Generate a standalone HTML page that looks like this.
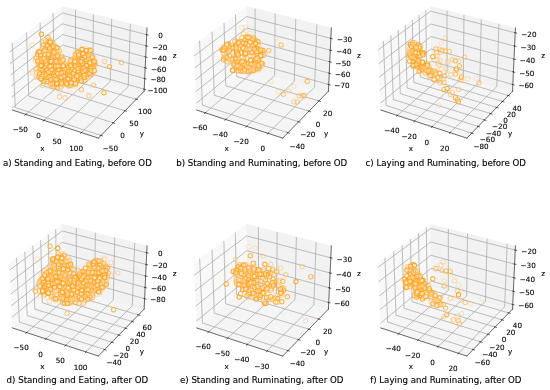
<!DOCTYPE html><html><head><meta charset="utf-8"><title>figure</title><style>html,body{margin:0;padding:0;background:#fff}svg{display:block}g[id^=tkx],g[id^=tky]{transform:translate(0px,0.9px)}text{font-family:"DejaVu Sans","Liberation Sans",sans-serif;stroke:#000;stroke-width:0.3px;stroke-opacity:0.55}</style></head><body><svg width="550" height="390" viewBox="0 0 760.66 539.37" version="1.1"> <defs> <style type="text/css">*{stroke-linejoin: round; stroke-linecap: butt}</style> </defs> <g id="figure_1"> <g id="patch_1"> <path d="M 0 539.37 L 760.66 539.37 L 760.66 0 L 0 0 z " style="fill: #ffffff"/> </g> <g id="patch_2"> <path d="M 1.10 204.41 L 212.98 204.41 L 212.98 -1 M 1.10 -1 L 1.10 204.41 " style="fill: none; opacity: 0"/> </g> <g id="pane3d_1"> <g id="patch_3"> <path d="M 17.10 152.16 L 87.07 93.51 L 86.10 8.93 L 12.78 62.43 " style="fill: #f2f2f2; opacity: 0.5; stroke: #f2f2f2; stroke-linejoin: miter"/> </g> </g> <g id="pane3d_2"> <g id="patch_4"> <path d="M 87.07 93.51 L 199.34 126.15 L 203.35 38.65 L 86.10 8.93 " style="fill: #e6e6e6; opacity: 0.5; stroke: #e6e6e6; stroke-linejoin: miter"/> </g> </g> <g id="pane3d_3"> <g id="patch_5"> <path d="M 17.10 152.16 L 136.12 191.03 L 199.34 126.15 L 87.07 93.51 " style="fill: #ececec; opacity: 0.5; stroke: #ececec; stroke-linejoin: miter"/> </g> </g> <g id="grid3d_1"> <g id="Line3DCollection_1"> <path d="M 35.65 158.22 L 104.63 98.62 L 104.41 13.57 " style="fill: none; stroke: #adadad; stroke-width: 1.1"/> <path d="M 60.74 166.42 L 128.35 105.51 L 129.15 19.84 " style="fill: none; stroke: #adadad; stroke-width: 1.1"/> <path d="M 86.40 174.80 L 152.57 112.55 L 154.44 26.25 " style="fill: none; stroke: #adadad; stroke-width: 1.1"/> <path d="M 112.66 183.37 L 177.30 119.74 L 180.29 32.80 " style="fill: none; stroke: #adadad; stroke-width: 1.1"/> </g> </g> <g id="grid3d_2"> <g id="Line3DCollection_2"> <path d="M 16.99 59.36 L 21.10 148.81 L 139.75 187.31 " style="fill: none; stroke: #adadad; stroke-width: 1.1"/> <path d="M 36.67 45.00 L 39.84 133.10 L 156.73 169.88 " style="fill: none; stroke: #adadad; stroke-width: 1.1"/> <path d="M 55.46 31.28 L 57.77 118.07 L 172.94 153.25 " style="fill: none; stroke: #adadad; stroke-width: 1.1"/> <path d="M 73.43 18.17 L 74.95 103.67 L 188.43 137.35 " style="fill: none; stroke: #adadad; stroke-width: 1.1"/> </g> </g> <g id="grid3d_3"> <g id="Line3DCollection_3"> <path d="M 202.93 47.94 L 86.20 17.89 L 13.24 71.97 " style="fill: none; stroke: #adadad; stroke-width: 1.1"/> <path d="M 202.21 63.49 L 86.37 32.91 L 14.01 87.94 " style="fill: none; stroke: #adadad; stroke-width: 1.1"/> <path d="M 201.51 78.81 L 86.54 47.71 L 14.76 103.65 " style="fill: none; stroke: #adadad; stroke-width: 1.1"/> <path d="M 200.82 93.89 L 86.71 62.29 L 15.51 119.12 " style="fill: none; stroke: #adadad; stroke-width: 1.1"/> <path d="M 200.14 108.75 L 86.88 76.67 L 16.24 134.35 " style="fill: none; stroke: #adadad; stroke-width: 1.1"/> <path d="M 199.47 123.39 L 87.04 90.84 L 16.96 149.34 " style="fill: none; stroke: #adadad; stroke-width: 1.1"/> </g> </g> <g id="axis3d_1"> <g id="line2d_1"> <path d="M 17.10 152.16 L 136.12 191.03 " style="fill: none; stroke: #000000; stroke-width: 0.8; stroke-linecap: square"/> </g> <g id="xtick_1"> <g id="line2d_2"> <path d="M 36.25 157.70 L 34.44 159.26 " style="fill: none; stroke: #000000; stroke-width: 0.8; stroke-linecap: square"/> </g> <g id="tkx_a_0"> <text style="font-size: 10px; text-anchor: middle" x="28.13" y="181.64">−50</text> </g> </g> <g id="xtick_2"> <g id="line2d_3"> <path d="M 61.33 165.88 L 59.56 167.48 " style="fill: none; stroke: #000000; stroke-width: 0.8; stroke-linecap: square"/> </g> <g id="tkx_a_1"> <text style="font-size: 10px; text-anchor: middle" x="53.25" y="190.06">0</text> </g> </g> <g id="xtick_3"> <g id="line2d_4"> <path d="M 86.98 174.25 L 85.25 175.89 " style="fill: none; stroke: #000000; stroke-width: 0.8; stroke-linecap: square"/> </g> <g id="tkx_a_2"> <text style="font-size: 10px; text-anchor: middle" x="78.95" y="198.66">50</text> </g> </g> <g id="xtick_4"> <g id="line2d_5"> <path d="M 113.23 182.82 L 111.53 184.49 " style="fill: none; stroke: #000000; stroke-width: 0.8; stroke-linecap: square"/> </g> <g id="tkx_a_3"> <text style="font-size: 10px; text-anchor: middle" x="105.25" y="207.47">100</text> </g> </g> <g id="text_1"> <text style="font-size: 10px; text-anchor: middle" x="58.71" y="209.19">x</text> </g> </g> <g id="axis3d_2"> <g id="line2d_6"> <path d="M 199.34 126.15 L 136.12 191.03 " style="fill: none; stroke: #000000; stroke-width: 0.8; stroke-linecap: square"/> </g> <g id="xtick_5"> <g id="line2d_7"> <path d="M 138.75 186.98 L 141.75 187.96 " style="fill: none; stroke: #000000; stroke-width: 0.8; stroke-linecap: square"/> </g> <g id="tky_a_0"> <text style="font-size: 10px; text-anchor: middle" x="152.65" y="208.34">−50</text> </g> </g> <g id="xtick_6"> <g id="line2d_8"> <path d="M 155.74 169.57 L 158.70 170.50 " style="fill: none; stroke: #000000; stroke-width: 0.8; stroke-linecap: square"/> </g> <g id="tky_a_1"> <text style="font-size: 10px; text-anchor: middle" x="169.34" y="190.60">0</text> </g> </g> <g id="xtick_7"> <g id="line2d_9"> <path d="M 171.97 152.95 L 174.88 153.84 " style="fill: none; stroke: #000000; stroke-width: 0.8; stroke-linecap: square"/> </g> <g id="tky_a_2"> <text style="font-size: 10px; text-anchor: middle" x="185.27" y="173.65">50</text> </g> </g> <g id="xtick_8"> <g id="line2d_10"> <path d="M 187.48 137.06 L 190.34 137.91 " style="fill: none; stroke: #000000; stroke-width: 0.8; stroke-linecap: square"/> </g> <g id="tky_a_3"> <text style="font-size: 10px; text-anchor: middle" x="200.50" y="157.46">100</text> </g> </g> <g id="text_2"> <text style="font-size: 10px; text-anchor: middle" x="196.13" y="187.92">y</text> </g> </g> <g id="axis3d_3"> <g id="line2d_11"> <path d="M 199.34 126.15 L 203.35 38.65 " style="fill: none; stroke: #000000; stroke-width: 0.8; stroke-linecap: square"/> </g> <g id="xtick_9"> <g id="line2d_12"> <path d="M 201.94 47.69 L 204.89 48.45 " style="fill: none; stroke: #000000; stroke-width: 0.8; stroke-linecap: square"/> </g> <g id="text_3"> <text style="font-size: 10px; text-anchor: middle" x="221.87" y="53.14">0</text> </g> </g> <g id="xtick_10"> <g id="line2d_13"> <path d="M 201.24 63.23 L 204.16 64.01 " style="fill: none; stroke: #000000; stroke-width: 0.8; stroke-linecap: square"/> </g> <g id="text_4"> <text style="font-size: 10px; text-anchor: middle" x="221.02" y="68.65">−20</text> </g> </g> <g id="xtick_11"> <g id="line2d_14"> <path d="M 200.55 78.55 L 203.45 79.33 " style="fill: none; stroke: #000000; stroke-width: 0.8; stroke-linecap: square"/> </g> <g id="text_5"> <text style="font-size: 10px; text-anchor: middle" x="220.18" y="83.92">−40</text> </g> </g> <g id="xtick_12"> <g id="line2d_15"> <path d="M 199.86 93.63 L 202.74 94.42 " style="fill: none; stroke: #000000; stroke-width: 0.8; stroke-linecap: square"/> </g> <g id="text_6"> <text style="font-size: 10px; text-anchor: middle" x="219.35" y="98.97">−60</text> </g> </g> <g id="xtick_13"> <g id="line2d_16"> <path d="M 199.19 108.48 L 202.05 109.29 " style="fill: none; stroke: #000000; stroke-width: 0.8; stroke-linecap: square"/> </g> <g id="text_7"> <text style="font-size: 10px; text-anchor: middle" x="218.53" y="113.79">−80</text> </g> </g> <g id="xtick_14"> <g id="line2d_17"> <path d="M 198.53 123.12 L 201.36 123.94 " style="fill: none; stroke: #000000; stroke-width: 0.8; stroke-linecap: square"/> </g> <g id="text_8"> <text style="font-size: 10px; text-anchor: middle" x="217.73" y="128.39">−100</text> </g> </g> <g id="text_9"> <text style="font-size: 10px; text-anchor: middle" x="241.61" y="80.72">z</text> </g> </g> <g id="axes_1"/> <g id="patch_6"> <path d="M 255.99 204.41 L 467.87 204.41 L 467.87 -1 M 255.99 -1 L 255.99 204.41 " style="fill: none; opacity: 0"/> </g> <g id="pane3d_4"> <g id="patch_7"> <path d="M 271.99 152.16 L 341.96 93.51 L 340.99 8.93 L 267.67 62.43 " style="fill: #f2f2f2; opacity: 0.5; stroke: #f2f2f2; stroke-linejoin: miter"/> </g> </g> <g id="pane3d_5"> <g id="patch_8"> <path d="M 341.96 93.51 L 454.24 126.15 L 458.24 38.65 L 340.99 8.93 " style="fill: #e6e6e6; opacity: 0.5; stroke: #e6e6e6; stroke-linejoin: miter"/> </g> </g> <g id="pane3d_6"> <g id="patch_9"> <path d="M 271.99 152.16 L 391.01 191.03 L 454.24 126.15 L 341.96 93.51 " style="fill: #ececec; opacity: 0.5; stroke: #ececec; stroke-linejoin: miter"/> </g> </g> <g id="grid3d_4"> <g id="Line3DCollection_4"> <path d="M 283.90 156.05 L 353.24 96.79 L 352.74 11.91 " style="fill: none; stroke: #adadad; stroke-width: 1.1"/> <path d="M 312.09 165.26 L 379.90 104.54 L 380.55 18.96 " style="fill: none; stroke: #adadad; stroke-width: 1.1"/> <path d="M 341.01 174.70 L 407.19 112.47 L 409.05 26.18 " style="fill: none; stroke: #adadad; stroke-width: 1.1"/> <path d="M 370.69 184.40 L 435.13 120.60 L 438.26 33.59 " style="fill: none; stroke: #adadad; stroke-width: 1.1"/> </g> </g> <g id="grid3d_5"> <g id="Line3DCollection_5"> <path d="M 276.02 56.34 L 279.94 145.50 L 398.22 183.64 " style="fill: none; stroke: #adadad; stroke-width: 1.1"/> <path d="M 293.27 43.75 L 296.36 131.73 L 413.09 168.37 " style="fill: none; stroke: #adadad; stroke-width: 1.1"/> <path d="M 309.83 31.66 L 312.16 118.49 L 427.38 153.71 " style="fill: none; stroke: #adadad; stroke-width: 1.1"/> <path d="M 325.75 20.05 L 327.38 105.74 L 441.10 139.62 " style="fill: none; stroke: #adadad; stroke-width: 1.1"/> </g> </g> <g id="grid3d_6"> <g id="Line3DCollection_6"> <path d="M 457.58 53.09 L 341.15 22.86 L 268.38 77.26 " style="fill: none; stroke: #adadad; stroke-width: 1.1"/> <path d="M 456.83 69.43 L 341.33 38.64 L 269.19 94.03 " style="fill: none; stroke: #adadad; stroke-width: 1.1"/> <path d="M 456.10 85.51 L 341.51 54.19 L 269.99 110.53 " style="fill: none; stroke: #adadad; stroke-width: 1.1"/> <path d="M 455.37 101.34 L 341.68 69.50 L 270.77 126.75 " style="fill: none; stroke: #adadad; stroke-width: 1.1"/> <path d="M 454.66 116.92 L 341.86 84.57 L 271.54 142.71 " style="fill: none; stroke: #adadad; stroke-width: 1.1"/> </g> </g> <g id="axis3d_4"> <g id="line2d_18"> <path d="M 271.99 152.16 L 391.01 191.03 " style="fill: none; stroke: #000000; stroke-width: 0.8; stroke-linecap: square"/> </g> <g id="xtick_15"> <g id="line2d_19"> <path d="M 284.50 155.53 L 282.69 157.09 " style="fill: none; stroke: #000000; stroke-width: 0.8; stroke-linecap: square"/> </g> <g id="tkx_b_0"> <text style="font-size: 10px; text-anchor: middle" x="276.37" y="179.42">−60</text> </g> </g> <g id="xtick_16"> <g id="line2d_20"> <path d="M 312.68 164.73 L 310.90 166.32 " style="fill: none; stroke: #000000; stroke-width: 0.8; stroke-linecap: square"/> </g> <g id="tkx_b_1"> <text style="font-size: 10px; text-anchor: middle" x="304.59" y="188.87">−40</text> </g> </g> <g id="xtick_17"> <g id="line2d_21"> <path d="M 341.59 174.16 L 339.85 175.79 " style="fill: none; stroke: #000000; stroke-width: 0.8; stroke-linecap: square"/> </g> <g id="tkx_b_2"> <text style="font-size: 10px; text-anchor: middle" x="333.56" y="198.57">−20</text> </g> </g> <g id="xtick_18"> <g id="line2d_22"> <path d="M 371.25 183.84 L 369.56 185.51 " style="fill: none; stroke: #000000; stroke-width: 0.8; stroke-linecap: square"/> </g> <g id="tkx_b_3"> <text style="font-size: 10px; text-anchor: middle" x="363.28" y="208.52">0</text> </g> </g> <g id="text_10"> <text style="font-size: 10px; text-anchor: middle" x="313.60" y="209.19">x</text> </g> </g> <g id="axis3d_5"> <g id="line2d_23"> <path d="M 454.24 126.15 L 391.01 191.03 " style="fill: none; stroke: #000000; stroke-width: 0.8; stroke-linecap: square"/> </g> <g id="xtick_19"> <g id="line2d_24"> <path d="M 397.22 183.31 L 400.21 184.28 " style="fill: none; stroke: #000000; stroke-width: 0.8; stroke-linecap: square"/> </g> <g id="tky_b_0"> <text style="font-size: 10px; text-anchor: middle" x="411.05" y="204.61">−40</text> </g> </g> <g id="xtick_20"> <g id="line2d_25"> <path d="M 412.11 168.06 L 415.06 168.99 " style="fill: none; stroke: #000000; stroke-width: 0.8; stroke-linecap: square"/> </g> <g id="tky_b_1"> <text style="font-size: 10px; text-anchor: middle" x="425.68" y="189.05">−20</text> </g> </g> <g id="xtick_21"> <g id="line2d_26"> <path d="M 426.41 153.41 L 429.32 154.30 " style="fill: none; stroke: #000000; stroke-width: 0.8; stroke-linecap: square"/> </g> <g id="tky_b_2"> <text style="font-size: 10px; text-anchor: middle" x="439.72" y="174.12">0</text> </g> </g> <g id="xtick_22"> <g id="line2d_27"> <path d="M 440.15 139.34 L 443.02 140.19 " style="fill: none; stroke: #000000; stroke-width: 0.8; stroke-linecap: square"/> </g> <g id="tky_b_3"> <text style="font-size: 10px; text-anchor: middle" x="453.21" y="159.78">20</text> </g> </g> <g id="text_11"> <text style="font-size: 10px; text-anchor: middle" x="451.02" y="187.92">y</text> </g> </g> <g id="axis3d_6"> <g id="line2d_28"> <path d="M 454.24 126.15 L 458.24 38.65 " style="fill: none; stroke: #000000; stroke-width: 0.8; stroke-linecap: square"/> </g> <g id="xtick_23"> <g id="line2d_29"> <path d="M 456.60 52.83 L 459.54 53.60 " style="fill: none; stroke: #000000; stroke-width: 0.8; stroke-linecap: square"/> </g> <g id="text_12"> <text style="font-size: 10px; text-anchor: middle" x="476.48" y="58.27">−30</text> </g> </g> <g id="xtick_24"> <g id="line2d_30"> <path d="M 455.86 69.17 L 458.78 69.95 " style="fill: none; stroke: #000000; stroke-width: 0.8; stroke-linecap: square"/> </g> <g id="text_13"> <text style="font-size: 10px; text-anchor: middle" x="475.58" y="74.57">−40</text> </g> </g> <g id="xtick_25"> <g id="line2d_31"> <path d="M 455.13 85.25 L 458.02 86.04 " style="fill: none; stroke: #000000; stroke-width: 0.8; stroke-linecap: square"/> </g> <g id="text_14"> <text style="font-size: 10px; text-anchor: middle" x="474.70" y="90.61">−50</text> </g> </g> <g id="xtick_26"> <g id="line2d_32"> <path d="M 454.42 101.07 L 457.28 101.88 " style="fill: none; stroke: #000000; stroke-width: 0.8; stroke-linecap: square"/> </g> <g id="text_15"> <text style="font-size: 10px; text-anchor: middle" x="473.83" y="106.40">−60</text> </g> </g> <g id="xtick_27"> <g id="line2d_33"> <path d="M 453.71 116.65 L 456.55 117.46 " style="fill: none; stroke: #000000; stroke-width: 0.8; stroke-linecap: square"/> </g> <g id="text_16"> <text style="font-size: 10px; text-anchor: middle" x="472.98" y="121.94">−70</text> </g> </g> <g id="text_17"> <text style="font-size: 10px; text-anchor: middle" x="496.50" y="80.72">z</text> </g> </g> <g id="axes_2"/> <g id="patch_10"> <path d="M 510.61 204.41 L 722.48 204.41 L 722.48 -1 M 510.61 -1 L 510.61 204.41 " style="fill: none; opacity: 0"/> </g> <g id="pane3d_7"> <g id="patch_11"> <path d="M 526.60 152.16 L 596.57 93.51 L 595.60 8.93 L 522.28 62.43 " style="fill: #f2f2f2; opacity: 0.5; stroke: #f2f2f2; stroke-linejoin: miter"/> </g> </g> <g id="pane3d_8"> <g id="patch_12"> <path d="M 596.57 93.51 L 708.85 126.15 L 712.86 38.65 L 595.60 8.93 " style="fill: #e6e6e6; opacity: 0.5; stroke: #e6e6e6; stroke-linejoin: miter"/> </g> </g> <g id="pane3d_9"> <g id="patch_13"> <path d="M 526.60 152.16 L 645.62 191.03 L 708.85 126.15 L 596.57 93.51 " style="fill: #ececec; opacity: 0.5; stroke: #ececec; stroke-linejoin: miter"/> </g> </g> <g id="grid3d_7"> <g id="Line3DCollection_7"> <path d="M 549.54 159.65 L 618.28 99.82 L 618.24 14.67 " style="fill: none; stroke: #adadad; stroke-width: 1.1"/> <path d="M 573.31 167.42 L 640.76 106.36 L 641.68 20.61 " style="fill: none; stroke: #adadad; stroke-width: 1.1"/> <path d="M 597.61 175.35 L 663.67 113.02 L 665.62 26.68 " style="fill: none; stroke: #adadad; stroke-width: 1.1"/> <path d="M 622.43 183.46 L 687.05 119.81 L 690.05 32.87 " style="fill: none; stroke: #adadad; stroke-width: 1.1"/> </g> </g> <g id="grid3d_8"> <g id="Line3DCollection_8"> <path d="M 530.13 56.71 L 534.07 145.91 L 652.39 184.09 " style="fill: none; stroke: #adadad; stroke-width: 1.1"/> <path d="M 540.51 49.13 L 543.95 137.63 L 661.35 174.90 " style="fill: none; stroke: #adadad; stroke-width: 1.1"/> <path d="M 550.64 41.74 L 553.60 129.54 L 670.08 165.93 " style="fill: none; stroke: #adadad; stroke-width: 1.1"/> <path d="M 560.52 34.53 L 563.03 121.63 L 678.61 157.18 " style="fill: none; stroke: #adadad; stroke-width: 1.1"/> <path d="M 570.18 27.48 L 572.25 113.90 L 686.94 148.64 " style="fill: none; stroke: #adadad; stroke-width: 1.1"/> <path d="M 579.61 20.60 L 581.27 106.34 L 695.07 140.29 " style="fill: none; stroke: #adadad; stroke-width: 1.1"/> <path d="M 588.83 13.87 L 590.09 98.95 L 703.01 132.14 " style="fill: none; stroke: #adadad; stroke-width: 1.1"/> </g> </g> <g id="grid3d_9"> <g id="Line3DCollection_9"> <path d="M 712.55 45.35 L 595.67 15.39 L 522.61 69.31 " style="fill: none; stroke: #adadad; stroke-width: 1.1"/> <path d="M 711.71 63.71 L 595.88 33.12 L 523.52 88.17 " style="fill: none; stroke: #adadad; stroke-width: 1.1"/> <path d="M 710.88 81.75 L 596.08 50.55 L 524.41 106.67 " style="fill: none; stroke: #adadad; stroke-width: 1.1"/> <path d="M 710.07 99.47 L 596.28 67.68 L 525.29 124.83 " style="fill: none; stroke: #adadad; stroke-width: 1.1"/> <path d="M 709.27 116.87 L 596.47 84.53 L 526.15 142.67 " style="fill: none; stroke: #adadad; stroke-width: 1.1"/> </g> </g> <g id="axis3d_7"> <g id="line2d_34"> <path d="M 526.60 152.16 L 645.62 191.03 " style="fill: none; stroke: #000000; stroke-width: 0.8; stroke-linecap: square"/> </g> <g id="xtick_28"> <g id="line2d_35"> <path d="M 550.14 159.13 L 548.34 160.70 " style="fill: none; stroke: #000000; stroke-width: 0.8; stroke-linecap: square"/> </g> <g id="tkx_c_0"> <text style="font-size: 10px; text-anchor: middle" x="542.02" y="183.11">−40</text> </g> </g> <g id="xtick_29"> <g id="line2d_36"> <path d="M 573.90 166.89 L 572.13 168.49 " style="fill: none; stroke: #000000; stroke-width: 0.8; stroke-linecap: square"/> </g> <g id="tkx_c_1"> <text style="font-size: 10px; text-anchor: middle" x="565.83" y="191.09">−20</text> </g> </g> <g id="xtick_30"> <g id="line2d_37"> <path d="M 598.18 174.81 L 596.45 176.44 " style="fill: none; stroke: #000000; stroke-width: 0.8; stroke-linecap: square"/> </g> <g id="tkx_c_2"> <text style="font-size: 10px; text-anchor: middle" x="590.16" y="199.23">0</text> </g> </g> <g id="xtick_31"> <g id="line2d_38"> <path d="M 622.99 182.90 L 621.30 184.57 " style="fill: none; stroke: #000000; stroke-width: 0.8; stroke-linecap: square"/> </g> <g id="tkx_c_3"> <text style="font-size: 10px; text-anchor: middle" x="615.02" y="207.56">20</text> </g> </g> <g id="text_18"> <text style="font-size: 10px; text-anchor: middle" x="568.22" y="209.19">x</text> </g> </g> <g id="axis3d_8"> <g id="line2d_39"> <path d="M 708.85 126.15 L 645.62 191.03 " style="fill: none; stroke: #000000; stroke-width: 0.8; stroke-linecap: square"/> </g> <g id="xtick_32"> <g id="line2d_40"> <path d="M 651.39 183.76 L 654.39 184.73 " style="fill: none; stroke: #000000; stroke-width: 0.8; stroke-linecap: square"/> </g> <g id="tky_c_0"> <text style="font-size: 10px; text-anchor: middle" x="665.23" y="205.06">−80</text> </g> </g> <g id="xtick_33"> <g id="line2d_41"> <path d="M 660.36 174.58 L 663.32 175.53 " style="fill: none; stroke: #000000; stroke-width: 0.8; stroke-linecap: square"/> </g> <g id="tky_c_1"> <text style="font-size: 10px; text-anchor: middle" x="674.04" y="195.71">−60</text> </g> </g> <g id="xtick_34"> <g id="line2d_42"> <path d="M 669.10 165.63 L 672.04 166.55 " style="fill: none; stroke: #000000; stroke-width: 0.8; stroke-linecap: square"/> </g> <g id="tky_c_2"> <text style="font-size: 10px; text-anchor: middle" x="682.63" y="186.57">−40</text> </g> </g> <g id="xtick_35"> <g id="line2d_43"> <path d="M 677.64 156.88 L 680.56 157.78 " style="fill: none; stroke: #000000; stroke-width: 0.8; stroke-linecap: square"/> </g> <g id="tky_c_3"> <text style="font-size: 10px; text-anchor: middle" x="691.01" y="177.66">−20</text> </g> </g> <g id="xtick_36"> <g id="line2d_44"> <path d="M 685.97 148.34 L 688.87 149.22 " style="fill: none; stroke: #000000; stroke-width: 0.8; stroke-linecap: square"/> </g> <g id="tky_c_4"> <text style="font-size: 10px; text-anchor: middle" x="699.19" y="168.96">0</text> </g> </g> <g id="xtick_37"> <g id="line2d_45"> <path d="M 694.11 140.01 L 696.98 140.86 " style="fill: none; stroke: #000000; stroke-width: 0.8; stroke-linecap: square"/> </g> <g id="tky_c_5"> <text style="font-size: 10px; text-anchor: middle" x="707.19" y="160.46">20</text> </g> </g> <g id="xtick_38"> <g id="line2d_46"> <path d="M 702.06 131.86 L 704.91 132.70 " style="fill: none; stroke: #000000; stroke-width: 0.8; stroke-linecap: square"/> </g> <g id="tky_c_6"> <text style="font-size: 10px; text-anchor: middle" x="715.00" y="152.15">40</text> </g> </g> <g id="text_19"> <text style="font-size: 10px; text-anchor: middle" x="705.63" y="187.92">y</text> </g> </g> <g id="axis3d_9"> <g id="line2d_47"> <path d="M 708.85 126.15 L 712.86 38.65 " style="fill: none; stroke: #000000; stroke-width: 0.8; stroke-linecap: square"/> </g> <g id="xtick_39"> <g id="line2d_48"> <path d="M 711.57 45.09 L 714.52 45.85 " style="fill: none; stroke: #000000; stroke-width: 0.8; stroke-linecap: square"/> </g> <g id="text_20"> <text style="font-size: 10px; text-anchor: middle" x="731.52" y="50.55">−20</text> </g> </g> <g id="xtick_40"> <g id="line2d_49"> <path d="M 710.73 63.45 L 713.66 64.23 " style="fill: none; stroke: #000000; stroke-width: 0.8; stroke-linecap: square"/> </g> <g id="text_21"> <text style="font-size: 10px; text-anchor: middle" x="730.51" y="68.87">−30</text> </g> </g> <g id="xtick_41"> <g id="line2d_50"> <path d="M 709.92 81.49 L 712.81 82.27 " style="fill: none; stroke: #000000; stroke-width: 0.8; stroke-linecap: square"/> </g> <g id="text_22"> <text style="font-size: 10px; text-anchor: middle" x="729.52" y="86.86">−40</text> </g> </g> <g id="xtick_42"> <g id="line2d_51"> <path d="M 709.12 99.20 L 711.98 100.00 " style="fill: none; stroke: #000000; stroke-width: 0.8; stroke-linecap: square"/> </g> <g id="text_23"> <text style="font-size: 10px; text-anchor: middle" x="728.55" y="104.53">−50</text> </g> </g> <g id="xtick_43"> <g id="line2d_52"> <path d="M 708.33 116.60 L 711.17 117.42 " style="fill: none; stroke: #000000; stroke-width: 0.8; stroke-linecap: square"/> </g> <g id="text_24"> <text style="font-size: 10px; text-anchor: middle" x="727.59" y="121.89">−60</text> </g> </g> <g id="text_25"> <text style="font-size: 10px; text-anchor: middle" x="751.12" y="80.72">z</text> </g> </g> <g id="axes_3"/> <g id="patch_14"> <path d="M 1.10 505.77 L 212.98 505.77 L 212.98 293.89 L 1.10 293.89 L 1.10 505.77 z " style="fill: none; opacity: 0"/> </g> <g id="pane3d_10"> <g id="patch_15"> <path d="M 17.10 453.52 L 87.07 394.87 L 86.10 310.29 L 12.78 363.79 " style="fill: #f2f2f2; opacity: 0.5; stroke: #f2f2f2; stroke-linejoin: miter"/> </g> </g> <g id="pane3d_11"> <g id="patch_16"> <path d="M 87.07 394.87 L 199.34 427.51 L 203.35 340.01 L 86.10 310.29 " style="fill: #e6e6e6; opacity: 0.5; stroke: #e6e6e6; stroke-linejoin: miter"/> </g> </g> <g id="pane3d_12"> <g id="patch_17"> <path d="M 17.10 453.52 L 136.12 492.39 L 199.34 427.51 L 87.07 394.87 " style="fill: #ececec; opacity: 0.5; stroke: #ececec; stroke-linejoin: miter"/> </g> </g> <g id="grid3d_10"> <g id="Line3DCollection_10"> <path d="M 36.79 459.95 L 105.71 400.29 L 105.53 315.22 " style="fill: none; stroke: #adadad; stroke-width: 1.1"/> <path d="M 63.46 468.66 L 130.92 407.62 L 131.83 321.88 " style="fill: none; stroke: #adadad; stroke-width: 1.1"/> <path d="M 90.77 477.58 L 156.68 415.11 L 158.74 328.70 " style="fill: none; stroke: #adadad; stroke-width: 1.1"/> <path d="M 118.76 486.73 L 183.03 422.77 L 186.29 335.68 " style="fill: none; stroke: #adadad; stroke-width: 1.1"/> </g> </g> <g id="grid3d_11"> <g id="Line3DCollection_11"> <path d="M 22.90 356.41 L 26.73 445.45 L 144.85 483.43 " style="fill: none; stroke: #adadad; stroke-width: 1.1"/> <path d="M 34.30 348.09 L 37.59 436.35 L 154.69 473.33 " style="fill: none; stroke: #adadad; stroke-width: 1.1"/> <path d="M 45.41 339.98 L 48.17 427.48 L 164.27 463.51 " style="fill: none; stroke: #adadad; stroke-width: 1.1"/> <path d="M 56.22 332.09 L 58.50 418.82 L 173.59 453.93 " style="fill: none; stroke: #adadad; stroke-width: 1.1"/> <path d="M 66.76 324.40 L 68.56 410.38 L 182.68 444.61 " style="fill: none; stroke: #adadad; stroke-width: 1.1"/> <path d="M 77.03 316.91 L 78.38 402.15 L 191.53 435.53 " style="fill: none; stroke: #adadad; stroke-width: 1.1"/> </g> </g> <g id="grid3d_12"> <g id="Line3DCollection_12"> <path d="M 202.92 349.50 L 86.20 319.44 L 13.25 373.54 " style="fill: none; stroke: #adadad; stroke-width: 1.1"/> <path d="M 202.17 365.79 L 86.38 335.17 L 14.05 390.26 " style="fill: none; stroke: #adadad; stroke-width: 1.1"/> <path d="M 201.44 381.82 L 86.56 350.66 L 14.85 406.71 " style="fill: none; stroke: #adadad; stroke-width: 1.1"/> <path d="M 200.71 397.60 L 86.74 365.92 L 15.62 422.88 " style="fill: none; stroke: #adadad; stroke-width: 1.1"/> <path d="M 200.00 413.13 L 86.91 380.95 L 16.39 438.80 " style="fill: none; stroke: #adadad; stroke-width: 1.1"/> </g> </g> <g id="axis3d_10"> <g id="line2d_53"> <path d="M 17.10 453.52 L 136.12 492.39 " style="fill: none; stroke: #000000; stroke-width: 0.8; stroke-linecap: square"/> </g> <g id="xtick_44"> <g id="line2d_54"> <path d="M 37.39 459.43 L 35.59 461.00 " style="fill: none; stroke: #000000; stroke-width: 0.8; stroke-linecap: square"/> </g> <g id="tkx_d_0"> <text style="font-size: 10px; text-anchor: middle" x="29.27" y="483.39">−50</text> </g> </g> <g id="xtick_45"> <g id="line2d_55"> <path d="M 64.05 468.13 L 62.28 469.73 " style="fill: none; stroke: #000000; stroke-width: 0.8; stroke-linecap: square"/> </g> <g id="tkx_d_1"> <text style="font-size: 10px; text-anchor: middle" x="55.97" y="492.33">0</text> </g> </g> <g id="xtick_46"> <g id="line2d_56"> <path d="M 91.35 477.04 L 89.62 478.68 " style="fill: none; stroke: #000000; stroke-width: 0.8; stroke-linecap: square"/> </g> <g id="tkx_d_2"> <text style="font-size: 10px; text-anchor: middle" x="83.33" y="501.49">50</text> </g> </g> <g id="xtick_47"> <g id="line2d_57"> <path d="M 119.32 486.17 L 117.63 487.85 " style="fill: none; stroke: #000000; stroke-width: 0.8; stroke-linecap: square"/> </g> <g id="tkx_d_3"> <text style="font-size: 10px; text-anchor: middle" x="111.36" y="510.88">100</text> </g> </g> <g id="text_26"> <text style="font-size: 10px; text-anchor: middle" x="58.71" y="510.55">x</text> </g> </g> <g id="axis3d_11"> <g id="line2d_58"> <path d="M 199.34 427.51 L 136.12 492.39 " style="fill: none; stroke: #000000; stroke-width: 0.8; stroke-linecap: square"/> </g> <g id="xtick_48"> <g id="line2d_59"> <path d="M 143.85 483.11 L 146.84 484.07 " style="fill: none; stroke: #000000; stroke-width: 0.8; stroke-linecap: square"/> </g> <g id="tky_d_0"> <text style="font-size: 10px; text-anchor: middle" x="157.66" y="504.37">−40</text> </g> </g> <g id="xtick_49"> <g id="line2d_60"> <path d="M 153.70 473.02 L 156.66 473.96 " style="fill: none; stroke: #000000; stroke-width: 0.8; stroke-linecap: square"/> </g> <g id="tky_d_1"> <text style="font-size: 10px; text-anchor: middle" x="167.33" y="494.09">−20</text> </g> </g> <g id="xtick_50"> <g id="line2d_61"> <path d="M 163.29 463.20 L 166.22 464.11 " style="fill: none; stroke: #000000; stroke-width: 0.8; stroke-linecap: square"/> </g> <g id="tky_d_2"> <text style="font-size: 10px; text-anchor: middle" x="176.75" y="484.08">0</text> </g> </g> <g id="xtick_51"> <g id="line2d_62"> <path d="M 172.63 453.64 L 175.53 454.53 " style="fill: none; stroke: #000000; stroke-width: 0.8; stroke-linecap: square"/> </g> <g id="tky_d_3"> <text style="font-size: 10px; text-anchor: middle" x="185.92" y="474.33">20</text> </g> </g> <g id="xtick_52"> <g id="line2d_63"> <path d="M 181.72 444.33 L 184.60 445.19 " style="fill: none; stroke: #000000; stroke-width: 0.8; stroke-linecap: square"/> </g> <g id="tky_d_4"> <text style="font-size: 10px; text-anchor: middle" x="194.85" y="464.83">40</text> </g> </g> <g id="xtick_53"> <g id="line2d_64"> <path d="M 190.58 435.25 L 193.43 436.09 " style="fill: none; stroke: #000000; stroke-width: 0.8; stroke-linecap: square"/> </g> <g id="tky_d_5"> <text style="font-size: 10px; text-anchor: middle" x="203.55" y="455.58">60</text> </g> </g> <g id="text_27"> <text style="font-size: 10px; text-anchor: middle" x="196.13" y="489.28">y</text> </g> </g> <g id="axis3d_12"> <g id="line2d_65"> <path d="M 199.34 427.51 L 203.35 340.01 " style="fill: none; stroke: #000000; stroke-width: 0.8; stroke-linecap: square"/> </g> <g id="xtick_54"> <g id="line2d_66"> <path d="M 201.94 349.24 L 204.88 350.00 " style="fill: none; stroke: #000000; stroke-width: 0.8; stroke-linecap: square"/> </g> <g id="text_28"> <text style="font-size: 10px; text-anchor: middle" x="221.86" y="354.69">0</text> </g> </g> <g id="xtick_55"> <g id="line2d_67"> <path d="M 201.20 365.53 L 204.12 366.30 " style="fill: none; stroke: #000000; stroke-width: 0.8; stroke-linecap: square"/> </g> <g id="text_29"> <text style="font-size: 10px; text-anchor: middle" x="220.97" y="370.94">−20</text> </g> </g> <g id="xtick_56"> <g id="line2d_68"> <path d="M 200.47 381.56 L 203.37 382.34 " style="fill: none; stroke: #000000; stroke-width: 0.8; stroke-linecap: square"/> </g> <g id="text_30"> <text style="font-size: 10px; text-anchor: middle" x="220.09" y="386.93">−40</text> </g> </g> <g id="xtick_57"> <g id="line2d_69"> <path d="M 199.76 397.33 L 202.63 398.13 " style="fill: none; stroke: #000000; stroke-width: 0.8; stroke-linecap: square"/> </g> <g id="text_31"> <text style="font-size: 10px; text-anchor: middle" x="219.22" y="402.67">−60</text> </g> </g> <g id="xtick_58"> <g id="line2d_70"> <path d="M 199.05 412.86 L 201.90 413.67 " style="fill: none; stroke: #000000; stroke-width: 0.8; stroke-linecap: square"/> </g> <g id="text_32"> <text style="font-size: 10px; text-anchor: middle" x="218.37" y="418.16">−80</text> </g> </g> <g id="text_33"> <text style="font-size: 10px; text-anchor: middle" x="241.61" y="382.08">z</text> </g> </g> <g id="axes_4"/> <g id="patch_18"> <path d="M 255.99 505.77 L 467.87 505.77 L 467.87 293.89 L 255.99 293.89 L 255.99 505.77 z " style="fill: none; opacity: 0"/> </g> <g id="pane3d_13"> <g id="patch_19"> <path d="M 271.99 453.52 L 341.96 394.87 L 340.99 310.29 L 267.67 363.79 " style="fill: #f2f2f2; opacity: 0.5; stroke: #f2f2f2; stroke-linejoin: miter"/> </g> </g> <g id="pane3d_14"> <g id="patch_20"> <path d="M 341.96 394.87 L 454.24 427.51 L 458.24 340.01 L 340.99 310.29 " style="fill: #e6e6e6; opacity: 0.5; stroke: #e6e6e6; stroke-linejoin: miter"/> </g> </g> <g id="pane3d_15"> <g id="patch_21"> <path d="M 271.99 453.52 L 391.01 492.39 L 454.24 427.51 L 341.96 394.87 " style="fill: #ececec; opacity: 0.5; stroke: #ececec; stroke-linejoin: miter"/> </g> </g> <g id="grid3d_13"> <g id="Line3DCollection_13"> <path d="M 288.54 458.93 L 357.63 399.43 L 357.32 314.43 " style="fill: none; stroke: #adadad; stroke-width: 1.1"/> <path d="M 314.89 467.54 L 382.55 406.67 L 383.32 321.02 " style="fill: none; stroke: #adadad; stroke-width: 1.1"/> <path d="M 341.89 476.35 L 408.02 414.07 L 409.91 327.76 " style="fill: none; stroke: #adadad; stroke-width: 1.1"/> <path d="M 369.54 485.38 L 434.05 421.64 L 437.13 334.66 " style="fill: none; stroke: #adadad; stroke-width: 1.1"/> </g> </g> <g id="grid3d_14"> <g id="Line3DCollection_14"> <path d="M 276.12 357.62 L 280.03 446.78 L 398.30 484.91 " style="fill: none; stroke: #adadad; stroke-width: 1.1"/> <path d="M 293.22 345.15 L 296.31 433.14 L 413.05 469.77 " style="fill: none; stroke: #adadad; stroke-width: 1.1"/> <path d="M 309.64 333.17 L 311.98 420.01 L 427.21 455.24 " style="fill: none; stroke: #adadad; stroke-width: 1.1"/> <path d="M 325.42 321.65 L 327.06 407.36 L 440.82 441.27 " style="fill: none; stroke: #adadad; stroke-width: 1.1"/> </g> </g> <g id="grid3d_15"> <g id="Line3DCollection_15"> <path d="M 457.49 356.52 L 341.17 326.22 L 268.49 380.74 " style="fill: none; stroke: #adadad; stroke-width: 1.1"/> <path d="M 456.52 377.56 L 341.40 346.54 L 269.53 402.34 " style="fill: none; stroke: #adadad; stroke-width: 1.1"/> <path d="M 455.58 398.17 L 341.63 366.47 L 270.54 423.47 " style="fill: none; stroke: #adadad; stroke-width: 1.1"/> <path d="M 454.65 418.36 L 341.86 386.01 L 271.54 444.15 " style="fill: none; stroke: #adadad; stroke-width: 1.1"/> </g> </g> <g id="axis3d_13"> <g id="line2d_71"> <path d="M 271.99 453.52 L 391.01 492.39 " style="fill: none; stroke: #000000; stroke-width: 0.8; stroke-linecap: square"/> </g> <g id="xtick_59"> <g id="line2d_72"> <path d="M 289.14 458.41 L 287.33 459.97 " style="fill: none; stroke: #000000; stroke-width: 0.8; stroke-linecap: square"/> </g> <g id="tkx_e_0"> <text style="font-size: 10px; text-anchor: middle" x="281.01" y="482.33">−60</text> </g> </g> <g id="xtick_60"> <g id="line2d_73"> <path d="M 315.48 467.00 L 313.71 468.60 " style="fill: none; stroke: #000000; stroke-width: 0.8; stroke-linecap: square"/> </g> <g id="tkx_e_1"> <text style="font-size: 10px; text-anchor: middle" x="307.40" y="491.17">−50</text> </g> </g> <g id="xtick_61"> <g id="line2d_74"> <path d="M 342.46 475.81 L 340.73 477.44 " style="fill: none; stroke: #000000; stroke-width: 0.8; stroke-linecap: square"/> </g> <g id="tkx_e_2"> <text style="font-size: 10px; text-anchor: middle" x="334.44" y="500.22">−40</text> </g> </g> <g id="xtick_62"> <g id="line2d_75"> <path d="M 370.10 484.82 L 368.41 486.50 " style="fill: none; stroke: #000000; stroke-width: 0.8; stroke-linecap: square"/> </g> <g id="tkx_e_3"> <text style="font-size: 10px; text-anchor: middle" x="362.13" y="509.50">−30</text> </g> </g> <g id="text_34"> <text style="font-size: 10px; text-anchor: middle" x="313.60" y="510.55">x</text> </g> </g> <g id="axis3d_14"> <g id="line2d_76"> <path d="M 454.24 427.51 L 391.01 492.39 " style="fill: none; stroke: #000000; stroke-width: 0.8; stroke-linecap: square"/> </g> <g id="xtick_63"> <g id="line2d_77"> <path d="M 397.31 484.59 L 400.30 485.55 " style="fill: none; stroke: #000000; stroke-width: 0.8; stroke-linecap: square"/> </g> <g id="tky_e_0"> <text style="font-size: 10px; text-anchor: middle" x="411.14" y="505.87">−40</text> </g> </g> <g id="xtick_64"> <g id="line2d_78"> <path d="M 412.07 469.47 L 415.02 470.39 " style="fill: none; stroke: #000000; stroke-width: 0.8; stroke-linecap: square"/> </g> <g id="tky_e_1"> <text style="font-size: 10px; text-anchor: middle" x="425.63" y="490.46">−20</text> </g> </g> <g id="xtick_65"> <g id="line2d_79"> <path d="M 426.24 454.95 L 429.15 455.84 " style="fill: none; stroke: #000000; stroke-width: 0.8; stroke-linecap: square"/> </g> <g id="tky_e_2"> <text style="font-size: 10px; text-anchor: middle" x="439.56" y="475.66">0</text> </g> </g> <g id="xtick_66"> <g id="line2d_80"> <path d="M 439.87 440.99 L 442.73 441.84 " style="fill: none; stroke: #000000; stroke-width: 0.8; stroke-linecap: square"/> </g> <g id="tky_e_3"> <text style="font-size: 10px; text-anchor: middle" x="452.94" y="461.43">20</text> </g> </g> <g id="text_35"> <text style="font-size: 10px; text-anchor: middle" x="451.02" y="489.28">y</text> </g> </g> <g id="axis3d_15"> <g id="line2d_81"> <path d="M 454.24 427.51 L 458.24 340.01 " style="fill: none; stroke: #000000; stroke-width: 0.8; stroke-linecap: square"/> </g> <g id="xtick_67"> <g id="line2d_82"> <path d="M 456.51 356.26 L 459.44 357.03 " style="fill: none; stroke: #000000; stroke-width: 0.8; stroke-linecap: square"/> </g> <g id="text_36"> <text style="font-size: 10px; text-anchor: middle" x="476.37" y="361.69">−30</text> </g> </g> <g id="xtick_68"> <g id="line2d_83"> <path d="M 455.56 377.30 L 458.46 378.08 " style="fill: none; stroke: #000000; stroke-width: 0.8; stroke-linecap: square"/> </g> <g id="text_37"> <text style="font-size: 10px; text-anchor: middle" x="475.21" y="382.68">−40</text> </g> </g> <g id="xtick_69"> <g id="line2d_84"> <path d="M 454.62 397.90 L 457.49 398.70 " style="fill: none; stroke: #000000; stroke-width: 0.8; stroke-linecap: square"/> </g> <g id="text_38"> <text style="font-size: 10px; text-anchor: middle" x="474.08" y="403.24">−50</text> </g> </g> <g id="xtick_70"> <g id="line2d_85"> <path d="M 453.71 418.09 L 456.55 418.90 " style="fill: none; stroke: #000000; stroke-width: 0.8; stroke-linecap: square"/> </g> <g id="text_39"> <text style="font-size: 10px; text-anchor: middle" x="472.97" y="423.38">−60</text> </g> </g> <g id="text_40"> <text style="font-size: 10px; text-anchor: middle" x="496.50" y="382.08">z</text> </g> </g> <g id="axes_5"/> <g id="patch_22"> <path d="M 510.61 505.77 L 722.48 505.77 L 722.48 293.89 L 510.61 293.89 L 510.61 505.77 z " style="fill: none; opacity: 0"/> </g> <g id="pane3d_16"> <g id="patch_23"> <path d="M 526.60 453.52 L 596.57 394.87 L 595.60 310.29 L 522.28 363.79 " style="fill: #f2f2f2; opacity: 0.5; stroke: #f2f2f2; stroke-linejoin: miter"/> </g> </g> <g id="pane3d_17"> <g id="patch_24"> <path d="M 596.57 394.87 L 708.85 427.51 L 712.86 340.01 L 595.60 310.29 " style="fill: #e6e6e6; opacity: 0.5; stroke: #e6e6e6; stroke-linejoin: miter"/> </g> </g> <g id="pane3d_18"> <g id="patch_25"> <path d="M 526.60 453.52 L 645.62 492.39 L 708.85 427.51 L 596.57 394.87 " style="fill: #ececec; opacity: 0.5; stroke: #ececec; stroke-linejoin: miter"/> </g> </g> <g id="grid3d_16"> <g id="Line3DCollection_16"> <path d="M 551.41 461.62 L 620.05 401.70 L 620.08 316.50 " style="fill: none; stroke: #adadad; stroke-width: 1.1"/> <path d="M 578.27 470.40 L 645.44 409.08 L 646.57 323.21 " style="fill: none; stroke: #adadad; stroke-width: 1.1"/> <path d="M 605.80 479.39 L 671.39 416.62 L 673.68 330.08 " style="fill: none; stroke: #adadad; stroke-width: 1.1"/> <path d="M 634.00 488.60 L 697.93 424.33 L 701.43 337.11 " style="fill: none; stroke: #adadad; stroke-width: 1.1"/> </g> </g> <g id="grid3d_17"> <g id="Line3DCollection_17"> <path d="M 532.34 356.46 L 536.17 445.50 L 654.30 483.49 " style="fill: none; stroke: #adadad; stroke-width: 1.1"/> <path d="M 544.43 347.63 L 547.69 435.85 L 664.73 472.78 " style="fill: none; stroke: #adadad; stroke-width: 1.1"/> <path d="M 556.19 339.05 L 558.90 426.45 L 674.87 462.37 " style="fill: none; stroke: #adadad; stroke-width: 1.1"/> <path d="M 567.62 330.71 L 569.81 417.31 L 684.73 452.26 " style="fill: none; stroke: #adadad; stroke-width: 1.1"/> <path d="M 578.74 322.59 L 580.44 408.40 L 694.32 442.42 " style="fill: none; stroke: #adadad; stroke-width: 1.1"/> <path d="M 589.56 314.70 L 590.79 399.72 L 703.64 432.85 " style="fill: none; stroke: #adadad; stroke-width: 1.1"/> </g> </g> <g id="grid3d_18"> <g id="Line3DCollection_18"> <path d="M 712.59 345.89 L 595.67 315.96 L 522.57 369.83 " style="fill: none; stroke: #adadad; stroke-width: 1.1"/> <path d="M 711.70 365.25 L 595.88 334.65 L 523.53 389.71 " style="fill: none; stroke: #adadad; stroke-width: 1.1"/> <path d="M 710.83 384.25 L 596.09 353.01 L 524.47 409.20 " style="fill: none; stroke: #adadad; stroke-width: 1.1"/> <path d="M 709.98 402.89 L 596.30 371.04 L 525.39 428.31 " style="fill: none; stroke: #adadad; stroke-width: 1.1"/> <path d="M 709.14 421.18 L 596.50 388.75 L 526.29 447.05 " style="fill: none; stroke: #adadad; stroke-width: 1.1"/> </g> </g> <g id="axis3d_16"> <g id="line2d_86"> <path d="M 526.60 453.52 L 645.62 492.39 " style="fill: none; stroke: #000000; stroke-width: 0.8; stroke-linecap: square"/> </g> <g id="xtick_71"> <g id="line2d_87"> <path d="M 552.01 461.10 L 550.21 462.67 " style="fill: none; stroke: #000000; stroke-width: 0.8; stroke-linecap: square"/> </g> <g id="tkx_f_0"> <text style="font-size: 10px; text-anchor: middle" x="543.89" y="485.10">−40</text> </g> </g> <g id="xtick_72"> <g id="line2d_88"> <path d="M 578.86 469.86 L 577.10 471.47 " style="fill: none; stroke: #000000; stroke-width: 0.8; stroke-linecap: square"/> </g> <g id="tkx_f_1"> <text style="font-size: 10px; text-anchor: middle" x="570.80" y="494.11">−20</text> </g> </g> <g id="xtick_73"> <g id="line2d_89"> <path d="M 606.37 478.84 L 604.65 480.49 " style="fill: none; stroke: #000000; stroke-width: 0.8; stroke-linecap: square"/> </g> <g id="tkx_f_2"> <text style="font-size: 10px; text-anchor: middle" x="598.36" y="503.34">0</text> </g> </g> <g id="xtick_74"> <g id="line2d_90"> <path d="M 634.56 488.04 L 632.88 489.72 " style="fill: none; stroke: #000000; stroke-width: 0.8; stroke-linecap: square"/> </g> <g id="tkx_f_3"> <text style="font-size: 10px; text-anchor: middle" x="626.61" y="512.80">20</text> </g> </g> <g id="text_41"> <text style="font-size: 10px; text-anchor: middle" x="568.22" y="510.55">x</text> </g> </g> <g id="axis3d_17"> <g id="line2d_91"> <path d="M 708.85 427.51 L 645.62 492.39 " style="fill: none; stroke: #000000; stroke-width: 0.8; stroke-linecap: square"/> </g> <g id="xtick_75"> <g id="line2d_92"> <path d="M 653.30 483.17 L 656.29 484.13 " style="fill: none; stroke: #000000; stroke-width: 0.8; stroke-linecap: square"/> </g> <g id="tky_f_0"> <text style="font-size: 10px; text-anchor: middle" x="667.11" y="504.43">−60</text> </g> </g> <g id="xtick_76"> <g id="line2d_93"> <path d="M 663.75 472.47 L 666.71 473.40 " style="fill: none; stroke: #000000; stroke-width: 0.8; stroke-linecap: square"/> </g> <g id="tky_f_1"> <text style="font-size: 10px; text-anchor: middle" x="677.37" y="493.52">−40</text> </g> </g> <g id="xtick_77"> <g id="line2d_94"> <path d="M 673.90 462.07 L 676.83 462.98 " style="fill: none; stroke: #000000; stroke-width: 0.8; stroke-linecap: square"/> </g> <g id="tky_f_2"> <text style="font-size: 10px; text-anchor: middle" x="687.34" y="482.92">−20</text> </g> </g> <g id="xtick_78"> <g id="line2d_95"> <path d="M 683.76 451.96 L 686.67 452.85 " style="fill: none; stroke: #000000; stroke-width: 0.8; stroke-linecap: square"/> </g> <g id="tky_f_3"> <text style="font-size: 10px; text-anchor: middle" x="697.03" y="472.62">0</text> </g> </g> <g id="xtick_79"> <g id="line2d_96"> <path d="M 693.36 442.13 L 696.23 442.99 " style="fill: none; stroke: #000000; stroke-width: 0.8; stroke-linecap: square"/> </g> <g id="tky_f_4"> <text style="font-size: 10px; text-anchor: middle" x="706.45" y="462.60">20</text> </g> </g> <g id="xtick_80"> <g id="line2d_97"> <path d="M 702.70 432.57 L 705.54 433.41 " style="fill: none; stroke: #000000; stroke-width: 0.8; stroke-linecap: square"/> </g> <g id="tky_f_5"> <text style="font-size: 10px; text-anchor: middle" x="715.62" y="452.85">40</text> </g> </g> <g id="text_42"> <text style="font-size: 10px; text-anchor: middle" x="705.63" y="489.28">y</text> </g> </g> <g id="axis3d_18"> <g id="line2d_98"> <path d="M 708.85 427.51 L 712.86 340.01 " style="fill: none; stroke: #000000; stroke-width: 0.8; stroke-linecap: square"/> </g> <g id="xtick_81"> <g id="line2d_99"> <path d="M 711.60 345.64 L 714.56 346.40 " style="fill: none; stroke: #000000; stroke-width: 0.8; stroke-linecap: square"/> </g> <g id="text_43"> <text style="font-size: 10px; text-anchor: middle" x="731.57" y="351.10">−20</text> </g> </g> <g id="xtick_82"> <g id="line2d_100"> <path d="M 710.73 364.99 L 713.65 365.77 " style="fill: none; stroke: #000000; stroke-width: 0.8; stroke-linecap: square"/> </g> <g id="text_44"> <text style="font-size: 10px; text-anchor: middle" x="730.50" y="370.41">−30</text> </g> </g> <g id="xtick_83"> <g id="line2d_101"> <path d="M 709.87 383.98 L 712.76 384.77 " style="fill: none; stroke: #000000; stroke-width: 0.8; stroke-linecap: square"/> </g> <g id="text_45"> <text style="font-size: 10px; text-anchor: middle" x="729.46" y="389.35">−40</text> </g> </g> <g id="xtick_84"> <g id="line2d_102"> <path d="M 709.02 402.62 L 711.89 403.42 " style="fill: none; stroke: #000000; stroke-width: 0.8; stroke-linecap: square"/> </g> <g id="text_46"> <text style="font-size: 10px; text-anchor: middle" x="728.44" y="407.94">−50</text> </g> </g> <g id="xtick_85"> <g id="line2d_103"> <path d="M 708.19 420.91 L 711.03 421.73 " style="fill: none; stroke: #000000; stroke-width: 0.8; stroke-linecap: square"/> </g> <g id="text_47"> <text style="font-size: 10px; text-anchor: middle" x="727.43" y="426.19">−60</text> </g> </g> <g id="text_48"> <text style="font-size: 10px; text-anchor: middle" x="751.12" y="382.08">z</text> </g> </g> <g id="axes_6"/> <g id="axes_7"/> <g id="text_49"> <text style="font-size: 12px; text-anchor: middle" x="107.04" y="229.02">a) Standing and Eating, before OD</text> </g> <g id="text_50"> <text style="font-size: 12px; text-anchor: middle" x="361.93" y="229.02">b) Standing and Ruminating, before OD</text> </g> <g id="text_51"> <text style="font-size: 12px; text-anchor: middle" x="616.55" y="229.02">c) Laying and Ruminating, before OD</text> </g> <g id="text_52"> <text style="font-size: 12px; text-anchor: middle" x="107.04" y="530.24">d) Standing and Eating, after OD</text> </g> <g id="text_53"> <text style="font-size: 12px; text-anchor: middle" x="361.93" y="530.24">e) Standing and Ruminating, after OD</text> </g> <g id="text_54"> <text style="font-size: 12px; text-anchor: middle" x="616.55" y="530.24">f) Laying and Ruminating, after OD</text> </g> </g> <filter id="sb" x="-5%" y="-5%" width="110%" height="110%"><feGaussianBlur stdDeviation="0.55"/></filter><g id="scatter" filter="url(#sb)" transform="scale(1.38302)" fill="#fff" stroke="#ffa420" stroke-width="1.08"><circle cx="84.9" cy="68.2" r="2.17" stroke-opacity="0.40" fill-opacity="0.22"/><circle cx="38.9" cy="60.2" r="2.17" stroke-opacity="0.52" fill-opacity="0.29"/><circle cx="58.2" cy="64.7" r="2.17" stroke-opacity="0.53" fill-opacity="0.29"/><circle cx="60.8" cy="68.4" r="2.17" stroke-opacity="0.35" fill-opacity="0.19"/><circle cx="51.3" cy="71.8" r="2.17" stroke-opacity="0.44" fill-opacity="0.24"/><circle cx="78.1" cy="52.6" r="2.17" stroke-opacity="0.45" fill-opacity="0.24"/><circle cx="52.2" cy="53.8" r="2.17" stroke-opacity="0.33" fill-opacity="0.18"/><circle cx="90.8" cy="68.3" r="2.17" stroke-opacity="0.50" fill-opacity="0.27"/><circle cx="63.4" cy="78.5" r="2.17" stroke-opacity="0.28" fill-opacity="0.16"/><circle cx="46.3" cy="70.8" r="2.17" stroke-opacity="0.17" fill-opacity="0.09"/><circle cx="52.2" cy="76.8" r="2.17" stroke-opacity="0.35" fill-opacity="0.19"/><circle cx="86.8" cy="72.2" r="2.17" stroke-opacity="0.26" fill-opacity="0.14"/><circle cx="77.2" cy="81.0" r="2.17" stroke-opacity="0.23" fill-opacity="0.12"/><circle cx="60.7" cy="77.7" r="2.17" stroke-opacity="0.50" fill-opacity="0.28"/><circle cx="88.1" cy="58.1" r="2.17" stroke-opacity="0.21" fill-opacity="0.12"/><circle cx="78.2" cy="52.6" r="2.17" stroke-opacity="0.33" fill-opacity="0.18"/><circle cx="89.4" cy="51.7" r="2.17" stroke-opacity="0.28" fill-opacity="0.15"/><circle cx="44.5" cy="77.0" r="2.17" stroke-opacity="0.28" fill-opacity="0.15"/><circle cx="81.7" cy="67.4" r="2.17" stroke-opacity="0.45" fill-opacity="0.24"/><circle cx="84.0" cy="79.4" r="2.17" stroke-opacity="0.40" fill-opacity="0.22"/><circle cx="36.3" cy="56.7" r="2.17" stroke-opacity="0.32" fill-opacity="0.18"/><circle cx="46.7" cy="83.0" r="2.17" stroke-opacity="0.15" fill-opacity="0.08"/><circle cx="41.0" cy="52.8" r="2.17" stroke-opacity="0.41" fill-opacity="0.23"/><circle cx="64.8" cy="82.6" r="2.17" stroke-opacity="0.16" fill-opacity="0.09"/><circle cx="46.7" cy="66.2" r="2.17" stroke-opacity="0.50" fill-opacity="0.27"/><circle cx="77.0" cy="56.7" r="2.17" stroke-opacity="0.39" fill-opacity="0.22"/><circle cx="71.1" cy="72.9" r="2.17" stroke-opacity="0.30" fill-opacity="0.16"/><circle cx="76.3" cy="65.0" r="2.17" stroke-opacity="0.51" fill-opacity="0.28"/><circle cx="64.1" cy="65.7" r="2.17" stroke-opacity="0.37" fill-opacity="0.20"/><circle cx="83.1" cy="58.1" r="2.17" stroke-opacity="0.47" fill-opacity="0.26"/><circle cx="46.1" cy="76.7" r="2.17" stroke-opacity="0.36" fill-opacity="0.20"/><circle cx="58.1" cy="57.3" r="2.17" stroke-opacity="0.51" fill-opacity="0.28"/><circle cx="91.9" cy="58.0" r="2.17" stroke-opacity="0.41" fill-opacity="0.23"/><circle cx="55.5" cy="55.6" r="2.17" stroke-opacity="0.27" fill-opacity="0.15"/><circle cx="68.3" cy="86.4" r="2.17" stroke-opacity="0.15" fill-opacity="0.08"/><circle cx="69.4" cy="76.9" r="2.17" stroke-opacity="0.50" fill-opacity="0.28"/><circle cx="81.2" cy="80.6" r="2.17" stroke-opacity="0.43" fill-opacity="0.24"/><circle cx="86.1" cy="50.5" r="2.17" stroke-opacity="0.35" fill-opacity="0.19"/><circle cx="49.8" cy="67.6" r="2.17" stroke-opacity="0.19" fill-opacity="0.10"/><circle cx="53.5" cy="70.1" r="2.17" stroke-opacity="0.53" fill-opacity="0.29"/><circle cx="61.6" cy="57.8" r="2.17" stroke-opacity="0.53" fill-opacity="0.29"/><circle cx="43.8" cy="64.4" r="2.17" stroke-opacity="0.15" fill-opacity="0.09"/><circle cx="59.1" cy="72.7" r="2.17" stroke-opacity="0.24" fill-opacity="0.13"/><circle cx="54.4" cy="47.5" r="2.17" stroke-opacity="0.15" fill-opacity="0.09"/><circle cx="42.4" cy="51.9" r="2.17" stroke-opacity="0.53" fill-opacity="0.29"/><circle cx="54.9" cy="49.0" r="2.17" stroke-opacity="0.20" fill-opacity="0.11"/><circle cx="41.0" cy="59.2" r="2.17" stroke-opacity="0.31" fill-opacity="0.17"/><circle cx="76.2" cy="84.4" r="2.17" stroke-opacity="0.17" fill-opacity="0.09"/><circle cx="67.7" cy="84.3" r="2.17" stroke-opacity="0.53" fill-opacity="0.29"/><circle cx="36.2" cy="68.5" r="2.17" stroke-opacity="0.53" fill-opacity="0.29"/><circle cx="44.1" cy="78.2" r="2.17" stroke-opacity="0.43" fill-opacity="0.24"/><circle cx="93.8" cy="65.8" r="2.17" stroke-opacity="0.34" fill-opacity="0.19"/><circle cx="59.8" cy="82.4" r="2.17" stroke-opacity="0.33" fill-opacity="0.18"/><circle cx="48.2" cy="72.9" r="2.17" stroke-opacity="0.18" fill-opacity="0.10"/><circle cx="59.2" cy="51.1" r="2.17" stroke-opacity="0.52" fill-opacity="0.29"/><circle cx="78.6" cy="53.5" r="2.17" stroke-opacity="0.25" fill-opacity="0.14"/><circle cx="57.0" cy="78.0" r="2.17" stroke-opacity="0.45" fill-opacity="0.25"/><circle cx="65.0" cy="79.0" r="2.17" stroke-opacity="0.19" fill-opacity="0.10"/><circle cx="61.6" cy="83.8" r="2.17" stroke-opacity="0.40" fill-opacity="0.22"/><circle cx="82.8" cy="73.8" r="2.17" stroke-opacity="0.32" fill-opacity="0.18"/><circle cx="69.3" cy="72.6" r="2.17" stroke-opacity="0.18" fill-opacity="0.10"/><circle cx="89.8" cy="73.6" r="2.17" stroke-opacity="0.32" fill-opacity="0.18"/><circle cx="68.4" cy="67.1" r="2.17" stroke-opacity="0.55" fill-opacity="0.30"/><circle cx="76.1" cy="54.3" r="2.17" stroke-opacity="0.53" fill-opacity="0.29"/><circle cx="76.3" cy="70.0" r="2.17" stroke-opacity="0.51" fill-opacity="0.28"/><circle cx="83.9" cy="62.7" r="2.17" stroke-opacity="0.29" fill-opacity="0.16"/><circle cx="88.6" cy="71.3" r="2.17" stroke-opacity="0.33" fill-opacity="0.18"/><circle cx="74.6" cy="57.9" r="2.17" stroke-opacity="0.27" fill-opacity="0.15"/><circle cx="56.0" cy="75.5" r="2.17" stroke-opacity="0.33" fill-opacity="0.18"/><circle cx="90.9" cy="58.5" r="2.17" stroke-opacity="0.24" fill-opacity="0.13"/><circle cx="50.4" cy="57.4" r="2.17" stroke-opacity="0.35" fill-opacity="0.19"/><circle cx="64.5" cy="72.4" r="2.17" stroke-opacity="0.18" fill-opacity="0.10"/><circle cx="85.5" cy="60.2" r="2.17" stroke-opacity="0.37" fill-opacity="0.20"/><circle cx="61.1" cy="67.1" r="2.17" stroke-opacity="0.38" fill-opacity="0.21"/><circle cx="51.0" cy="84.6" r="2.17" stroke-opacity="0.46" fill-opacity="0.25"/><circle cx="46.6" cy="66.1" r="2.17" stroke-opacity="0.54" fill-opacity="0.29"/><circle cx="43.7" cy="70.0" r="2.17" stroke-opacity="0.27" fill-opacity="0.15"/><circle cx="41.6" cy="70.5" r="2.17" stroke-opacity="0.51" fill-opacity="0.28"/><circle cx="59.8" cy="75.2" r="2.17" stroke-opacity="0.55" fill-opacity="0.30"/><circle cx="80.8" cy="61.1" r="2.17" stroke-opacity="0.52" fill-opacity="0.28"/><circle cx="74.3" cy="72.8" r="2.17" stroke-opacity="0.48" fill-opacity="0.26"/><circle cx="55.8" cy="71.9" r="2.17" stroke-opacity="0.42" fill-opacity="0.23"/><circle cx="70.3" cy="74.4" r="2.17" stroke-opacity="0.53" fill-opacity="0.29"/><circle cx="61.0" cy="86.5" r="2.17" stroke-opacity="0.36" fill-opacity="0.20"/><circle cx="45.0" cy="44.9" r="2.17" stroke-opacity="0.23" fill-opacity="0.13"/><circle cx="50.1" cy="47.6" r="2.17" stroke-opacity="0.23" fill-opacity="0.13"/><circle cx="71.8" cy="63.0" r="2.17" stroke-opacity="0.38" fill-opacity="0.21"/><circle cx="86.2" cy="48.2" r="2.17" stroke-opacity="0.20" fill-opacity="0.11"/><circle cx="89.9" cy="61.8" r="2.17" stroke-opacity="0.47" fill-opacity="0.26"/><circle cx="85.3" cy="80.0" r="2.17" stroke-opacity="0.44" fill-opacity="0.24"/><circle cx="92.0" cy="63.7" r="2.17" stroke-opacity="0.28" fill-opacity="0.15"/><circle cx="72.4" cy="67.0" r="2.17" stroke-opacity="0.40" fill-opacity="0.22"/><circle cx="45.2" cy="63.9" r="2.17" stroke-opacity="0.25" fill-opacity="0.14"/><circle cx="54.0" cy="44.2" r="2.17" stroke-opacity="0.46" fill-opacity="0.25"/><circle cx="41.9" cy="79.6" r="2.17" stroke-opacity="0.26" fill-opacity="0.14"/><circle cx="95.2" cy="64.9" r="2.17" stroke-opacity="0.43" fill-opacity="0.24"/><circle cx="57.7" cy="64.3" r="2.17" stroke-opacity="0.40" fill-opacity="0.22"/><circle cx="86.7" cy="77.0" r="2.17" stroke-opacity="0.42" fill-opacity="0.23"/><circle cx="89.2" cy="63.4" r="2.17" stroke-opacity="0.26" fill-opacity="0.15"/><circle cx="75.6" cy="78.7" r="2.17" stroke-opacity="0.54" fill-opacity="0.29"/><circle cx="74.2" cy="76.3" r="2.17" stroke-opacity="0.21" fill-opacity="0.11"/><circle cx="36.0" cy="58.4" r="2.17" stroke-opacity="0.41" fill-opacity="0.22"/><circle cx="54.3" cy="61.7" r="2.17" stroke-opacity="0.43" fill-opacity="0.24"/><circle cx="60.6" cy="87.5" r="2.17" stroke-opacity="0.23" fill-opacity="0.12"/><circle cx="54.4" cy="76.0" r="2.17" stroke-opacity="0.55" fill-opacity="0.30"/><circle cx="76.9" cy="70.7" r="2.17" stroke-opacity="0.44" fill-opacity="0.24"/><circle cx="58.9" cy="69.9" r="2.17" stroke-opacity="0.24" fill-opacity="0.13"/><circle cx="47.3" cy="71.9" r="2.17" stroke-opacity="0.40" fill-opacity="0.22"/><circle cx="52.6" cy="50.8" r="2.17" stroke-opacity="0.37" fill-opacity="0.20"/><circle cx="80.3" cy="68.7" r="2.17" stroke-opacity="0.34" fill-opacity="0.19"/><circle cx="91.6" cy="74.6" r="2.17" stroke-opacity="0.51" fill-opacity="0.28"/><circle cx="51.9" cy="54.3" r="2.17" stroke-opacity="0.37" fill-opacity="0.20"/><circle cx="40.8" cy="49.9" r="2.17" stroke-opacity="0.43" fill-opacity="0.24"/><circle cx="72.1" cy="76.2" r="2.17" stroke-opacity="0.36" fill-opacity="0.20"/><circle cx="52.0" cy="55.4" r="2.17" stroke-opacity="0.22" fill-opacity="0.12"/><circle cx="82.2" cy="63.5" r="2.17" stroke-opacity="0.21" fill-opacity="0.12"/><circle cx="60.4" cy="70.9" r="2.17" stroke-opacity="0.49" fill-opacity="0.27"/><circle cx="59.9" cy="62.1" r="2.17" stroke-opacity="0.47" fill-opacity="0.26"/><circle cx="50.5" cy="68.5" r="2.17" stroke-opacity="0.44" fill-opacity="0.24"/><circle cx="46.1" cy="65.6" r="2.17" stroke-opacity="0.34" fill-opacity="0.19"/><circle cx="91.6" cy="64.1" r="2.17" stroke-opacity="0.34" fill-opacity="0.19"/><circle cx="46.6" cy="75.6" r="2.17" stroke-opacity="0.23" fill-opacity="0.13"/><circle cx="52.4" cy="43.3" r="2.17" stroke-opacity="0.34" fill-opacity="0.19"/><circle cx="56.9" cy="47.2" r="2.17" stroke-opacity="0.28" fill-opacity="0.15"/><circle cx="76.3" cy="65.4" r="2.17" stroke-opacity="0.45" fill-opacity="0.25"/><circle cx="37.7" cy="68.9" r="2.17" stroke-opacity="0.20" fill-opacity="0.11"/><circle cx="80.4" cy="70.7" r="2.17" stroke-opacity="0.53" fill-opacity="0.29"/><circle cx="81.1" cy="52.7" r="2.17" stroke-opacity="0.35" fill-opacity="0.19"/><circle cx="56.9" cy="51.2" r="2.17" stroke-opacity="0.47" fill-opacity="0.26"/><circle cx="57.0" cy="51.2" r="2.17" stroke-opacity="0.27" fill-opacity="0.15"/><circle cx="46.3" cy="75.3" r="2.17" stroke-opacity="0.51" fill-opacity="0.28"/><circle cx="58.7" cy="55.2" r="2.17" stroke-opacity="0.20" fill-opacity="0.11"/><circle cx="47.0" cy="45.2" r="2.17" stroke-opacity="0.51" fill-opacity="0.28"/><circle cx="64.8" cy="67.8" r="2.17" stroke-opacity="0.32" fill-opacity="0.18"/><circle cx="55.3" cy="68.7" r="2.17" stroke-opacity="0.16" fill-opacity="0.09"/><circle cx="76.9" cy="80.7" r="2.17" stroke-opacity="0.24" fill-opacity="0.13"/><circle cx="48.5" cy="71.6" r="2.17" stroke-opacity="0.28" fill-opacity="0.15"/><circle cx="83.6" cy="56.8" r="2.17" stroke-opacity="0.53" fill-opacity="0.29"/><circle cx="54.8" cy="59.5" r="2.17" stroke-opacity="0.32" fill-opacity="0.18"/><circle cx="50.0" cy="76.7" r="2.17" stroke-opacity="0.30" fill-opacity="0.16"/><circle cx="78.5" cy="57.5" r="2.17" stroke-opacity="0.39" fill-opacity="0.22"/><circle cx="70.1" cy="68.8" r="2.17" stroke-opacity="0.51" fill-opacity="0.28"/><circle cx="70.3" cy="85.4" r="2.17" stroke-opacity="0.32" fill-opacity="0.18"/><circle cx="57.2" cy="80.1" r="2.17" stroke-opacity="0.16" fill-opacity="0.09"/><circle cx="77.0" cy="67.4" r="2.17" stroke-opacity="0.24" fill-opacity="0.13"/><circle cx="45.0" cy="79.3" r="2.17" stroke-opacity="0.44" fill-opacity="0.24"/><circle cx="65.4" cy="75.1" r="2.17" stroke-opacity="0.53" fill-opacity="0.29"/><circle cx="50.7" cy="74.9" r="2.17" stroke-opacity="0.19" fill-opacity="0.10"/><circle cx="55.4" cy="47.3" r="2.17" stroke-opacity="0.20" fill-opacity="0.11"/><circle cx="68.8" cy="85.8" r="2.17" stroke-opacity="0.54" fill-opacity="0.30"/><circle cx="78.4" cy="52.0" r="2.17" stroke-opacity="0.49" fill-opacity="0.27"/><circle cx="82.3" cy="57.1" r="2.17" stroke-opacity="0.44" fill-opacity="0.24"/><circle cx="56.8" cy="65.1" r="2.17" stroke-opacity="0.44" fill-opacity="0.24"/><circle cx="43.4" cy="42.7" r="2.17" stroke-opacity="0.17" fill-opacity="0.09"/><circle cx="76.3" cy="77.4" r="2.17" stroke-opacity="0.43" fill-opacity="0.23"/><circle cx="94.0" cy="57.9" r="2.17" stroke-opacity="0.19" fill-opacity="0.11"/><circle cx="58.1" cy="58.4" r="2.17" stroke-opacity="0.53" fill-opacity="0.29"/><circle cx="78.7" cy="79.2" r="2.17" stroke-opacity="0.22" fill-opacity="0.12"/><circle cx="40.3" cy="54.4" r="2.17" stroke-opacity="0.49" fill-opacity="0.27"/><circle cx="58.9" cy="83.8" r="2.17" stroke-opacity="0.45" fill-opacity="0.25"/><circle cx="42.3" cy="64.7" r="2.17" stroke-opacity="0.51" fill-opacity="0.28"/><circle cx="42.4" cy="46.6" r="2.17" stroke-opacity="0.19" fill-opacity="0.11"/><circle cx="85.1" cy="56.5" r="2.17" stroke-opacity="0.44" fill-opacity="0.24"/><circle cx="44.6" cy="70.7" r="2.17" stroke-opacity="0.31" fill-opacity="0.17"/><circle cx="49.8" cy="40.5" r="2.17" stroke-opacity="0.46" fill-opacity="0.25"/><circle cx="41.3" cy="62.7" r="2.17" stroke-opacity="0.53" fill-opacity="0.29"/><circle cx="52.7" cy="77.1" r="2.17" stroke-opacity="0.50" fill-opacity="0.27"/><circle cx="67.2" cy="79.0" r="2.17" stroke-opacity="0.40" fill-opacity="0.22"/><circle cx="63.7" cy="82.8" r="2.17" stroke-opacity="0.46" fill-opacity="0.25"/><circle cx="86.2" cy="68.4" r="2.17" stroke-opacity="0.55" fill-opacity="0.30"/><circle cx="61.4" cy="71.7" r="2.17" stroke-opacity="0.36" fill-opacity="0.20"/><circle cx="52.8" cy="48.5" r="2.17" stroke-opacity="0.22" fill-opacity="0.12"/><circle cx="78.7" cy="69.4" r="2.17" stroke-opacity="0.28" fill-opacity="0.15"/><circle cx="63.6" cy="73.8" r="2.17" stroke-opacity="0.16" fill-opacity="0.09"/><circle cx="40.7" cy="77.0" r="2.17" stroke-opacity="0.54" fill-opacity="0.29"/><circle cx="79.0" cy="65.4" r="2.17" stroke-opacity="0.49" fill-opacity="0.27"/><circle cx="51.0" cy="52.2" r="2.17" stroke-opacity="0.46" fill-opacity="0.26"/><circle cx="43.5" cy="59.3" r="2.17" stroke-opacity="0.21" fill-opacity="0.12"/><circle cx="80.1" cy="59.9" r="2.17" stroke-opacity="0.19" fill-opacity="0.10"/><circle cx="45.8" cy="43.4" r="2.17" stroke-opacity="0.16" fill-opacity="0.09"/><circle cx="59.9" cy="72.0" r="2.17" stroke-opacity="0.43" fill-opacity="0.24"/><circle cx="86.5" cy="61.8" r="2.17" stroke-opacity="0.29" fill-opacity="0.16"/><circle cx="88.0" cy="54.7" r="2.17" stroke-opacity="0.17" fill-opacity="0.10"/><circle cx="60.6" cy="66.0" r="2.17" stroke-opacity="0.44" fill-opacity="0.24"/><circle cx="40.9" cy="63.7" r="2.17" stroke-opacity="0.29" fill-opacity="0.16"/><circle cx="52.3" cy="41.3" r="2.17" stroke-opacity="0.26" fill-opacity="0.14"/><circle cx="59.5" cy="72.7" r="2.17" stroke-opacity="0.35" fill-opacity="0.19"/><circle cx="52.5" cy="75.2" r="2.17" stroke-opacity="0.17" fill-opacity="0.10"/><circle cx="46.8" cy="52.1" r="2.17" stroke-opacity="0.31" fill-opacity="0.17"/><circle cx="71.3" cy="63.1" r="2.17" stroke-opacity="0.28" fill-opacity="0.15"/><circle cx="51.5" cy="45.5" r="2.17" stroke-opacity="0.29" fill-opacity="0.16"/><circle cx="81.3" cy="73.6" r="2.17" stroke-opacity="0.52" fill-opacity="0.28"/><circle cx="52.6" cy="84.0" r="2.17" stroke-opacity="0.19" fill-opacity="0.10"/><circle cx="57.1" cy="72.8" r="2.17" stroke-opacity="0.42" fill-opacity="0.23"/><circle cx="94.3" cy="64.2" r="2.17" stroke-opacity="0.37" fill-opacity="0.21"/><circle cx="41.7" cy="69.0" r="2.17" stroke-opacity="0.44" fill-opacity="0.24"/><circle cx="42.6" cy="60.4" r="2.17" stroke-opacity="0.23" fill-opacity="0.12"/><circle cx="46.2" cy="46.7" r="2.17" stroke-opacity="0.45" fill-opacity="0.25"/><circle cx="50.5" cy="84.1" r="2.17" stroke-opacity="0.37" fill-opacity="0.20"/><circle cx="62.0" cy="76.6" r="2.17" stroke-opacity="0.49" fill-opacity="0.27"/><circle cx="44.6" cy="50.6" r="2.17" stroke-opacity="0.51" fill-opacity="0.28"/><circle cx="65.8" cy="64.2" r="2.17" stroke-opacity="0.42" fill-opacity="0.23"/><circle cx="54.3" cy="53.3" r="2.17" stroke-opacity="0.38" fill-opacity="0.21"/><circle cx="38.6" cy="63.9" r="2.17" stroke-opacity="0.29" fill-opacity="0.16"/><circle cx="94.0" cy="71.8" r="2.17" stroke-opacity="0.35" fill-opacity="0.19"/><circle cx="56.9" cy="86.6" r="2.17" stroke-opacity="0.24" fill-opacity="0.13"/><circle cx="72.0" cy="65.5" r="2.17" stroke-opacity="0.33" fill-opacity="0.18"/><circle cx="90.0" cy="73.5" r="2.17" stroke-opacity="0.19" fill-opacity="0.10"/><circle cx="74.2" cy="69.3" r="2.17" stroke-opacity="0.29" fill-opacity="0.16"/><circle cx="39.1" cy="71.5" r="2.17" stroke-opacity="0.31" fill-opacity="0.17"/><circle cx="46.6" cy="59.2" r="2.17" stroke-opacity="0.43" fill-opacity="0.24"/><circle cx="74.9" cy="69.1" r="2.17" stroke-opacity="0.44" fill-opacity="0.24"/><circle cx="48.7" cy="51.3" r="2.17" stroke-opacity="0.26" fill-opacity="0.14"/><circle cx="41.9" cy="72.5" r="2.17" stroke-opacity="0.31" fill-opacity="0.17"/><circle cx="50.4" cy="44.9" r="2.17" stroke-opacity="0.53" fill-opacity="0.29"/><circle cx="89.4" cy="51.2" r="2.17" stroke-opacity="0.32" fill-opacity="0.17"/><circle cx="74.7" cy="71.1" r="2.17" stroke-opacity="0.44" fill-opacity="0.24"/><circle cx="93.5" cy="68.3" r="2.17" stroke-opacity="0.42" fill-opacity="0.23"/><circle cx="80.9" cy="55.3" r="2.17" stroke-opacity="0.39" fill-opacity="0.21"/><circle cx="74.8" cy="57.6" r="2.17" stroke-opacity="0.48" fill-opacity="0.26"/><circle cx="56.2" cy="78.1" r="2.17" stroke-opacity="0.37" fill-opacity="0.20"/><circle cx="58.3" cy="61.8" r="2.17" stroke-opacity="0.40" fill-opacity="0.22"/><circle cx="53.6" cy="84.0" r="2.17" stroke-opacity="0.17" fill-opacity="0.10"/><circle cx="82.7" cy="53.5" r="2.17" stroke-opacity="0.46" fill-opacity="0.26"/><circle cx="76.3" cy="79.6" r="2.17" stroke-opacity="0.27" fill-opacity="0.15"/><circle cx="51.0" cy="78.7" r="2.17" stroke-opacity="0.46" fill-opacity="0.25"/><circle cx="73.8" cy="83.8" r="2.17" stroke-opacity="0.30" fill-opacity="0.17"/><circle cx="89.8" cy="49.7" r="2.17" stroke-opacity="0.47" fill-opacity="0.26"/><circle cx="89.1" cy="59.2" r="2.17" stroke-opacity="0.45" fill-opacity="0.25"/><circle cx="80.9" cy="79.6" r="2.17" stroke-opacity="0.43" fill-opacity="0.24"/><circle cx="73.3" cy="77.8" r="2.17" stroke-opacity="0.40" fill-opacity="0.22"/><circle cx="51.4" cy="67.9" r="2.17" stroke-opacity="0.21" fill-opacity="0.11"/><circle cx="70.9" cy="60.5" r="2.17" stroke-opacity="0.35" fill-opacity="0.19"/><circle cx="52.1" cy="75.9" r="2.17" stroke-opacity="0.54" fill-opacity="0.30"/><circle cx="52.3" cy="45.9" r="2.17" stroke-opacity="0.27" fill-opacity="0.15"/><circle cx="43.1" cy="65.4" r="2.17" stroke-opacity="0.36" fill-opacity="0.20"/><circle cx="75.7" cy="55.2" r="2.17" stroke-opacity="0.24" fill-opacity="0.13"/><circle cx="69.4" cy="77.3" r="2.17" stroke-opacity="0.51" fill-opacity="0.28"/><circle cx="93.6" cy="64.4" r="2.17" stroke-opacity="0.40" fill-opacity="0.22"/><circle cx="85.9" cy="71.7" r="2.17" stroke-opacity="0.33" fill-opacity="0.18"/><circle cx="66.2" cy="63.9" r="2.17" stroke-opacity="0.18" fill-opacity="0.10"/><circle cx="60.4" cy="62.4" r="2.17" stroke-opacity="0.28" fill-opacity="0.16"/><circle cx="57.5" cy="60.7" r="2.17" stroke-opacity="0.30" fill-opacity="0.17"/><circle cx="69.6" cy="67.6" r="2.17" stroke-opacity="0.20" fill-opacity="0.11"/><circle cx="54.2" cy="76.6" r="2.17" stroke-opacity="0.45" fill-opacity="0.25"/><circle cx="59.9" cy="81.3" r="2.17" stroke-opacity="0.22" fill-opacity="0.12"/><circle cx="68.1" cy="67.5" r="2.17" stroke-opacity="0.15" fill-opacity="0.08"/><circle cx="42.6" cy="62.4" r="2.17" stroke-opacity="0.52" fill-opacity="0.29"/><circle cx="90.1" cy="62.4" r="2.17" stroke-opacity="0.50" fill-opacity="0.28"/><circle cx="48.8" cy="52.6" r="2.17" stroke-opacity="0.38" fill-opacity="0.21"/><circle cx="60.2" cy="53.4" r="2.17" stroke-opacity="0.21" fill-opacity="0.11"/><circle cx="63.4" cy="59.1" r="2.17" stroke-opacity="0.44" fill-opacity="0.24"/><circle cx="56.4" cy="57.4" r="2.17" stroke-opacity="0.20" fill-opacity="0.11"/><circle cx="77.8" cy="53.1" r="2.17" stroke-opacity="0.39" fill-opacity="0.21"/><circle cx="56.8" cy="59.6" r="2.17" stroke-opacity="0.26" fill-opacity="0.15"/><circle cx="57.5" cy="73.0" r="2.17" stroke-opacity="0.44" fill-opacity="0.24"/><circle cx="89.8" cy="75.7" r="2.17" stroke-opacity="0.39" fill-opacity="0.21"/><circle cx="39.7" cy="60.9" r="2.17" stroke-opacity="0.34" fill-opacity="0.19"/><circle cx="82.0" cy="66.7" r="2.17" stroke-opacity="0.27" fill-opacity="0.15"/><circle cx="54.8" cy="53.1" r="2.17" stroke-opacity="0.31" fill-opacity="0.17"/><circle cx="43.1" cy="76.8" r="2.17" stroke-opacity="0.31" fill-opacity="0.17"/><circle cx="53.4" cy="67.2" r="2.17" stroke-opacity="0.51" fill-opacity="0.28"/><circle cx="64.4" cy="67.3" r="2.17" stroke-opacity="0.22" fill-opacity="0.12"/><circle cx="48.0" cy="70.7" r="2.17" stroke-opacity="0.50" fill-opacity="0.28"/><circle cx="80.4" cy="71.7" r="2.17" stroke-opacity="0.19" fill-opacity="0.11"/><circle cx="47.3" cy="42.5" r="2.17" stroke-opacity="0.47" fill-opacity="0.26"/><circle cx="64.3" cy="76.5" r="2.17" stroke-opacity="0.24" fill-opacity="0.13"/><circle cx="70.3" cy="85.6" r="2.17" stroke-opacity="0.48" fill-opacity="0.26"/><circle cx="72.0" cy="63.1" r="2.17" stroke-opacity="0.16" fill-opacity="0.09"/><circle cx="75.7" cy="69.7" r="2.17" stroke-opacity="0.21" fill-opacity="0.12"/><circle cx="52.8" cy="50.3" r="2.17" stroke-opacity="0.38" fill-opacity="0.21"/><circle cx="73.1" cy="73.7" r="2.17" stroke-opacity="0.54" fill-opacity="0.30"/><circle cx="78.8" cy="59.0" r="2.17" stroke-opacity="0.32" fill-opacity="0.18"/><circle cx="81.8" cy="72.4" r="2.17" stroke-opacity="0.27" fill-opacity="0.15"/><circle cx="67.5" cy="78.8" r="2.17" stroke-opacity="0.33" fill-opacity="0.18"/><circle cx="58.0" cy="62.5" r="2.17" stroke-opacity="0.39" fill-opacity="0.21"/><circle cx="75.4" cy="53.8" r="2.17" stroke-opacity="0.31" fill-opacity="0.17"/><circle cx="92.8" cy="57.6" r="2.17" stroke-opacity="0.36" fill-opacity="0.20"/><circle cx="73.4" cy="83.1" r="2.17" stroke-opacity="0.51" fill-opacity="0.28"/><circle cx="86.7" cy="73.1" r="2.17" stroke-opacity="0.32" fill-opacity="0.18"/><circle cx="79.2" cy="77.6" r="2.17" stroke-opacity="0.42" fill-opacity="0.23"/><circle cx="71.0" cy="60.1" r="2.17" stroke-opacity="0.23" fill-opacity="0.13"/><circle cx="41.2" cy="53.7" r="2.17" stroke-opacity="0.22" fill-opacity="0.12"/><circle cx="67.3" cy="84.4" r="2.17" stroke-opacity="0.22" fill-opacity="0.12"/><circle cx="40.8" cy="78.1" r="2.17" stroke-opacity="0.23" fill-opacity="0.13"/><circle cx="54.7" cy="76.3" r="2.17" stroke-opacity="0.35" fill-opacity="0.19"/><circle cx="45.0" cy="69.5" r="2.17" stroke-opacity="0.17" fill-opacity="0.09"/><circle cx="67.5" cy="65.4" r="2.17" stroke-opacity="0.32" fill-opacity="0.18"/><circle cx="44.6" cy="81.3" r="2.17" stroke-opacity="0.43" fill-opacity="0.24"/><circle cx="67.9" cy="73.9" r="2.17" stroke-opacity="0.34" fill-opacity="0.18"/><circle cx="80.7" cy="58.3" r="2.17" stroke-opacity="0.48" fill-opacity="0.26"/><circle cx="92.8" cy="61.5" r="2.17" stroke-opacity="0.52" fill-opacity="0.29"/><circle cx="45.4" cy="61.9" r="2.17" stroke-opacity="0.22" fill-opacity="0.12"/><circle cx="52.8" cy="84.7" r="2.17" stroke-opacity="0.39" fill-opacity="0.21"/><circle cx="52.0" cy="76.7" r="2.17" stroke-opacity="0.35" fill-opacity="0.19"/><circle cx="71.9" cy="59.3" r="2.17" stroke-opacity="0.34" fill-opacity="0.19"/><circle cx="59.7" cy="82.1" r="2.17" stroke-opacity="0.20" fill-opacity="0.11"/><circle cx="46.9" cy="79.2" r="2.17" stroke-opacity="0.32" fill-opacity="0.18"/><circle cx="57.1" cy="74.1" r="2.17" stroke-opacity="0.42" fill-opacity="0.23"/><circle cx="85.9" cy="60.0" r="2.17" stroke-opacity="0.16" fill-opacity="0.09"/><circle cx="45.5" cy="49.8" r="2.17" stroke-opacity="0.27" fill-opacity="0.15"/><circle cx="48.8" cy="42.1" r="2.17" stroke-opacity="0.42" fill-opacity="0.23"/><circle cx="60.6" cy="71.5" r="2.17" stroke-opacity="0.55" fill-opacity="0.30"/><circle cx="84.4" cy="53.7" r="2.17" stroke-opacity="0.25" fill-opacity="0.14"/><circle cx="53.4" cy="76.0" r="2.17" stroke-opacity="0.43" fill-opacity="0.24"/><circle cx="71.5" cy="82.4" r="2.17" stroke-opacity="0.43" fill-opacity="0.24"/><circle cx="38.4" cy="64.1" r="2.17" stroke-opacity="0.38" fill-opacity="0.21"/><circle cx="50.3" cy="65.6" r="2.17" stroke-opacity="0.19" fill-opacity="0.11"/><circle cx="42.5" cy="70.2" r="2.17" stroke-opacity="0.45" fill-opacity="0.25"/><circle cx="53.2" cy="79.3" r="2.17" stroke-opacity="0.27" fill-opacity="0.15"/><circle cx="67.3" cy="78.1" r="2.17" stroke-opacity="0.38" fill-opacity="0.21"/><circle cx="49.5" cy="67.5" r="2.17" stroke-opacity="0.47" fill-opacity="0.26"/><circle cx="93.5" cy="68.7" r="2.17" stroke-opacity="0.46" fill-opacity="0.25"/><circle cx="64.6" cy="73.6" r="2.17" stroke-opacity="0.20" fill-opacity="0.11"/><circle cx="71.4" cy="70.3" r="2.17" stroke-opacity="0.25" fill-opacity="0.14"/><circle cx="79.4" cy="60.8" r="2.17" stroke-opacity="0.24" fill-opacity="0.13"/><circle cx="61.7" cy="56.1" r="2.17" stroke-opacity="0.49" fill-opacity="0.27"/><circle cx="94.4" cy="62.9" r="2.17" stroke-opacity="0.41" fill-opacity="0.23"/><circle cx="80.0" cy="69.8" r="2.17" stroke-opacity="0.25" fill-opacity="0.14"/><circle cx="49.1" cy="57.0" r="2.17" stroke-opacity="0.52" fill-opacity="0.28"/><circle cx="65.4" cy="65.7" r="2.17" stroke-opacity="0.28" fill-opacity="0.16"/><circle cx="94.0" cy="70.9" r="2.17" stroke-opacity="0.16" fill-opacity="0.09"/><circle cx="54.0" cy="51.7" r="2.17" stroke-opacity="0.50" fill-opacity="0.28"/><circle cx="62.6" cy="85.1" r="2.17" stroke-opacity="0.46" fill-opacity="0.25"/><circle cx="92.5" cy="67.0" r="2.17" stroke-opacity="0.27" fill-opacity="0.15"/><circle cx="71.1" cy="61.5" r="2.17" stroke-opacity="0.18" fill-opacity="0.10"/><circle cx="44.0" cy="74.0" r="2.17" stroke-opacity="0.17" fill-opacity="0.09"/><circle cx="87.3" cy="51.9" r="2.17" stroke-opacity="0.53" fill-opacity="0.29"/><circle cx="89.8" cy="61.1" r="2.17" stroke-opacity="0.39" fill-opacity="0.21"/><circle cx="85.9" cy="71.4" r="2.17" stroke-opacity="0.40" fill-opacity="0.22"/><circle cx="83.6" cy="68.5" r="2.17" stroke-opacity="0.27" fill-opacity="0.15"/><circle cx="60.8" cy="76.5" r="2.17" stroke-opacity="0.32" fill-opacity="0.17"/><circle cx="49.2" cy="56.1" r="2.17" stroke-opacity="0.48" fill-opacity="0.26"/><circle cx="70.1" cy="61.4" r="2.17" stroke-opacity="0.29" fill-opacity="0.16"/><circle cx="44.3" cy="68.9" r="2.17" stroke-opacity="0.34" fill-opacity="0.19"/><circle cx="44.0" cy="65.5" r="2.17" stroke-opacity="0.33" fill-opacity="0.18"/><circle cx="46.3" cy="63.0" r="2.17" stroke-opacity="0.35" fill-opacity="0.20"/><circle cx="89.4" cy="66.0" r="2.17" stroke-opacity="0.20" fill-opacity="0.11"/><circle cx="62.2" cy="77.9" r="2.17" stroke-opacity="0.39" fill-opacity="0.22"/><circle cx="45.5" cy="65.2" r="2.17" stroke-opacity="0.27" fill-opacity="0.15"/><circle cx="39.2" cy="67.7" r="2.17" stroke-opacity="0.36" fill-opacity="0.20"/><circle cx="93.4" cy="66.8" r="2.17" stroke-opacity="0.33" fill-opacity="0.18"/><circle cx="83.1" cy="54.9" r="2.17" stroke-opacity="0.27" fill-opacity="0.15"/><circle cx="53.1" cy="86.6" r="2.17" stroke-opacity="0.44" fill-opacity="0.24"/><circle cx="83.1" cy="63.0" r="2.17" stroke-opacity="0.52" fill-opacity="0.29"/><circle cx="57.4" cy="87.6" r="2.17" stroke-opacity="0.55" fill-opacity="0.30"/><circle cx="45.5" cy="47.2" r="2.17" stroke-opacity="0.50" fill-opacity="0.27"/><circle cx="36.8" cy="72.9" r="2.17" stroke-opacity="0.42" fill-opacity="0.23"/><circle cx="82.4" cy="78.1" r="2.17" stroke-opacity="0.35" fill-opacity="0.19"/><circle cx="46.0" cy="64.9" r="2.17" stroke-opacity="0.41" fill-opacity="0.23"/><circle cx="42.5" cy="74.7" r="2.17" stroke-opacity="0.55" fill-opacity="0.30"/><circle cx="65.4" cy="79.1" r="2.17" stroke-opacity="0.26" fill-opacity="0.14"/><circle cx="52.7" cy="46.7" r="2.17" stroke-opacity="0.19" fill-opacity="0.10"/><circle cx="38.4" cy="62.8" r="2.17" stroke-opacity="0.40" fill-opacity="0.22"/><circle cx="77.3" cy="80.5" r="2.17" stroke-opacity="0.36" fill-opacity="0.20"/><circle cx="45.7" cy="59.8" r="2.17" stroke-opacity="0.33" fill-opacity="0.18"/><circle cx="77.0" cy="65.9" r="2.17" stroke-opacity="0.26" fill-opacity="0.15"/><circle cx="59.8" cy="78.3" r="2.17" stroke-opacity="0.54" fill-opacity="0.30"/><circle cx="52.2" cy="69.3" r="2.17" stroke-opacity="0.44" fill-opacity="0.24"/><circle cx="83.6" cy="55.1" r="2.17" stroke-opacity="0.34" fill-opacity="0.19"/><circle cx="84.1" cy="80.6" r="2.17" stroke-opacity="0.45" fill-opacity="0.25"/><circle cx="49.1" cy="75.7" r="2.17" stroke-opacity="0.54" fill-opacity="0.30"/><circle cx="37.2" cy="53.3" r="2.17" stroke-opacity="0.30" fill-opacity="0.17"/><circle cx="45.8" cy="71.1" r="2.17" stroke-opacity="0.32" fill-opacity="0.18"/><circle cx="48.3" cy="43.7" r="2.17" stroke-opacity="0.39" fill-opacity="0.21"/><circle cx="90.9" cy="69.9" r="2.17" stroke-opacity="0.38" fill-opacity="0.21"/><circle cx="48.9" cy="67.9" r="2.17" stroke-opacity="0.49" fill-opacity="0.27"/><circle cx="75.0" cy="54.8" r="2.17" stroke-opacity="0.41" fill-opacity="0.23"/><circle cx="59.7" cy="76.3" r="2.17" stroke-opacity="0.31" fill-opacity="0.17"/><circle cx="82.6" cy="50.5" r="2.17" stroke-opacity="0.38" fill-opacity="0.21"/><circle cx="73.9" cy="67.8" r="2.17" stroke-opacity="0.45" fill-opacity="0.25"/><circle cx="71.9" cy="82.4" r="2.17" stroke-opacity="0.43" fill-opacity="0.24"/><circle cx="62.2" cy="71.2" r="2.17" stroke-opacity="0.25" fill-opacity="0.13"/><circle cx="70.2" cy="61.0" r="2.17" stroke-opacity="0.48" fill-opacity="0.26"/><circle cx="77.1" cy="52.4" r="2.17" stroke-opacity="0.53" fill-opacity="0.29"/><circle cx="54.5" cy="86.0" r="2.17" stroke-opacity="0.50" fill-opacity="0.28"/><circle cx="60.3" cy="57.2" r="2.17" stroke-opacity="0.35" fill-opacity="0.19"/><circle cx="75.6" cy="59.7" r="2.17" stroke-opacity="0.48" fill-opacity="0.26"/><circle cx="95.2" cy="61.9" r="2.17" stroke-opacity="0.23" fill-opacity="0.13"/><circle cx="49.7" cy="54.5" r="2.17" stroke-opacity="0.47" fill-opacity="0.26"/><circle cx="50.8" cy="67.5" r="2.17" stroke-opacity="0.68" fill-opacity="0.37"/><circle cx="74.6" cy="80.4" r="2.17" stroke-opacity="0.51" fill-opacity="0.28"/><circle cx="77.9" cy="72.3" r="2.17" stroke-opacity="0.61" fill-opacity="0.33"/><circle cx="47.5" cy="76.7" r="2.17" stroke-opacity="0.44" fill-opacity="0.24"/><circle cx="80.3" cy="75.8" r="2.17" stroke-opacity="0.45" fill-opacity="0.25"/><circle cx="86.8" cy="72.2" r="2.17" stroke-opacity="0.49" fill-opacity="0.27"/><circle cx="53.9" cy="52.3" r="2.17" stroke-opacity="0.42" fill-opacity="0.23"/><circle cx="83.1" cy="68.5" r="2.17" stroke-opacity="0.39" fill-opacity="0.22"/><circle cx="50.8" cy="65.7" r="2.17" stroke-opacity="0.59" fill-opacity="0.32"/><circle cx="46.2" cy="47.1" r="2.17" stroke-opacity="0.43" fill-opacity="0.24"/><circle cx="78.7" cy="69.2" r="2.17" stroke-opacity="0.33" fill-opacity="0.18"/><circle cx="47.8" cy="69.8" r="2.17" stroke-opacity="0.36" fill-opacity="0.20"/><circle cx="48.2" cy="68.8" r="2.17" stroke-opacity="0.41" fill-opacity="0.22"/><circle cx="50.3" cy="50.2" r="2.17" stroke-opacity="0.37" fill-opacity="0.20"/><circle cx="51.1" cy="58.0" r="2.17" stroke-opacity="0.67" fill-opacity="0.37"/><circle cx="46.5" cy="69.6" r="2.17" stroke-opacity="0.64" fill-opacity="0.35"/><circle cx="80.2" cy="61.7" r="2.17" stroke-opacity="0.30" fill-opacity="0.17"/><circle cx="66.2" cy="69.7" r="2.17" stroke-opacity="0.55" fill-opacity="0.30"/><circle cx="77.0" cy="62.4" r="2.17" stroke-opacity="0.43" fill-opacity="0.24"/><circle cx="50.5" cy="73.2" r="2.17" stroke-opacity="0.69" fill-opacity="0.38"/><circle cx="79.0" cy="77.3" r="2.17" stroke-opacity="0.33" fill-opacity="0.18"/><circle cx="81.6" cy="69.1" r="2.17" stroke-opacity="0.31" fill-opacity="0.17"/><circle cx="53.9" cy="60.6" r="2.17" stroke-opacity="0.55" fill-opacity="0.30"/><circle cx="88.1" cy="72.4" r="2.17" stroke-opacity="0.54" fill-opacity="0.30"/><circle cx="78.8" cy="74.5" r="2.17" stroke-opacity="0.56" fill-opacity="0.31"/><circle cx="50.7" cy="70.3" r="2.17" stroke-opacity="0.56" fill-opacity="0.31"/><circle cx="56.4" cy="71.4" r="2.17" stroke-opacity="0.50" fill-opacity="0.28"/><circle cx="60.2" cy="74.1" r="2.17" stroke-opacity="0.62" fill-opacity="0.34"/><circle cx="50.5" cy="77.7" r="2.17" stroke-opacity="0.69" fill-opacity="0.38"/><circle cx="67.2" cy="74.6" r="2.17" stroke-opacity="0.63" fill-opacity="0.35"/><circle cx="80.8" cy="56.6" r="2.17" stroke-opacity="0.38" fill-opacity="0.21"/><circle cx="61.8" cy="72.3" r="2.17" stroke-opacity="0.47" fill-opacity="0.26"/><circle cx="79.2" cy="74.7" r="2.17" stroke-opacity="0.62" fill-opacity="0.34"/><circle cx="85.8" cy="63.7" r="2.17" stroke-opacity="0.48" fill-opacity="0.27"/><circle cx="62.7" cy="66.5" r="2.17" stroke-opacity="0.64" fill-opacity="0.35"/><circle cx="41.9" cy="69.5" r="2.17" stroke-opacity="0.69" fill-opacity="0.38"/><circle cx="56.1" cy="66.6" r="2.17" stroke-opacity="0.58" fill-opacity="0.32"/><circle cx="77.8" cy="74.3" r="2.17" stroke-opacity="0.46" fill-opacity="0.25"/><circle cx="48.2" cy="44.5" r="2.17" stroke-opacity="0.64" fill-opacity="0.35"/><circle cx="57.3" cy="62.5" r="2.17" stroke-opacity="0.55" fill-opacity="0.30"/><circle cx="55.7" cy="57.5" r="2.17" stroke-opacity="0.70" fill-opacity="0.38"/><circle cx="52.1" cy="47.8" r="2.17" stroke-opacity="0.57" fill-opacity="0.31"/><circle cx="78.1" cy="74.3" r="2.17" stroke-opacity="0.36" fill-opacity="0.20"/><circle cx="42.9" cy="58.6" r="2.17" stroke-opacity="0.67" fill-opacity="0.37"/><circle cx="64.6" cy="77.9" r="2.17" stroke-opacity="0.42" fill-opacity="0.23"/><circle cx="76.7" cy="77.4" r="2.17" stroke-opacity="0.53" fill-opacity="0.29"/><circle cx="58.1" cy="72.5" r="2.17" stroke-opacity="0.30" fill-opacity="0.17"/><circle cx="90.0" cy="67.6" r="2.17" stroke-opacity="0.35" fill-opacity="0.19"/><circle cx="82.7" cy="66.0" r="2.17" stroke-opacity="0.34" fill-opacity="0.19"/><circle cx="46.5" cy="67.9" r="2.17" stroke-opacity="0.40" fill-opacity="0.22"/><circle cx="65.1" cy="73.7" r="2.17" stroke-opacity="0.30" fill-opacity="0.17"/><circle cx="42.5" cy="57.9" r="2.17" stroke-opacity="0.46" fill-opacity="0.25"/><circle cx="75.1" cy="62.9" r="2.17" stroke-opacity="0.34" fill-opacity="0.19"/><circle cx="40.3" cy="68.6" r="2.17" stroke-opacity="0.56" fill-opacity="0.31"/><circle cx="79.2" cy="62.9" r="2.17" stroke-opacity="0.42" fill-opacity="0.23"/><circle cx="41.6" cy="66.3" r="2.17" stroke-opacity="0.69" fill-opacity="0.38"/><circle cx="72.6" cy="78.5" r="2.17" stroke-opacity="0.47" fill-opacity="0.26"/><circle cx="53.4" cy="62.0" r="2.17" stroke-opacity="0.48" fill-opacity="0.27"/><circle cx="50.2" cy="66.3" r="2.17" stroke-opacity="0.48" fill-opacity="0.27"/><circle cx="58.3" cy="60.3" r="2.17" stroke-opacity="0.30" fill-opacity="0.17"/><circle cx="64.0" cy="75.5" r="2.17" stroke-opacity="0.43" fill-opacity="0.24"/><circle cx="57.1" cy="72.6" r="2.17" stroke-opacity="0.67" fill-opacity="0.37"/><circle cx="75.5" cy="67.6" r="2.17" stroke-opacity="0.34" fill-opacity="0.19"/><circle cx="57.2" cy="71.8" r="2.17" stroke-opacity="0.44" fill-opacity="0.24"/><circle cx="50.8" cy="66.6" r="2.17" stroke-opacity="0.35" fill-opacity="0.20"/><circle cx="60.4" cy="66.1" r="2.17" stroke-opacity="0.41" fill-opacity="0.23"/><circle cx="66.8" cy="71.9" r="2.17" stroke-opacity="0.41" fill-opacity="0.23"/><circle cx="48.5" cy="77.8" r="2.17" stroke-opacity="0.56" fill-opacity="0.31"/><circle cx="61.7" cy="78.4" r="2.17" stroke-opacity="0.67" fill-opacity="0.37"/><circle cx="63.2" cy="72.5" r="2.17" stroke-opacity="0.43" fill-opacity="0.24"/><circle cx="46.7" cy="59.8" r="2.17" stroke-opacity="0.59" fill-opacity="0.32"/><circle cx="55.8" cy="75.8" r="2.17" stroke-opacity="0.65" fill-opacity="0.36"/><circle cx="47.1" cy="59.1" r="2.17" stroke-opacity="0.42" fill-opacity="0.23"/><circle cx="52.2" cy="68.3" r="2.17" stroke-opacity="0.33" fill-opacity="0.18"/><circle cx="51.8" cy="55.5" r="2.17" stroke-opacity="0.32" fill-opacity="0.18"/><circle cx="45.6" cy="55.0" r="2.17" stroke-opacity="0.39" fill-opacity="0.21"/><circle cx="83.1" cy="61.5" r="2.17" stroke-opacity="0.44" fill-opacity="0.24"/><circle cx="48.8" cy="48.3" r="2.17" stroke-opacity="0.45" fill-opacity="0.25"/><circle cx="46.2" cy="65.8" r="2.17" stroke-opacity="0.51" fill-opacity="0.28"/><circle cx="57.1" cy="58.6" r="2.17" stroke-opacity="0.36" fill-opacity="0.20"/><circle cx="46.4" cy="73.5" r="2.17" stroke-opacity="0.50" fill-opacity="0.27"/><circle cx="75.7" cy="62.7" r="2.17" stroke-opacity="0.38" fill-opacity="0.21"/><circle cx="79.8" cy="70.6" r="2.17" stroke-opacity="0.54" fill-opacity="0.30"/><circle cx="61.1" cy="80.9" r="2.17" stroke-opacity="0.48" fill-opacity="0.26"/><circle cx="56.3" cy="80.9" r="2.17" stroke-opacity="0.30" fill-opacity="0.17"/><circle cx="77.0" cy="78.8" r="2.17" stroke-opacity="0.43" fill-opacity="0.23"/><circle cx="49.9" cy="77.0" r="2.17" stroke-opacity="0.65" fill-opacity="0.36"/><circle cx="53.5" cy="72.3" r="2.17" stroke-opacity="0.56" fill-opacity="0.31"/><circle cx="79.8" cy="76.8" r="2.17" stroke-opacity="0.65" fill-opacity="0.36"/><circle cx="58.9" cy="83.7" r="2.17" stroke-opacity="0.36" fill-opacity="0.20"/><circle cx="69.5" cy="74.3" r="2.17" stroke-opacity="0.32" fill-opacity="0.18"/><circle cx="86.0" cy="56.6" r="2.17" stroke-opacity="0.46" fill-opacity="0.26"/><circle cx="57.8" cy="78.6" r="2.17" stroke-opacity="0.48" fill-opacity="0.26"/><circle cx="45.1" cy="75.3" r="2.17" stroke-opacity="0.39" fill-opacity="0.22"/><circle cx="82.1" cy="65.8" r="2.17" stroke-opacity="0.58" fill-opacity="0.32"/><circle cx="86.7" cy="74.0" r="2.17" stroke-opacity="0.37" fill-opacity="0.20"/><circle cx="55.6" cy="65.9" r="2.17" stroke-opacity="0.43" fill-opacity="0.24"/><circle cx="85.2" cy="61.5" r="2.17" stroke-opacity="0.64" fill-opacity="0.35"/><circle cx="81.0" cy="68.1" r="2.17" stroke-opacity="0.34" fill-opacity="0.18"/><circle cx="72.3" cy="75.9" r="2.17" stroke-opacity="0.45" fill-opacity="0.25"/><circle cx="48.4" cy="46.3" r="2.17" stroke-opacity="0.59" fill-opacity="0.32"/><circle cx="40.6" cy="59.9" r="2.17" stroke-opacity="0.38" fill-opacity="0.21"/><circle cx="68.3" cy="75.8" r="2.17" stroke-opacity="0.47" fill-opacity="0.26"/><circle cx="86.3" cy="59.1" r="2.17" stroke-opacity="0.38" fill-opacity="0.21"/><circle cx="78.3" cy="78.8" r="2.17" stroke-opacity="0.60" fill-opacity="0.33"/><circle cx="90.4" cy="69.1" r="2.17" stroke-opacity="0.33" fill-opacity="0.18"/><circle cx="40.9" cy="65.7" r="2.17" stroke-opacity="0.31" fill-opacity="0.17"/><circle cx="47.1" cy="63.4" r="2.17" stroke-opacity="0.43" fill-opacity="0.24"/><circle cx="83.6" cy="52.6" r="2.17" stroke-opacity="0.37" fill-opacity="0.20"/><circle cx="39.9" cy="63.3" r="2.17" stroke-opacity="0.32" fill-opacity="0.17"/><circle cx="64.6" cy="72.9" r="2.17" stroke-opacity="0.49" fill-opacity="0.27"/><circle cx="90.9" cy="62.9" r="2.17" stroke-opacity="0.63" fill-opacity="0.35"/><circle cx="78.4" cy="60.8" r="2.17" stroke-opacity="0.36" fill-opacity="0.20"/><circle cx="87.2" cy="63.7" r="2.17" stroke-opacity="0.64" fill-opacity="0.35"/><circle cx="89.7" cy="68.6" r="2.17" stroke-opacity="0.42" fill-opacity="0.23"/><circle cx="75.9" cy="62.4" r="2.17" stroke-opacity="0.64" fill-opacity="0.35"/><circle cx="63.3" cy="82.5" r="2.17" stroke-opacity="0.32" fill-opacity="0.18"/><circle cx="72.1" cy="76.7" r="2.17" stroke-opacity="0.58" fill-opacity="0.32"/><circle cx="82.8" cy="69.7" r="2.17" stroke-opacity="0.63" fill-opacity="0.35"/><circle cx="62.3" cy="67.5" r="2.17" stroke-opacity="0.55" fill-opacity="0.30"/><circle cx="84.4" cy="73.8" r="2.17" stroke-opacity="0.43" fill-opacity="0.23"/><circle cx="67.3" cy="82.8" r="2.17" stroke-opacity="0.52" fill-opacity="0.29"/><circle cx="46.3" cy="69.0" r="2.17" stroke-opacity="0.58" fill-opacity="0.32"/><circle cx="56.3" cy="59.4" r="2.17" stroke-opacity="0.69" fill-opacity="0.38"/><circle cx="48.9" cy="51.5" r="2.17" stroke-opacity="0.32" fill-opacity="0.17"/><circle cx="48.7" cy="62.3" r="2.17" stroke-opacity="0.58" fill-opacity="0.32"/><circle cx="66.0" cy="81.8" r="2.17" stroke-opacity="0.67" fill-opacity="0.37"/><circle cx="51.6" cy="80.3" r="2.17" stroke-opacity="0.60" fill-opacity="0.33"/><circle cx="49.4" cy="55.4" r="2.17" stroke-opacity="0.47" fill-opacity="0.26"/><circle cx="48.2" cy="67.7" r="2.17" stroke-opacity="0.35" fill-opacity="0.19"/><circle cx="79.3" cy="62.7" r="2.17" stroke-opacity="0.19" fill-opacity="0.11"/><circle cx="89.7" cy="53.5" r="2.17" stroke-opacity="0.23" fill-opacity="0.13"/><circle cx="87.5" cy="65.3" r="2.17" stroke-opacity="0.35" fill-opacity="0.19"/><circle cx="59.4" cy="50.0" r="2.17" stroke-opacity="0.29" fill-opacity="0.16"/><circle cx="65.2" cy="82.3" r="2.17" stroke-opacity="0.18" fill-opacity="0.10"/><circle cx="59.4" cy="75.0" r="2.17" stroke-opacity="0.23" fill-opacity="0.13"/><circle cx="57.2" cy="71.3" r="2.17" stroke-opacity="0.16" fill-opacity="0.09"/><circle cx="64.1" cy="76.1" r="2.17" stroke-opacity="0.37" fill-opacity="0.20"/><circle cx="62.5" cy="76.0" r="2.17" stroke-opacity="0.32" fill-opacity="0.17"/><circle cx="48.3" cy="57.8" r="2.17" stroke-opacity="0.38" fill-opacity="0.21"/><circle cx="38.5" cy="66.5" r="2.17" stroke-opacity="0.25" fill-opacity="0.14"/><circle cx="53.9" cy="87.4" r="2.17" stroke-opacity="0.18" fill-opacity="0.10"/><circle cx="64.0" cy="63.8" r="2.17" stroke-opacity="0.30" fill-opacity="0.17"/><circle cx="67.5" cy="69.7" r="2.17" stroke-opacity="0.35" fill-opacity="0.19"/><circle cx="73.8" cy="72.4" r="2.17" stroke-opacity="0.37" fill-opacity="0.21"/><circle cx="95.1" cy="60.1" r="2.17" stroke-opacity="0.16" fill-opacity="0.09"/><circle cx="80.3" cy="76.4" r="2.17" stroke-opacity="0.32" fill-opacity="0.18"/><circle cx="79.0" cy="73.3" r="2.17" stroke-opacity="0.22" fill-opacity="0.12"/><circle cx="75.2" cy="83.7" r="2.17" stroke-opacity="0.29" fill-opacity="0.16"/><circle cx="54.1" cy="57.4" r="2.17" stroke-opacity="0.30" fill-opacity="0.16"/><circle cx="42.6" cy="85.6" r="2.17" stroke-opacity="0.40" fill-opacity="0.22"/><circle cx="52.8" cy="82.4" r="2.17" stroke-opacity="0.28" fill-opacity="0.15"/><circle cx="35.2" cy="60.8" r="2.17" stroke-opacity="0.32" fill-opacity="0.18"/><circle cx="55.8" cy="56.8" r="2.17" stroke-opacity="0.17" fill-opacity="0.10"/><circle cx="69.7" cy="90.0" r="2.17" stroke-opacity="0.12" fill-opacity="0.07"/><circle cx="45.2" cy="60.3" r="2.17" stroke-opacity="0.34" fill-opacity="0.18"/><circle cx="69.9" cy="70.4" r="2.17" stroke-opacity="0.12" fill-opacity="0.07"/><circle cx="41.5" cy="42.3" r="2.17" stroke-opacity="0.28" fill-opacity="0.15"/><circle cx="79.5" cy="55.3" r="2.17" stroke-opacity="0.21" fill-opacity="0.12"/><circle cx="54.5" cy="84.7" r="2.17" stroke-opacity="0.23" fill-opacity="0.13"/><circle cx="59.8" cy="91.2" r="2.17" stroke-opacity="0.18" fill-opacity="0.10"/><circle cx="65.2" cy="78.4" r="2.17" stroke-opacity="0.20" fill-opacity="0.11"/><circle cx="47.3" cy="40.0" r="2.17" stroke-opacity="0.37" fill-opacity="0.20"/><circle cx="69.7" cy="85.0" r="2.17" stroke-opacity="0.13" fill-opacity="0.07"/><circle cx="56.6" cy="47.5" r="2.17" stroke-opacity="0.30" fill-opacity="0.17"/><circle cx="56.8" cy="86.0" r="2.17" stroke-opacity="0.15" fill-opacity="0.08"/><circle cx="53.5" cy="79.4" r="2.17" stroke-opacity="0.37" fill-opacity="0.20"/><circle cx="45.3" cy="41.7" r="2.17" stroke-opacity="0.36" fill-opacity="0.20"/><circle cx="71.1" cy="75.0" r="2.17" stroke-opacity="0.35" fill-opacity="0.19"/><circle cx="36.5" cy="77.0" r="2.17" stroke-opacity="0.38" fill-opacity="0.21"/><circle cx="51.8" cy="86.6" r="2.17" stroke-opacity="0.19" fill-opacity="0.10"/><circle cx="32.6" cy="73.2" r="2.17" stroke-opacity="0.26" fill-opacity="0.14"/><circle cx="61.3" cy="81.0" r="2.17" stroke-opacity="0.34" fill-opacity="0.19"/><circle cx="83.9" cy="57.8" r="2.17" stroke-opacity="0.23" fill-opacity="0.13"/><circle cx="92.6" cy="58.8" r="2.17" stroke-opacity="0.18" fill-opacity="0.10"/><circle cx="32.3" cy="71.3" r="2.17" stroke-opacity="0.18" fill-opacity="0.10"/><circle cx="73.1" cy="79.4" r="2.17" stroke-opacity="0.17" fill-opacity="0.10"/><circle cx="46.7" cy="79.0" r="2.17" stroke-opacity="0.19" fill-opacity="0.11"/><circle cx="46.1" cy="59.0" r="2.17" stroke-opacity="0.15" fill-opacity="0.08"/><circle cx="60.6" cy="60.9" r="2.17" stroke-opacity="0.27" fill-opacity="0.15"/><circle cx="48.6" cy="86.9" r="2.17" stroke-opacity="0.16" fill-opacity="0.09"/><circle cx="75.3" cy="86.1" r="2.17" stroke-opacity="0.31" fill-opacity="0.17"/><circle cx="69.2" cy="64.8" r="2.17" stroke-opacity="0.14" fill-opacity="0.08"/><circle cx="94.6" cy="62.4" r="2.17" stroke-opacity="0.30" fill-opacity="0.16"/><circle cx="38.2" cy="77.6" r="2.17" stroke-opacity="0.14" fill-opacity="0.07"/><circle cx="57.1" cy="59.8" r="2.17" stroke-opacity="0.33" fill-opacity="0.18"/><circle cx="81.1" cy="59.6" r="2.17" stroke-opacity="0.38" fill-opacity="0.21"/><circle cx="58.1" cy="69.5" r="2.17" stroke-opacity="0.34" fill-opacity="0.19"/><circle cx="93.5" cy="64.3" r="2.17" stroke-opacity="0.32" fill-opacity="0.17"/><circle cx="76.2" cy="75.6" r="2.17" stroke-opacity="0.14" fill-opacity="0.08"/><circle cx="45.3" cy="66.3" r="2.17" stroke-opacity="0.77" fill-opacity="0.42"/><circle cx="89.3" cy="52.1" r="2.17" stroke-opacity="0.87" fill-opacity="0.48"/><circle cx="47.1" cy="81.6" r="2.17" stroke-opacity="0.95" fill-opacity="0.52"/><circle cx="44.0" cy="80.8" r="2.17" stroke-opacity="0.82" fill-opacity="0.45"/><circle cx="74.8" cy="67.5" r="2.17" stroke-opacity="0.94" fill-opacity="0.52"/><circle cx="80.7" cy="78.4" r="2.17" stroke-opacity="0.99" fill-opacity="0.55"/><circle cx="76.0" cy="69.2" r="2.17" stroke-opacity="0.92" fill-opacity="0.50"/><circle cx="87.3" cy="74.4" r="2.17" stroke-opacity="0.83" fill-opacity="0.45"/><circle cx="66.7" cy="83.8" r="2.17" stroke-opacity="0.95" fill-opacity="0.52"/><circle cx="49.4" cy="42.2" r="2.17" stroke-opacity="0.99" fill-opacity="0.54"/><circle cx="47.1" cy="45.5" r="2.17" stroke-opacity="0.92" fill-opacity="0.50"/><circle cx="71.2" cy="82.9" r="2.17" stroke-opacity="0.90" fill-opacity="0.49"/><circle cx="84.0" cy="72.1" r="2.17" stroke-opacity="0.89" fill-opacity="0.49"/><circle cx="92.1" cy="63.5" r="2.17" stroke-opacity="1.00" fill-opacity="0.55"/><circle cx="90.9" cy="67.7" r="2.17" stroke-opacity="0.96" fill-opacity="0.53"/><circle cx="88.1" cy="65.7" r="2.17" stroke-opacity="0.83" fill-opacity="0.46"/><circle cx="83.0" cy="71.6" r="2.17" stroke-opacity="0.99" fill-opacity="0.54"/><circle cx="47.0" cy="70.2" r="2.17" stroke-opacity="0.96" fill-opacity="0.53"/><circle cx="58.7" cy="69.8" r="2.17" stroke-opacity="0.92" fill-opacity="0.50"/><circle cx="62.7" cy="70.7" r="2.17" stroke-opacity="0.86" fill-opacity="0.47"/><circle cx="50.5" cy="72.1" r="2.17" stroke-opacity="0.94" fill-opacity="0.52"/><circle cx="37.7" cy="54.6" r="2.17" stroke-opacity="0.80" fill-opacity="0.44"/><circle cx="56.5" cy="84.3" r="2.17" stroke-opacity="0.91" fill-opacity="0.50"/><circle cx="50.4" cy="42.1" r="2.17" stroke-opacity="0.80" fill-opacity="0.44"/><circle cx="53.7" cy="78.9" r="2.17" stroke-opacity="0.80" fill-opacity="0.44"/><circle cx="61.4" cy="83.1" r="2.17" stroke-opacity="0.90" fill-opacity="0.50"/><circle cx="82.9" cy="64.4" r="2.17" stroke-opacity="1.00" fill-opacity="0.55"/><circle cx="51.7" cy="69.7" r="2.17" stroke-opacity="0.93" fill-opacity="0.51"/><circle cx="75.6" cy="83.7" r="2.17" stroke-opacity="0.86" fill-opacity="0.47"/><circle cx="62.7" cy="65.7" r="2.17" stroke-opacity="0.89" fill-opacity="0.49"/><circle cx="54.9" cy="46.8" r="2.17" stroke-opacity="0.77" fill-opacity="0.42"/><circle cx="48.3" cy="55.9" r="2.17" stroke-opacity="0.83" fill-opacity="0.46"/><circle cx="86.4" cy="65.4" r="2.17" stroke-opacity="1.00" fill-opacity="0.55"/><circle cx="84.5" cy="56.8" r="2.17" stroke-opacity="0.85" fill-opacity="0.47"/><circle cx="39.6" cy="74.0" r="2.17" stroke-opacity="0.93" fill-opacity="0.51"/><circle cx="48.4" cy="72.1" r="2.17" stroke-opacity="0.85" fill-opacity="0.47"/><circle cx="78.3" cy="71.0" r="2.17" stroke-opacity="0.83" fill-opacity="0.46"/><circle cx="39.2" cy="77.0" r="2.17" stroke-opacity="0.87" fill-opacity="0.48"/><circle cx="43.4" cy="44.6" r="2.17" stroke-opacity="0.79" fill-opacity="0.43"/><circle cx="84.1" cy="77.5" r="2.17" stroke-opacity="0.93" fill-opacity="0.51"/><circle cx="64.8" cy="69.3" r="2.17" stroke-opacity="0.82" fill-opacity="0.45"/><circle cx="63.5" cy="72.4" r="2.17" stroke-opacity="0.92" fill-opacity="0.50"/><circle cx="41.1" cy="65.7" r="2.17" stroke-opacity="0.97" fill-opacity="0.53"/><circle cx="50.8" cy="79.6" r="2.17" stroke-opacity="0.90" fill-opacity="0.49"/><circle cx="72.0" cy="67.6" r="2.17" stroke-opacity="0.98" fill-opacity="0.54"/><circle cx="63.3" cy="65.9" r="2.17" stroke-opacity="0.76" fill-opacity="0.42"/><circle cx="57.0" cy="47.9" r="2.17" stroke-opacity="0.96" fill-opacity="0.53"/><circle cx="70.0" cy="65.8" r="2.17" stroke-opacity="0.76" fill-opacity="0.42"/><circle cx="57.8" cy="73.7" r="2.17" stroke-opacity="0.98" fill-opacity="0.54"/><circle cx="69.7" cy="76.3" r="2.17" stroke-opacity="0.76" fill-opacity="0.42"/><circle cx="90.4" cy="63.7" r="2.17" stroke-opacity="0.83" fill-opacity="0.46"/><circle cx="82.9" cy="53.8" r="2.17" stroke-opacity="0.87" fill-opacity="0.48"/><circle cx="82.3" cy="63.0" r="2.17" stroke-opacity="0.82" fill-opacity="0.45"/><circle cx="81.3" cy="81.0" r="2.17" stroke-opacity="0.92" fill-opacity="0.51"/><circle cx="69.4" cy="79.1" r="2.17" stroke-opacity="0.85" fill-opacity="0.47"/><circle cx="89.6" cy="73.3" r="2.17" stroke-opacity="0.93" fill-opacity="0.51"/><circle cx="89.9" cy="62.7" r="2.17" stroke-opacity="0.91" fill-opacity="0.50"/><circle cx="90.6" cy="50.4" r="2.17" stroke-opacity="0.78" fill-opacity="0.43"/><circle cx="73.1" cy="73.4" r="2.17" stroke-opacity="0.79" fill-opacity="0.43"/><circle cx="46.3" cy="64.0" r="2.17" stroke-opacity="0.95" fill-opacity="0.52"/><circle cx="56.2" cy="61.5" r="2.17" stroke-opacity="0.93" fill-opacity="0.51"/><circle cx="51.7" cy="47.3" r="2.17" stroke-opacity="0.88" fill-opacity="0.49"/><circle cx="74.3" cy="79.5" r="2.17" stroke-opacity="0.86" fill-opacity="0.47"/><circle cx="40.6" cy="54.8" r="2.17" stroke-opacity="0.84" fill-opacity="0.46"/><circle cx="74.9" cy="65.9" r="2.17" stroke-opacity="0.86" fill-opacity="0.47"/><circle cx="41.4" cy="78.9" r="2.17" stroke-opacity="0.92" fill-opacity="0.51"/><circle cx="75.8" cy="60.9" r="2.17" stroke-opacity="0.85" fill-opacity="0.47"/><circle cx="76.8" cy="76.2" r="2.17" stroke-opacity="0.91" fill-opacity="0.50"/><circle cx="77.8" cy="70.9" r="2.17" stroke-opacity="0.89" fill-opacity="0.49"/><circle cx="67.9" cy="79.1" r="2.17" stroke-opacity="0.99" fill-opacity="0.54"/><circle cx="74.5" cy="70.1" r="2.17" stroke-opacity="0.87" fill-opacity="0.48"/><circle cx="94.2" cy="61.4" r="2.17" stroke-opacity="0.87" fill-opacity="0.48"/><circle cx="57.6" cy="56.0" r="2.17" stroke-opacity="0.84" fill-opacity="0.46"/><circle cx="92.2" cy="56.9" r="2.17" stroke-opacity="0.86" fill-opacity="0.47"/><circle cx="62.9" cy="60.0" r="2.17" stroke-opacity="0.77" fill-opacity="0.43"/><circle cx="48.2" cy="54.2" r="2.17" stroke-opacity="0.97" fill-opacity="0.53"/><circle cx="53.2" cy="46.2" r="2.17" stroke-opacity="0.79" fill-opacity="0.43"/><circle cx="74.6" cy="61.7" r="2.17" stroke-opacity="0.83" fill-opacity="0.46"/><circle cx="84.2" cy="75.1" r="2.17" stroke-opacity="0.81" fill-opacity="0.45"/><circle cx="82.0" cy="49.3" r="2.17" stroke-opacity="0.99" fill-opacity="0.54"/><circle cx="41.9" cy="76.4" r="2.17" stroke-opacity="0.81" fill-opacity="0.45"/><circle cx="61.3" cy="73.0" r="2.17" stroke-opacity="0.83" fill-opacity="0.46"/><circle cx="38.5" cy="51.9" r="2.17" stroke-opacity="0.97" fill-opacity="0.53"/><circle cx="82.1" cy="59.3" r="2.17" stroke-opacity="0.91" fill-opacity="0.50"/><circle cx="91.0" cy="70.5" r="2.17" stroke-opacity="0.82" fill-opacity="0.45"/><circle cx="63.9" cy="76.1" r="2.17" stroke-opacity="0.86" fill-opacity="0.48"/><circle cx="58.1" cy="66.1" r="2.17" stroke-opacity="0.87" fill-opacity="0.48"/><circle cx="61.1" cy="77.5" r="2.17" stroke-opacity="0.91" fill-opacity="0.50"/><circle cx="49.5" cy="48.3" r="2.17" stroke-opacity="0.84" fill-opacity="0.46"/><circle cx="83.9" cy="67.8" r="2.17" stroke-opacity="0.76" fill-opacity="0.42"/><circle cx="45.8" cy="61.1" r="2.17" stroke-opacity="0.84" fill-opacity="0.46"/><circle cx="71.8" cy="68.0" r="2.17" stroke-opacity="0.94" fill-opacity="0.52"/><circle cx="56.9" cy="83.3" r="2.17" stroke-opacity="0.98" fill-opacity="0.54"/><circle cx="78.7" cy="54.9" r="2.17" stroke-opacity="0.98" fill-opacity="0.54"/><circle cx="85.1" cy="70.3" r="2.17" stroke-opacity="0.81" fill-opacity="0.44"/><circle cx="50.6" cy="61.3" r="2.17" stroke-opacity="0.93" fill-opacity="0.51"/><circle cx="78.0" cy="68.4" r="2.17" stroke-opacity="0.84" fill-opacity="0.46"/><circle cx="44.2" cy="58.6" r="2.17" stroke-opacity="0.76" fill-opacity="0.42"/><circle cx="37.8" cy="61.0" r="2.17" stroke-opacity="0.93" fill-opacity="0.51"/><circle cx="68.4" cy="67.1" r="2.17" stroke-opacity="0.90" fill-opacity="0.50"/><circle cx="81.0" cy="61.6" r="2.17" stroke-opacity="0.94" fill-opacity="0.52"/><circle cx="70.7" cy="65.7" r="2.17" stroke-opacity="0.96" fill-opacity="0.53"/><circle cx="51.1" cy="61.5" r="2.17" stroke-opacity="0.93" fill-opacity="0.51"/><circle cx="51.3" cy="65.8" r="2.17" stroke-opacity="0.91" fill-opacity="0.50"/><circle cx="94.3" cy="70.5" r="2.17" stroke-opacity="0.83" fill-opacity="0.46"/><circle cx="86.3" cy="50.5" r="2.17" stroke-opacity="0.99" fill-opacity="0.54"/><circle cx="39.8" cy="51.8" r="2.17" stroke-opacity="0.87" fill-opacity="0.48"/><circle cx="56.0" cy="79.7" r="2.17" stroke-opacity="0.81" fill-opacity="0.44"/><circle cx="40.8" cy="78.6" r="2.17" stroke-opacity="0.80" fill-opacity="0.44"/><circle cx="49.9" cy="66.3" r="2.17" stroke-opacity="0.88" fill-opacity="0.49"/><circle cx="52.9" cy="271.8" r="2.17" stroke-opacity="0.45" fill-opacity="0.25"/><circle cx="73.7" cy="293.1" r="2.17" stroke-opacity="0.55" fill-opacity="0.30"/><circle cx="72.5" cy="299.8" r="2.17" stroke-opacity="0.52" fill-opacity="0.28"/><circle cx="65.8" cy="277.6" r="2.17" stroke-opacity="0.28" fill-opacity="0.16"/><circle cx="105.7" cy="283.4" r="2.17" stroke-opacity="0.43" fill-opacity="0.23"/><circle cx="55.8" cy="274.3" r="2.17" stroke-opacity="0.38" fill-opacity="0.21"/><circle cx="101.4" cy="266.5" r="2.17" stroke-opacity="0.32" fill-opacity="0.18"/><circle cx="98.3" cy="281.3" r="2.17" stroke-opacity="0.23" fill-opacity="0.13"/><circle cx="102.5" cy="270.2" r="2.17" stroke-opacity="0.20" fill-opacity="0.11"/><circle cx="61.8" cy="253.8" r="2.17" stroke-opacity="0.36" fill-opacity="0.20"/><circle cx="61.3" cy="295.6" r="2.17" stroke-opacity="0.19" fill-opacity="0.11"/><circle cx="84.0" cy="279.9" r="2.17" stroke-opacity="0.51" fill-opacity="0.28"/><circle cx="54.6" cy="262.9" r="2.17" stroke-opacity="0.32" fill-opacity="0.18"/><circle cx="46.8" cy="286.2" r="2.17" stroke-opacity="0.20" fill-opacity="0.11"/><circle cx="70.4" cy="294.8" r="2.17" stroke-opacity="0.24" fill-opacity="0.13"/><circle cx="86.1" cy="276.8" r="2.17" stroke-opacity="0.17" fill-opacity="0.10"/><circle cx="106.3" cy="274.8" r="2.17" stroke-opacity="0.28" fill-opacity="0.16"/><circle cx="78.9" cy="274.8" r="2.17" stroke-opacity="0.51" fill-opacity="0.28"/><circle cx="49.0" cy="288.0" r="2.17" stroke-opacity="0.50" fill-opacity="0.27"/><circle cx="70.3" cy="273.4" r="2.17" stroke-opacity="0.18" fill-opacity="0.10"/><circle cx="45.5" cy="276.5" r="2.17" stroke-opacity="0.49" fill-opacity="0.27"/><circle cx="45.4" cy="275.3" r="2.17" stroke-opacity="0.26" fill-opacity="0.14"/><circle cx="92.4" cy="297.7" r="2.17" stroke-opacity="0.50" fill-opacity="0.28"/><circle cx="39.4" cy="281.9" r="2.17" stroke-opacity="0.51" fill-opacity="0.28"/><circle cx="62.4" cy="300.2" r="2.17" stroke-opacity="0.51" fill-opacity="0.28"/><circle cx="38.5" cy="283.9" r="2.17" stroke-opacity="0.41" fill-opacity="0.22"/><circle cx="46.0" cy="276.1" r="2.17" stroke-opacity="0.44" fill-opacity="0.24"/><circle cx="51.5" cy="278.2" r="2.17" stroke-opacity="0.55" fill-opacity="0.30"/><circle cx="83.8" cy="270.8" r="2.17" stroke-opacity="0.47" fill-opacity="0.26"/><circle cx="65.4" cy="258.4" r="2.17" stroke-opacity="0.22" fill-opacity="0.12"/><circle cx="67.1" cy="264.2" r="2.17" stroke-opacity="0.50" fill-opacity="0.28"/><circle cx="64.4" cy="255.2" r="2.17" stroke-opacity="0.44" fill-opacity="0.24"/><circle cx="46.8" cy="286.6" r="2.17" stroke-opacity="0.41" fill-opacity="0.22"/><circle cx="69.7" cy="271.8" r="2.17" stroke-opacity="0.39" fill-opacity="0.21"/><circle cx="70.5" cy="265.4" r="2.17" stroke-opacity="0.34" fill-opacity="0.18"/><circle cx="58.2" cy="270.9" r="2.17" stroke-opacity="0.21" fill-opacity="0.12"/><circle cx="44.5" cy="284.2" r="2.17" stroke-opacity="0.41" fill-opacity="0.23"/><circle cx="60.2" cy="258.4" r="2.17" stroke-opacity="0.28" fill-opacity="0.15"/><circle cx="58.2" cy="276.1" r="2.17" stroke-opacity="0.40" fill-opacity="0.22"/><circle cx="102.7" cy="279.0" r="2.17" stroke-opacity="0.23" fill-opacity="0.13"/><circle cx="106.8" cy="281.7" r="2.17" stroke-opacity="0.18" fill-opacity="0.10"/><circle cx="75.4" cy="299.1" r="2.17" stroke-opacity="0.52" fill-opacity="0.29"/><circle cx="85.5" cy="282.7" r="2.17" stroke-opacity="0.37" fill-opacity="0.20"/><circle cx="90.5" cy="264.7" r="2.17" stroke-opacity="0.53" fill-opacity="0.29"/><circle cx="65.4" cy="279.7" r="2.17" stroke-opacity="0.24" fill-opacity="0.13"/><circle cx="82.1" cy="285.0" r="2.17" stroke-opacity="0.34" fill-opacity="0.19"/><circle cx="101.1" cy="260.8" r="2.17" stroke-opacity="0.32" fill-opacity="0.18"/><circle cx="88.8" cy="282.5" r="2.17" stroke-opacity="0.27" fill-opacity="0.15"/><circle cx="51.2" cy="292.9" r="2.17" stroke-opacity="0.55" fill-opacity="0.30"/><circle cx="63.4" cy="281.3" r="2.17" stroke-opacity="0.27" fill-opacity="0.15"/><circle cx="92.4" cy="275.2" r="2.17" stroke-opacity="0.42" fill-opacity="0.23"/><circle cx="103.4" cy="271.2" r="2.17" stroke-opacity="0.24" fill-opacity="0.13"/><circle cx="66.9" cy="302.6" r="2.17" stroke-opacity="0.33" fill-opacity="0.18"/><circle cx="85.8" cy="272.9" r="2.17" stroke-opacity="0.37" fill-opacity="0.20"/><circle cx="68.4" cy="283.9" r="2.17" stroke-opacity="0.36" fill-opacity="0.20"/><circle cx="72.0" cy="278.0" r="2.17" stroke-opacity="0.36" fill-opacity="0.20"/><circle cx="76.1" cy="299.8" r="2.17" stroke-opacity="0.42" fill-opacity="0.23"/><circle cx="75.8" cy="277.3" r="2.17" stroke-opacity="0.20" fill-opacity="0.11"/><circle cx="46.4" cy="273.6" r="2.17" stroke-opacity="0.31" fill-opacity="0.17"/><circle cx="40.1" cy="280.4" r="2.17" stroke-opacity="0.20" fill-opacity="0.11"/><circle cx="49.2" cy="283.8" r="2.17" stroke-opacity="0.24" fill-opacity="0.13"/><circle cx="66.1" cy="303.1" r="2.17" stroke-opacity="0.19" fill-opacity="0.10"/><circle cx="55.9" cy="299.9" r="2.17" stroke-opacity="0.42" fill-opacity="0.23"/><circle cx="74.9" cy="301.9" r="2.17" stroke-opacity="0.24" fill-opacity="0.13"/><circle cx="57.1" cy="296.6" r="2.17" stroke-opacity="0.21" fill-opacity="0.12"/><circle cx="48.6" cy="281.0" r="2.17" stroke-opacity="0.53" fill-opacity="0.29"/><circle cx="49.5" cy="266.0" r="2.17" stroke-opacity="0.40" fill-opacity="0.22"/><circle cx="73.1" cy="297.9" r="2.17" stroke-opacity="0.32" fill-opacity="0.18"/><circle cx="92.9" cy="290.3" r="2.17" stroke-opacity="0.41" fill-opacity="0.23"/><circle cx="79.0" cy="303.5" r="2.17" stroke-opacity="0.42" fill-opacity="0.23"/><circle cx="54.7" cy="276.6" r="2.17" stroke-opacity="0.53" fill-opacity="0.29"/><circle cx="46.1" cy="281.8" r="2.17" stroke-opacity="0.42" fill-opacity="0.23"/><circle cx="67.1" cy="261.7" r="2.17" stroke-opacity="0.40" fill-opacity="0.22"/><circle cx="90.9" cy="287.3" r="2.17" stroke-opacity="0.50" fill-opacity="0.28"/><circle cx="88.3" cy="280.3" r="2.17" stroke-opacity="0.44" fill-opacity="0.24"/><circle cx="95.9" cy="260.5" r="2.17" stroke-opacity="0.54" fill-opacity="0.30"/><circle cx="104.7" cy="277.1" r="2.17" stroke-opacity="0.23" fill-opacity="0.13"/><circle cx="96.9" cy="294.5" r="2.17" stroke-opacity="0.23" fill-opacity="0.13"/><circle cx="93.2" cy="287.6" r="2.17" stroke-opacity="0.44" fill-opacity="0.24"/><circle cx="71.1" cy="294.2" r="2.17" stroke-opacity="0.18" fill-opacity="0.10"/><circle cx="59.1" cy="263.1" r="2.17" stroke-opacity="0.46" fill-opacity="0.25"/><circle cx="47.9" cy="291.1" r="2.17" stroke-opacity="0.27" fill-opacity="0.15"/><circle cx="57.8" cy="267.2" r="2.17" stroke-opacity="0.33" fill-opacity="0.18"/><circle cx="55.9" cy="268.7" r="2.17" stroke-opacity="0.18" fill-opacity="0.10"/><circle cx="59.2" cy="274.5" r="2.17" stroke-opacity="0.28" fill-opacity="0.15"/><circle cx="74.0" cy="300.1" r="2.17" stroke-opacity="0.18" fill-opacity="0.10"/><circle cx="44.6" cy="294.5" r="2.17" stroke-opacity="0.43" fill-opacity="0.24"/><circle cx="40.2" cy="291.5" r="2.17" stroke-opacity="0.20" fill-opacity="0.11"/><circle cx="95.4" cy="263.5" r="2.17" stroke-opacity="0.38" fill-opacity="0.21"/><circle cx="97.4" cy="267.0" r="2.17" stroke-opacity="0.54" fill-opacity="0.30"/><circle cx="64.1" cy="268.0" r="2.17" stroke-opacity="0.37" fill-opacity="0.20"/><circle cx="79.3" cy="280.5" r="2.17" stroke-opacity="0.17" fill-opacity="0.10"/><circle cx="96.0" cy="262.8" r="2.17" stroke-opacity="0.22" fill-opacity="0.12"/><circle cx="71.7" cy="271.9" r="2.17" stroke-opacity="0.33" fill-opacity="0.18"/><circle cx="85.2" cy="291.8" r="2.17" stroke-opacity="0.32" fill-opacity="0.18"/><circle cx="82.0" cy="278.4" r="2.17" stroke-opacity="0.45" fill-opacity="0.25"/><circle cx="64.3" cy="256.3" r="2.17" stroke-opacity="0.17" fill-opacity="0.09"/><circle cx="63.7" cy="267.1" r="2.17" stroke-opacity="0.24" fill-opacity="0.13"/><circle cx="53.8" cy="279.8" r="2.17" stroke-opacity="0.37" fill-opacity="0.20"/><circle cx="71.5" cy="281.6" r="2.17" stroke-opacity="0.39" fill-opacity="0.22"/><circle cx="53.2" cy="262.2" r="2.17" stroke-opacity="0.49" fill-opacity="0.27"/><circle cx="44.7" cy="279.7" r="2.17" stroke-opacity="0.34" fill-opacity="0.19"/><circle cx="71.7" cy="301.4" r="2.17" stroke-opacity="0.47" fill-opacity="0.26"/><circle cx="89.5" cy="298.6" r="2.17" stroke-opacity="0.43" fill-opacity="0.24"/><circle cx="49.7" cy="276.4" r="2.17" stroke-opacity="0.32" fill-opacity="0.18"/><circle cx="47.4" cy="288.5" r="2.17" stroke-opacity="0.45" fill-opacity="0.25"/><circle cx="41.7" cy="279.6" r="2.17" stroke-opacity="0.41" fill-opacity="0.23"/><circle cx="53.9" cy="298.4" r="2.17" stroke-opacity="0.52" fill-opacity="0.29"/><circle cx="106.1" cy="281.9" r="2.17" stroke-opacity="0.38" fill-opacity="0.21"/><circle cx="75.7" cy="302.2" r="2.17" stroke-opacity="0.39" fill-opacity="0.21"/><circle cx="85.3" cy="288.9" r="2.17" stroke-opacity="0.27" fill-opacity="0.15"/><circle cx="68.3" cy="266.9" r="2.17" stroke-opacity="0.19" fill-opacity="0.11"/><circle cx="83.1" cy="296.8" r="2.17" stroke-opacity="0.40" fill-opacity="0.22"/><circle cx="58.1" cy="280.6" r="2.17" stroke-opacity="0.26" fill-opacity="0.15"/><circle cx="100.7" cy="263.4" r="2.17" stroke-opacity="0.50" fill-opacity="0.28"/><circle cx="70.5" cy="299.7" r="2.17" stroke-opacity="0.38" fill-opacity="0.21"/><circle cx="99.2" cy="265.7" r="2.17" stroke-opacity="0.23" fill-opacity="0.12"/><circle cx="98.2" cy="287.1" r="2.17" stroke-opacity="0.52" fill-opacity="0.29"/><circle cx="59.8" cy="283.2" r="2.17" stroke-opacity="0.45" fill-opacity="0.25"/><circle cx="92.9" cy="295.4" r="2.17" stroke-opacity="0.38" fill-opacity="0.21"/><circle cx="82.8" cy="273.0" r="2.17" stroke-opacity="0.55" fill-opacity="0.30"/><circle cx="62.6" cy="302.5" r="2.17" stroke-opacity="0.17" fill-opacity="0.10"/><circle cx="96.5" cy="265.7" r="2.17" stroke-opacity="0.36" fill-opacity="0.20"/><circle cx="86.2" cy="282.8" r="2.17" stroke-opacity="0.16" fill-opacity="0.09"/><circle cx="83.5" cy="286.5" r="2.17" stroke-opacity="0.26" fill-opacity="0.14"/><circle cx="102.7" cy="288.7" r="2.17" stroke-opacity="0.32" fill-opacity="0.18"/><circle cx="100.9" cy="268.2" r="2.17" stroke-opacity="0.49" fill-opacity="0.27"/><circle cx="68.1" cy="295.9" r="2.17" stroke-opacity="0.38" fill-opacity="0.21"/><circle cx="87.7" cy="277.6" r="2.17" stroke-opacity="0.50" fill-opacity="0.27"/><circle cx="53.8" cy="291.1" r="2.17" stroke-opacity="0.24" fill-opacity="0.13"/><circle cx="90.0" cy="283.2" r="2.17" stroke-opacity="0.26" fill-opacity="0.14"/><circle cx="99.0" cy="284.3" r="2.17" stroke-opacity="0.23" fill-opacity="0.12"/><circle cx="64.9" cy="292.4" r="2.17" stroke-opacity="0.41" fill-opacity="0.23"/><circle cx="63.9" cy="298.4" r="2.17" stroke-opacity="0.34" fill-opacity="0.19"/><circle cx="74.6" cy="298.8" r="2.17" stroke-opacity="0.34" fill-opacity="0.19"/><circle cx="101.0" cy="261.6" r="2.17" stroke-opacity="0.29" fill-opacity="0.16"/><circle cx="102.7" cy="280.0" r="2.17" stroke-opacity="0.25" fill-opacity="0.14"/><circle cx="62.9" cy="290.1" r="2.17" stroke-opacity="0.28" fill-opacity="0.15"/><circle cx="56.7" cy="276.7" r="2.17" stroke-opacity="0.37" fill-opacity="0.20"/><circle cx="60.5" cy="279.0" r="2.17" stroke-opacity="0.38" fill-opacity="0.21"/><circle cx="102.2" cy="280.5" r="2.17" stroke-opacity="0.19" fill-opacity="0.11"/><circle cx="65.2" cy="286.1" r="2.17" stroke-opacity="0.44" fill-opacity="0.24"/><circle cx="56.6" cy="288.6" r="2.17" stroke-opacity="0.15" fill-opacity="0.08"/><circle cx="50.9" cy="291.0" r="2.17" stroke-opacity="0.23" fill-opacity="0.13"/><circle cx="72.9" cy="269.2" r="2.17" stroke-opacity="0.45" fill-opacity="0.25"/><circle cx="93.6" cy="274.1" r="2.17" stroke-opacity="0.43" fill-opacity="0.24"/><circle cx="54.5" cy="270.9" r="2.17" stroke-opacity="0.25" fill-opacity="0.14"/><circle cx="62.4" cy="259.7" r="2.17" stroke-opacity="0.31" fill-opacity="0.17"/><circle cx="81.3" cy="282.2" r="2.17" stroke-opacity="0.43" fill-opacity="0.24"/><circle cx="89.7" cy="266.0" r="2.17" stroke-opacity="0.49" fill-opacity="0.27"/><circle cx="51.3" cy="296.5" r="2.17" stroke-opacity="0.39" fill-opacity="0.21"/><circle cx="59.9" cy="261.9" r="2.17" stroke-opacity="0.48" fill-opacity="0.26"/><circle cx="53.7" cy="275.8" r="2.17" stroke-opacity="0.39" fill-opacity="0.21"/><circle cx="105.8" cy="270.0" r="2.17" stroke-opacity="0.40" fill-opacity="0.22"/><circle cx="88.8" cy="268.7" r="2.17" stroke-opacity="0.22" fill-opacity="0.12"/><circle cx="100.5" cy="275.9" r="2.17" stroke-opacity="0.49" fill-opacity="0.27"/><circle cx="78.9" cy="303.3" r="2.17" stroke-opacity="0.41" fill-opacity="0.23"/><circle cx="69.7" cy="303.2" r="2.17" stroke-opacity="0.40" fill-opacity="0.22"/><circle cx="104.3" cy="264.4" r="2.17" stroke-opacity="0.37" fill-opacity="0.20"/><circle cx="89.6" cy="284.8" r="2.17" stroke-opacity="0.25" fill-opacity="0.14"/><circle cx="83.3" cy="280.0" r="2.17" stroke-opacity="0.42" fill-opacity="0.23"/><circle cx="91.0" cy="289.3" r="2.17" stroke-opacity="0.21" fill-opacity="0.12"/><circle cx="70.0" cy="263.7" r="2.17" stroke-opacity="0.38" fill-opacity="0.21"/><circle cx="58.4" cy="253.4" r="2.17" stroke-opacity="0.35" fill-opacity="0.19"/><circle cx="41.8" cy="292.2" r="2.17" stroke-opacity="0.18" fill-opacity="0.10"/><circle cx="82.2" cy="294.4" r="2.17" stroke-opacity="0.52" fill-opacity="0.29"/><circle cx="90.2" cy="297.2" r="2.17" stroke-opacity="0.37" fill-opacity="0.21"/><circle cx="49.8" cy="267.5" r="2.17" stroke-opacity="0.25" fill-opacity="0.14"/><circle cx="62.4" cy="283.3" r="2.17" stroke-opacity="0.47" fill-opacity="0.26"/><circle cx="76.3" cy="288.3" r="2.17" stroke-opacity="0.25" fill-opacity="0.14"/><circle cx="91.7" cy="284.7" r="2.17" stroke-opacity="0.16" fill-opacity="0.09"/><circle cx="88.8" cy="296.7" r="2.17" stroke-opacity="0.21" fill-opacity="0.11"/><circle cx="80.6" cy="278.7" r="2.17" stroke-opacity="0.42" fill-opacity="0.23"/><circle cx="46.9" cy="271.7" r="2.17" stroke-opacity="0.19" fill-opacity="0.10"/><circle cx="97.7" cy="276.7" r="2.17" stroke-opacity="0.18" fill-opacity="0.10"/><circle cx="66.6" cy="267.4" r="2.17" stroke-opacity="0.29" fill-opacity="0.16"/><circle cx="68.5" cy="286.7" r="2.17" stroke-opacity="0.47" fill-opacity="0.26"/><circle cx="60.2" cy="255.3" r="2.17" stroke-opacity="0.37" fill-opacity="0.21"/><circle cx="86.5" cy="279.1" r="2.17" stroke-opacity="0.43" fill-opacity="0.24"/><circle cx="100.5" cy="291.0" r="2.17" stroke-opacity="0.26" fill-opacity="0.15"/><circle cx="98.0" cy="261.2" r="2.17" stroke-opacity="0.49" fill-opacity="0.27"/><circle cx="91.3" cy="294.0" r="2.17" stroke-opacity="0.29" fill-opacity="0.16"/><circle cx="78.2" cy="284.4" r="2.17" stroke-opacity="0.28" fill-opacity="0.15"/><circle cx="107.6" cy="277.9" r="2.17" stroke-opacity="0.16" fill-opacity="0.09"/><circle cx="59.7" cy="282.8" r="2.17" stroke-opacity="0.41" fill-opacity="0.23"/><circle cx="95.9" cy="290.1" r="2.17" stroke-opacity="0.33" fill-opacity="0.18"/><circle cx="50.0" cy="276.4" r="2.17" stroke-opacity="0.42" fill-opacity="0.23"/><circle cx="58.3" cy="266.6" r="2.17" stroke-opacity="0.18" fill-opacity="0.10"/><circle cx="70.9" cy="273.1" r="2.17" stroke-opacity="0.16" fill-opacity="0.09"/><circle cx="75.6" cy="289.7" r="2.17" stroke-opacity="0.46" fill-opacity="0.25"/><circle cx="69.5" cy="278.9" r="2.17" stroke-opacity="0.49" fill-opacity="0.27"/><circle cx="72.1" cy="292.7" r="2.17" stroke-opacity="0.17" fill-opacity="0.09"/><circle cx="81.2" cy="278.2" r="2.17" stroke-opacity="0.23" fill-opacity="0.12"/><circle cx="62.0" cy="285.3" r="2.17" stroke-opacity="0.16" fill-opacity="0.09"/><circle cx="53.2" cy="284.9" r="2.17" stroke-opacity="0.36" fill-opacity="0.20"/><circle cx="79.7" cy="281.2" r="2.17" stroke-opacity="0.34" fill-opacity="0.19"/><circle cx="105.5" cy="274.3" r="2.17" stroke-opacity="0.47" fill-opacity="0.26"/><circle cx="97.0" cy="266.7" r="2.17" stroke-opacity="0.30" fill-opacity="0.16"/><circle cx="98.6" cy="274.3" r="2.17" stroke-opacity="0.40" fill-opacity="0.22"/><circle cx="62.8" cy="302.9" r="2.17" stroke-opacity="0.52" fill-opacity="0.29"/><circle cx="97.9" cy="268.8" r="2.17" stroke-opacity="0.45" fill-opacity="0.25"/><circle cx="58.1" cy="268.1" r="2.17" stroke-opacity="0.23" fill-opacity="0.12"/><circle cx="61.5" cy="257.7" r="2.17" stroke-opacity="0.55" fill-opacity="0.30"/><circle cx="84.0" cy="282.6" r="2.17" stroke-opacity="0.15" fill-opacity="0.08"/><circle cx="87.0" cy="288.3" r="2.17" stroke-opacity="0.28" fill-opacity="0.15"/><circle cx="40.5" cy="280.4" r="2.17" stroke-opacity="0.21" fill-opacity="0.12"/><circle cx="65.8" cy="271.7" r="2.17" stroke-opacity="0.40" fill-opacity="0.22"/><circle cx="61.6" cy="272.8" r="2.17" stroke-opacity="0.54" fill-opacity="0.30"/><circle cx="97.0" cy="261.1" r="2.17" stroke-opacity="0.44" fill-opacity="0.24"/><circle cx="86.5" cy="275.2" r="2.17" stroke-opacity="0.47" fill-opacity="0.26"/><circle cx="82.9" cy="270.8" r="2.17" stroke-opacity="0.34" fill-opacity="0.19"/><circle cx="100.1" cy="287.1" r="2.17" stroke-opacity="0.24" fill-opacity="0.13"/><circle cx="90.8" cy="265.5" r="2.17" stroke-opacity="0.24" fill-opacity="0.13"/><circle cx="91.3" cy="268.3" r="2.17" stroke-opacity="0.35" fill-opacity="0.19"/><circle cx="58.9" cy="256.1" r="2.17" stroke-opacity="0.42" fill-opacity="0.23"/><circle cx="51.5" cy="294.5" r="2.17" stroke-opacity="0.16" fill-opacity="0.09"/><circle cx="62.3" cy="267.4" r="2.17" stroke-opacity="0.37" fill-opacity="0.20"/><circle cx="64.0" cy="254.8" r="2.17" stroke-opacity="0.23" fill-opacity="0.12"/><circle cx="89.3" cy="279.6" r="2.17" stroke-opacity="0.47" fill-opacity="0.26"/><circle cx="66.4" cy="278.2" r="2.17" stroke-opacity="0.36" fill-opacity="0.20"/><circle cx="90.8" cy="273.7" r="2.17" stroke-opacity="0.39" fill-opacity="0.22"/><circle cx="100.5" cy="279.2" r="2.17" stroke-opacity="0.29" fill-opacity="0.16"/><circle cx="70.3" cy="264.3" r="2.17" stroke-opacity="0.27" fill-opacity="0.15"/><circle cx="61.7" cy="259.4" r="2.17" stroke-opacity="0.52" fill-opacity="0.29"/><circle cx="95.9" cy="288.6" r="2.17" stroke-opacity="0.45" fill-opacity="0.25"/><circle cx="87.1" cy="274.9" r="2.17" stroke-opacity="0.51" fill-opacity="0.28"/><circle cx="54.6" cy="258.7" r="2.17" stroke-opacity="0.45" fill-opacity="0.25"/><circle cx="82.6" cy="272.7" r="2.17" stroke-opacity="0.41" fill-opacity="0.23"/><circle cx="40.2" cy="286.3" r="2.17" stroke-opacity="0.22" fill-opacity="0.12"/><circle cx="65.1" cy="269.6" r="2.17" stroke-opacity="0.50" fill-opacity="0.27"/><circle cx="81.5" cy="293.2" r="2.17" stroke-opacity="0.15" fill-opacity="0.08"/><circle cx="84.2" cy="278.1" r="2.17" stroke-opacity="0.46" fill-opacity="0.25"/><circle cx="68.0" cy="260.8" r="2.17" stroke-opacity="0.38" fill-opacity="0.21"/><circle cx="76.6" cy="292.5" r="2.17" stroke-opacity="0.50" fill-opacity="0.28"/><circle cx="60.2" cy="283.4" r="2.17" stroke-opacity="0.30" fill-opacity="0.16"/><circle cx="61.6" cy="279.6" r="2.17" stroke-opacity="0.50" fill-opacity="0.28"/><circle cx="65.5" cy="262.0" r="2.17" stroke-opacity="0.15" fill-opacity="0.09"/><circle cx="41.7" cy="279.0" r="2.17" stroke-opacity="0.50" fill-opacity="0.27"/><circle cx="72.4" cy="287.5" r="2.17" stroke-opacity="0.54" fill-opacity="0.30"/><circle cx="60.8" cy="261.7" r="2.17" stroke-opacity="0.27" fill-opacity="0.15"/><circle cx="97.9" cy="271.2" r="2.17" stroke-opacity="0.29" fill-opacity="0.16"/><circle cx="85.9" cy="299.7" r="2.17" stroke-opacity="0.44" fill-opacity="0.24"/><circle cx="63.6" cy="272.4" r="2.17" stroke-opacity="0.30" fill-opacity="0.17"/><circle cx="62.4" cy="273.7" r="2.17" stroke-opacity="0.23" fill-opacity="0.13"/><circle cx="63.0" cy="279.1" r="2.17" stroke-opacity="0.20" fill-opacity="0.11"/><circle cx="60.5" cy="269.6" r="2.17" stroke-opacity="0.45" fill-opacity="0.25"/><circle cx="77.0" cy="288.2" r="2.17" stroke-opacity="0.34" fill-opacity="0.19"/><circle cx="94.5" cy="281.4" r="2.17" stroke-opacity="0.25" fill-opacity="0.14"/><circle cx="98.7" cy="289.9" r="2.17" stroke-opacity="0.54" fill-opacity="0.30"/><circle cx="59.5" cy="277.7" r="2.17" stroke-opacity="0.17" fill-opacity="0.09"/><circle cx="52.6" cy="282.6" r="2.17" stroke-opacity="0.55" fill-opacity="0.30"/><circle cx="42.1" cy="277.7" r="2.17" stroke-opacity="0.16" fill-opacity="0.09"/><circle cx="54.4" cy="268.6" r="2.17" stroke-opacity="0.26" fill-opacity="0.14"/><circle cx="90.7" cy="266.6" r="2.17" stroke-opacity="0.42" fill-opacity="0.23"/><circle cx="105.1" cy="269.8" r="2.17" stroke-opacity="0.29" fill-opacity="0.16"/><circle cx="90.5" cy="266.6" r="2.17" stroke-opacity="0.16" fill-opacity="0.09"/><circle cx="73.6" cy="279.7" r="2.17" stroke-opacity="0.50" fill-opacity="0.28"/><circle cx="57.4" cy="274.5" r="2.17" stroke-opacity="0.36" fill-opacity="0.20"/><circle cx="84.9" cy="279.0" r="2.17" stroke-opacity="0.21" fill-opacity="0.12"/><circle cx="74.2" cy="290.1" r="2.17" stroke-opacity="0.22" fill-opacity="0.12"/><circle cx="52.0" cy="293.2" r="2.17" stroke-opacity="0.29" fill-opacity="0.16"/><circle cx="69.7" cy="260.2" r="2.17" stroke-opacity="0.37" fill-opacity="0.20"/><circle cx="57.3" cy="283.3" r="2.17" stroke-opacity="0.41" fill-opacity="0.23"/><circle cx="80.4" cy="295.0" r="2.17" stroke-opacity="0.35" fill-opacity="0.19"/><circle cx="79.7" cy="291.5" r="2.17" stroke-opacity="0.32" fill-opacity="0.17"/><circle cx="46.8" cy="285.4" r="2.17" stroke-opacity="0.48" fill-opacity="0.26"/><circle cx="73.6" cy="269.2" r="2.17" stroke-opacity="0.32" fill-opacity="0.18"/><circle cx="70.2" cy="295.4" r="2.17" stroke-opacity="0.51" fill-opacity="0.28"/><circle cx="62.6" cy="275.0" r="2.17" stroke-opacity="0.24" fill-opacity="0.13"/><circle cx="107.8" cy="277.3" r="2.17" stroke-opacity="0.22" fill-opacity="0.12"/><circle cx="50.2" cy="284.8" r="2.17" stroke-opacity="0.52" fill-opacity="0.29"/><circle cx="86.4" cy="285.9" r="2.17" stroke-opacity="0.21" fill-opacity="0.11"/><circle cx="84.9" cy="278.6" r="2.17" stroke-opacity="0.55" fill-opacity="0.30"/><circle cx="88.4" cy="277.7" r="2.17" stroke-opacity="0.22" fill-opacity="0.12"/><circle cx="55.9" cy="275.3" r="2.17" stroke-opacity="0.18" fill-opacity="0.10"/><circle cx="57.0" cy="296.6" r="2.17" stroke-opacity="0.35" fill-opacity="0.19"/><circle cx="55.6" cy="280.3" r="2.17" stroke-opacity="0.49" fill-opacity="0.27"/><circle cx="59.8" cy="282.6" r="2.17" stroke-opacity="0.37" fill-opacity="0.20"/><circle cx="93.6" cy="265.1" r="2.17" stroke-opacity="0.51" fill-opacity="0.28"/><circle cx="55.7" cy="261.6" r="2.17" stroke-opacity="0.27" fill-opacity="0.15"/><circle cx="104.6" cy="285.5" r="2.17" stroke-opacity="0.44" fill-opacity="0.24"/><circle cx="95.2" cy="280.6" r="2.17" stroke-opacity="0.41" fill-opacity="0.22"/><circle cx="85.5" cy="299.7" r="2.17" stroke-opacity="0.18" fill-opacity="0.10"/><circle cx="56.7" cy="275.0" r="2.17" stroke-opacity="0.34" fill-opacity="0.19"/><circle cx="75.1" cy="279.6" r="2.17" stroke-opacity="0.51" fill-opacity="0.28"/><circle cx="43.3" cy="287.8" r="2.17" stroke-opacity="0.29" fill-opacity="0.16"/><circle cx="50.1" cy="291.4" r="2.17" stroke-opacity="0.30" fill-opacity="0.17"/><circle cx="98.6" cy="288.0" r="2.17" stroke-opacity="0.39" fill-opacity="0.21"/><circle cx="77.5" cy="273.5" r="2.17" stroke-opacity="0.18" fill-opacity="0.10"/><circle cx="80.9" cy="301.9" r="2.17" stroke-opacity="0.16" fill-opacity="0.09"/><circle cx="47.8" cy="286.4" r="2.17" stroke-opacity="0.41" fill-opacity="0.23"/><circle cx="98.7" cy="274.7" r="2.17" stroke-opacity="0.51" fill-opacity="0.28"/><circle cx="81.5" cy="283.2" r="2.17" stroke-opacity="0.20" fill-opacity="0.11"/><circle cx="70.7" cy="266.1" r="2.17" stroke-opacity="0.42" fill-opacity="0.23"/><circle cx="92.1" cy="283.8" r="2.17" stroke-opacity="0.17" fill-opacity="0.09"/><circle cx="105.5" cy="265.4" r="2.17" stroke-opacity="0.43" fill-opacity="0.24"/><circle cx="47.4" cy="292.5" r="2.17" stroke-opacity="0.35" fill-opacity="0.20"/><circle cx="60.8" cy="292.2" r="2.17" stroke-opacity="0.36" fill-opacity="0.20"/><circle cx="70.6" cy="302.7" r="2.17" stroke-opacity="0.37" fill-opacity="0.20"/><circle cx="61.1" cy="290.2" r="2.17" stroke-opacity="0.28" fill-opacity="0.15"/><circle cx="73.7" cy="284.7" r="2.17" stroke-opacity="0.38" fill-opacity="0.21"/><circle cx="103.0" cy="282.2" r="2.17" stroke-opacity="0.50" fill-opacity="0.28"/><circle cx="45.0" cy="289.3" r="2.17" stroke-opacity="0.26" fill-opacity="0.14"/><circle cx="53.7" cy="266.2" r="2.17" stroke-opacity="0.38" fill-opacity="0.21"/><circle cx="44.8" cy="270.3" r="2.17" stroke-opacity="0.42" fill-opacity="0.23"/><circle cx="75.4" cy="291.2" r="2.17" stroke-opacity="0.22" fill-opacity="0.12"/><circle cx="84.6" cy="272.0" r="2.17" stroke-opacity="0.48" fill-opacity="0.27"/><circle cx="90.3" cy="265.4" r="2.17" stroke-opacity="0.22" fill-opacity="0.12"/><circle cx="101.1" cy="284.3" r="2.17" stroke-opacity="0.36" fill-opacity="0.20"/><circle cx="39.2" cy="286.1" r="2.17" stroke-opacity="0.34" fill-opacity="0.19"/><circle cx="81.6" cy="272.6" r="2.17" stroke-opacity="0.39" fill-opacity="0.22"/><circle cx="99.8" cy="271.7" r="2.17" stroke-opacity="0.18" fill-opacity="0.10"/><circle cx="82.7" cy="275.1" r="2.17" stroke-opacity="0.55" fill-opacity="0.30"/><circle cx="78.8" cy="285.3" r="2.17" stroke-opacity="0.37" fill-opacity="0.20"/><circle cx="108.2" cy="273.0" r="2.17" stroke-opacity="0.51" fill-opacity="0.28"/><circle cx="54.8" cy="271.0" r="2.17" stroke-opacity="0.41" fill-opacity="0.22"/><circle cx="54.0" cy="261.6" r="2.17" stroke-opacity="0.36" fill-opacity="0.20"/><circle cx="97.6" cy="288.3" r="2.17" stroke-opacity="0.34" fill-opacity="0.19"/><circle cx="103.7" cy="282.7" r="2.17" stroke-opacity="0.52" fill-opacity="0.29"/><circle cx="100.8" cy="270.5" r="2.17" stroke-opacity="0.21" fill-opacity="0.12"/><circle cx="74.1" cy="294.6" r="2.17" stroke-opacity="0.50" fill-opacity="0.28"/><circle cx="66.7" cy="291.2" r="2.17" stroke-opacity="0.48" fill-opacity="0.27"/><circle cx="96.0" cy="266.6" r="2.17" stroke-opacity="0.29" fill-opacity="0.16"/><circle cx="103.7" cy="287.2" r="2.17" stroke-opacity="0.24" fill-opacity="0.13"/><circle cx="100.2" cy="276.3" r="2.17" stroke-opacity="0.28" fill-opacity="0.15"/><circle cx="40.4" cy="286.3" r="2.17" stroke-opacity="0.16" fill-opacity="0.09"/><circle cx="40.6" cy="280.0" r="2.17" stroke-opacity="0.25" fill-opacity="0.14"/><circle cx="86.5" cy="284.4" r="2.17" stroke-opacity="0.36" fill-opacity="0.20"/><circle cx="87.5" cy="282.2" r="2.17" stroke-opacity="0.35" fill-opacity="0.19"/><circle cx="51.0" cy="295.9" r="2.17" stroke-opacity="0.41" fill-opacity="0.23"/><circle cx="62.0" cy="273.3" r="2.17" stroke-opacity="0.48" fill-opacity="0.26"/><circle cx="87.8" cy="286.1" r="2.17" stroke-opacity="0.36" fill-opacity="0.20"/><circle cx="52.5" cy="278.6" r="2.17" stroke-opacity="0.22" fill-opacity="0.12"/><circle cx="47.4" cy="291.4" r="2.17" stroke-opacity="0.36" fill-opacity="0.20"/><circle cx="79.7" cy="279.7" r="2.17" stroke-opacity="0.24" fill-opacity="0.13"/><circle cx="52.4" cy="266.6" r="2.17" stroke-opacity="0.26" fill-opacity="0.14"/><circle cx="87.6" cy="294.4" r="2.17" stroke-opacity="0.50" fill-opacity="0.28"/><circle cx="60.5" cy="294.4" r="2.17" stroke-opacity="0.53" fill-opacity="0.29"/><circle cx="72.3" cy="276.2" r="2.17" stroke-opacity="0.35" fill-opacity="0.19"/><circle cx="94.0" cy="264.1" r="2.17" stroke-opacity="0.33" fill-opacity="0.18"/><circle cx="98.6" cy="273.0" r="2.17" stroke-opacity="0.30" fill-opacity="0.17"/><circle cx="61.7" cy="296.7" r="2.17" stroke-opacity="0.46" fill-opacity="0.25"/><circle cx="103.9" cy="263.3" r="2.17" stroke-opacity="0.43" fill-opacity="0.24"/><circle cx="97.9" cy="288.4" r="2.17" stroke-opacity="0.27" fill-opacity="0.15"/><circle cx="61.3" cy="276.5" r="2.17" stroke-opacity="0.50" fill-opacity="0.28"/><circle cx="63.8" cy="258.7" r="2.17" stroke-opacity="0.27" fill-opacity="0.15"/><circle cx="44.5" cy="270.9" r="2.17" stroke-opacity="0.21" fill-opacity="0.12"/><circle cx="107.5" cy="276.5" r="2.17" stroke-opacity="0.34" fill-opacity="0.19"/><circle cx="95.7" cy="270.9" r="2.17" stroke-opacity="0.49" fill-opacity="0.27"/><circle cx="105.5" cy="275.0" r="2.17" stroke-opacity="0.41" fill-opacity="0.23"/><circle cx="89.2" cy="277.2" r="2.17" stroke-opacity="0.36" fill-opacity="0.20"/><circle cx="86.5" cy="282.0" r="2.17" stroke-opacity="0.32" fill-opacity="0.18"/><circle cx="73.7" cy="284.3" r="2.17" stroke-opacity="0.17" fill-opacity="0.09"/><circle cx="70.7" cy="291.2" r="2.17" stroke-opacity="0.39" fill-opacity="0.21"/><circle cx="60.7" cy="258.5" r="2.17" stroke-opacity="0.48" fill-opacity="0.27"/><circle cx="62.5" cy="273.6" r="2.17" stroke-opacity="0.43" fill-opacity="0.24"/><circle cx="39.2" cy="291.1" r="2.17" stroke-opacity="0.37" fill-opacity="0.20"/><circle cx="70.6" cy="294.5" r="2.17" stroke-opacity="0.20" fill-opacity="0.11"/><circle cx="59.6" cy="265.2" r="2.17" stroke-opacity="0.16" fill-opacity="0.09"/><circle cx="102.9" cy="284.1" r="2.17" stroke-opacity="0.16" fill-opacity="0.09"/><circle cx="80.7" cy="298.9" r="2.17" stroke-opacity="0.34" fill-opacity="0.19"/><circle cx="43.9" cy="286.6" r="2.17" stroke-opacity="0.31" fill-opacity="0.17"/><circle cx="89.9" cy="296.3" r="2.17" stroke-opacity="0.46" fill-opacity="0.25"/><circle cx="97.6" cy="282.0" r="2.17" stroke-opacity="0.38" fill-opacity="0.21"/><circle cx="93.4" cy="291.5" r="2.17" stroke-opacity="0.43" fill-opacity="0.24"/><circle cx="57.0" cy="294.6" r="2.17" stroke-opacity="0.54" fill-opacity="0.30"/><circle cx="56.1" cy="258.6" r="2.17" stroke-opacity="0.54" fill-opacity="0.30"/><circle cx="92.4" cy="286.7" r="2.17" stroke-opacity="0.20" fill-opacity="0.11"/><circle cx="92.2" cy="282.1" r="2.17" stroke-opacity="0.26" fill-opacity="0.14"/><circle cx="83.1" cy="276.2" r="2.17" stroke-opacity="0.54" fill-opacity="0.30"/><circle cx="99.8" cy="265.3" r="2.17" stroke-opacity="0.37" fill-opacity="0.20"/><circle cx="54.1" cy="299.0" r="2.17" stroke-opacity="0.23" fill-opacity="0.13"/><circle cx="59.0" cy="271.4" r="2.17" stroke-opacity="0.28" fill-opacity="0.15"/><circle cx="65.3" cy="294.7" r="2.17" stroke-opacity="0.20" fill-opacity="0.11"/><circle cx="105.9" cy="270.5" r="2.17" stroke-opacity="0.19" fill-opacity="0.11"/><circle cx="60.1" cy="292.8" r="2.17" stroke-opacity="0.28" fill-opacity="0.16"/><circle cx="99.2" cy="292.4" r="2.17" stroke-opacity="0.41" fill-opacity="0.23"/><circle cx="75.1" cy="281.8" r="2.17" stroke-opacity="0.35" fill-opacity="0.19"/><circle cx="95.4" cy="260.7" r="2.17" stroke-opacity="0.20" fill-opacity="0.11"/><circle cx="74.0" cy="279.2" r="2.17" stroke-opacity="0.53" fill-opacity="0.29"/><circle cx="83.1" cy="297.7" r="2.17" stroke-opacity="0.51" fill-opacity="0.28"/><circle cx="97.4" cy="273.7" r="2.17" stroke-opacity="0.61" fill-opacity="0.33"/><circle cx="74.6" cy="292.2" r="2.17" stroke-opacity="0.34" fill-opacity="0.19"/><circle cx="65.8" cy="286.1" r="2.17" stroke-opacity="0.58" fill-opacity="0.32"/><circle cx="91.4" cy="277.3" r="2.17" stroke-opacity="0.37" fill-opacity="0.20"/><circle cx="63.8" cy="278.6" r="2.17" stroke-opacity="0.44" fill-opacity="0.24"/><circle cx="72.1" cy="289.6" r="2.17" stroke-opacity="0.64" fill-opacity="0.35"/><circle cx="86.6" cy="274.5" r="2.17" stroke-opacity="0.39" fill-opacity="0.22"/><circle cx="83.0" cy="279.5" r="2.17" stroke-opacity="0.49" fill-opacity="0.27"/><circle cx="95.6" cy="266.8" r="2.17" stroke-opacity="0.56" fill-opacity="0.31"/><circle cx="80.5" cy="284.0" r="2.17" stroke-opacity="0.59" fill-opacity="0.32"/><circle cx="80.8" cy="290.2" r="2.17" stroke-opacity="0.48" fill-opacity="0.26"/><circle cx="62.1" cy="283.1" r="2.17" stroke-opacity="0.64" fill-opacity="0.35"/><circle cx="62.3" cy="278.5" r="2.17" stroke-opacity="0.64" fill-opacity="0.35"/><circle cx="73.0" cy="279.0" r="2.17" stroke-opacity="0.61" fill-opacity="0.33"/><circle cx="54.7" cy="272.6" r="2.17" stroke-opacity="0.30" fill-opacity="0.17"/><circle cx="86.9" cy="294.0" r="2.17" stroke-opacity="0.41" fill-opacity="0.22"/><circle cx="95.1" cy="268.2" r="2.17" stroke-opacity="0.40" fill-opacity="0.22"/><circle cx="95.8" cy="283.1" r="2.17" stroke-opacity="0.70" fill-opacity="0.38"/><circle cx="81.1" cy="298.7" r="2.17" stroke-opacity="0.67" fill-opacity="0.37"/><circle cx="87.1" cy="285.8" r="2.17" stroke-opacity="0.58" fill-opacity="0.32"/><circle cx="85.7" cy="288.3" r="2.17" stroke-opacity="0.42" fill-opacity="0.23"/><circle cx="50.7" cy="274.8" r="2.17" stroke-opacity="0.39" fill-opacity="0.22"/><circle cx="81.3" cy="282.4" r="2.17" stroke-opacity="0.51" fill-opacity="0.28"/><circle cx="62.1" cy="267.0" r="2.17" stroke-opacity="0.37" fill-opacity="0.20"/><circle cx="99.7" cy="268.3" r="2.17" stroke-opacity="0.49" fill-opacity="0.27"/><circle cx="51.9" cy="283.2" r="2.17" stroke-opacity="0.66" fill-opacity="0.36"/><circle cx="93.3" cy="278.0" r="2.17" stroke-opacity="0.61" fill-opacity="0.34"/><circle cx="57.4" cy="281.8" r="2.17" stroke-opacity="0.66" fill-opacity="0.36"/><circle cx="80.2" cy="281.0" r="2.17" stroke-opacity="0.53" fill-opacity="0.29"/><circle cx="61.0" cy="287.3" r="2.17" stroke-opacity="0.37" fill-opacity="0.20"/><circle cx="49.6" cy="271.9" r="2.17" stroke-opacity="0.50" fill-opacity="0.27"/><circle cx="93.0" cy="268.4" r="2.17" stroke-opacity="0.52" fill-opacity="0.28"/><circle cx="61.4" cy="298.0" r="2.17" stroke-opacity="0.48" fill-opacity="0.26"/><circle cx="74.6" cy="289.0" r="2.17" stroke-opacity="0.39" fill-opacity="0.21"/><circle cx="60.1" cy="265.0" r="2.17" stroke-opacity="0.41" fill-opacity="0.23"/><circle cx="94.6" cy="286.3" r="2.17" stroke-opacity="0.61" fill-opacity="0.34"/><circle cx="91.1" cy="290.2" r="2.17" stroke-opacity="0.65" fill-opacity="0.36"/><circle cx="45.6" cy="285.4" r="2.17" stroke-opacity="0.59" fill-opacity="0.32"/><circle cx="69.3" cy="288.8" r="2.17" stroke-opacity="0.46" fill-opacity="0.25"/><circle cx="96.4" cy="282.8" r="2.17" stroke-opacity="0.66" fill-opacity="0.36"/><circle cx="51.4" cy="287.2" r="2.17" stroke-opacity="0.57" fill-opacity="0.32"/><circle cx="76.6" cy="277.5" r="2.17" stroke-opacity="0.60" fill-opacity="0.33"/><circle cx="85.3" cy="281.6" r="2.17" stroke-opacity="0.63" fill-opacity="0.35"/><circle cx="52.5" cy="267.2" r="2.17" stroke-opacity="0.63" fill-opacity="0.34"/><circle cx="77.3" cy="292.2" r="2.17" stroke-opacity="0.59" fill-opacity="0.32"/><circle cx="84.7" cy="294.9" r="2.17" stroke-opacity="0.50" fill-opacity="0.27"/><circle cx="62.5" cy="289.9" r="2.17" stroke-opacity="0.36" fill-opacity="0.20"/><circle cx="88.3" cy="280.6" r="2.17" stroke-opacity="0.63" fill-opacity="0.34"/><circle cx="90.6" cy="288.7" r="2.17" stroke-opacity="0.45" fill-opacity="0.25"/><circle cx="52.1" cy="286.2" r="2.17" stroke-opacity="0.49" fill-opacity="0.27"/><circle cx="88.2" cy="293.8" r="2.17" stroke-opacity="0.69" fill-opacity="0.38"/><circle cx="94.3" cy="286.8" r="2.17" stroke-opacity="0.40" fill-opacity="0.22"/><circle cx="58.6" cy="266.6" r="2.17" stroke-opacity="0.41" fill-opacity="0.23"/><circle cx="49.1" cy="284.3" r="2.17" stroke-opacity="0.60" fill-opacity="0.33"/><circle cx="47.1" cy="274.2" r="2.17" stroke-opacity="0.63" fill-opacity="0.35"/><circle cx="99.1" cy="268.0" r="2.17" stroke-opacity="0.49" fill-opacity="0.27"/><circle cx="47.7" cy="273.8" r="2.17" stroke-opacity="0.49" fill-opacity="0.27"/><circle cx="81.8" cy="285.8" r="2.17" stroke-opacity="0.66" fill-opacity="0.36"/><circle cx="64.7" cy="276.8" r="2.17" stroke-opacity="0.58" fill-opacity="0.32"/><circle cx="71.6" cy="282.1" r="2.17" stroke-opacity="0.53" fill-opacity="0.29"/><circle cx="75.6" cy="296.2" r="2.17" stroke-opacity="0.46" fill-opacity="0.25"/><circle cx="52.5" cy="279.8" r="2.17" stroke-opacity="0.69" fill-opacity="0.38"/><circle cx="54.9" cy="273.5" r="2.17" stroke-opacity="0.49" fill-opacity="0.27"/><circle cx="71.3" cy="287.6" r="2.17" stroke-opacity="0.47" fill-opacity="0.26"/><circle cx="98.2" cy="273.8" r="2.17" stroke-opacity="0.56" fill-opacity="0.31"/><circle cx="99.9" cy="277.9" r="2.17" stroke-opacity="0.53" fill-opacity="0.29"/><circle cx="56.5" cy="290.3" r="2.17" stroke-opacity="0.57" fill-opacity="0.32"/><circle cx="102.4" cy="280.1" r="2.17" stroke-opacity="0.46" fill-opacity="0.25"/><circle cx="98.3" cy="278.2" r="2.17" stroke-opacity="0.38" fill-opacity="0.21"/><circle cx="64.3" cy="265.3" r="2.17" stroke-opacity="0.64" fill-opacity="0.35"/><circle cx="61.7" cy="261.9" r="2.17" stroke-opacity="0.61" fill-opacity="0.33"/><circle cx="68.2" cy="267.6" r="2.17" stroke-opacity="0.41" fill-opacity="0.23"/><circle cx="55.6" cy="273.0" r="2.17" stroke-opacity="0.45" fill-opacity="0.25"/><circle cx="97.8" cy="268.0" r="2.17" stroke-opacity="0.58" fill-opacity="0.32"/><circle cx="83.0" cy="277.6" r="2.17" stroke-opacity="0.55" fill-opacity="0.30"/><circle cx="64.2" cy="279.7" r="2.17" stroke-opacity="0.44" fill-opacity="0.24"/><circle cx="66.0" cy="287.2" r="2.17" stroke-opacity="0.45" fill-opacity="0.25"/><circle cx="95.6" cy="289.6" r="2.17" stroke-opacity="0.51" fill-opacity="0.28"/><circle cx="54.4" cy="268.4" r="2.17" stroke-opacity="0.64" fill-opacity="0.35"/><circle cx="61.2" cy="283.3" r="2.17" stroke-opacity="0.64" fill-opacity="0.35"/><circle cx="72.5" cy="299.1" r="2.17" stroke-opacity="0.31" fill-opacity="0.17"/><circle cx="95.4" cy="286.8" r="2.17" stroke-opacity="0.44" fill-opacity="0.24"/><circle cx="52.6" cy="281.4" r="2.17" stroke-opacity="0.54" fill-opacity="0.30"/><circle cx="60.9" cy="294.1" r="2.17" stroke-opacity="0.41" fill-opacity="0.23"/><circle cx="96.7" cy="281.0" r="2.17" stroke-opacity="0.66" fill-opacity="0.36"/><circle cx="89.0" cy="288.6" r="2.17" stroke-opacity="0.54" fill-opacity="0.30"/><circle cx="99.1" cy="277.7" r="2.17" stroke-opacity="0.50" fill-opacity="0.27"/><circle cx="70.1" cy="273.2" r="2.17" stroke-opacity="0.66" fill-opacity="0.37"/><circle cx="68.6" cy="287.7" r="2.17" stroke-opacity="0.47" fill-opacity="0.26"/><circle cx="84.3" cy="282.3" r="2.17" stroke-opacity="0.53" fill-opacity="0.29"/><circle cx="102.6" cy="276.0" r="2.17" stroke-opacity="0.37" fill-opacity="0.20"/><circle cx="62.9" cy="274.3" r="2.17" stroke-opacity="0.34" fill-opacity="0.19"/><circle cx="63.8" cy="284.3" r="2.17" stroke-opacity="0.41" fill-opacity="0.22"/><circle cx="45.2" cy="285.8" r="2.17" stroke-opacity="0.70" fill-opacity="0.38"/><circle cx="93.8" cy="266.3" r="2.17" stroke-opacity="0.45" fill-opacity="0.25"/><circle cx="51.9" cy="281.2" r="2.17" stroke-opacity="0.64" fill-opacity="0.35"/><circle cx="64.9" cy="266.4" r="2.17" stroke-opacity="0.39" fill-opacity="0.21"/><circle cx="97.0" cy="282.3" r="2.17" stroke-opacity="0.42" fill-opacity="0.23"/><circle cx="47.8" cy="289.4" r="2.17" stroke-opacity="0.35" fill-opacity="0.19"/><circle cx="89.4" cy="286.4" r="2.17" stroke-opacity="0.45" fill-opacity="0.25"/><circle cx="74.7" cy="283.5" r="2.17" stroke-opacity="0.69" fill-opacity="0.38"/><circle cx="59.7" cy="286.9" r="2.17" stroke-opacity="0.39" fill-opacity="0.22"/><circle cx="80.3" cy="291.5" r="2.17" stroke-opacity="0.59" fill-opacity="0.33"/><circle cx="72.0" cy="286.4" r="2.17" stroke-opacity="0.51" fill-opacity="0.28"/><circle cx="68.7" cy="266.7" r="2.17" stroke-opacity="0.44" fill-opacity="0.24"/><circle cx="80.5" cy="284.0" r="2.17" stroke-opacity="0.70" fill-opacity="0.38"/><circle cx="64.0" cy="297.1" r="2.17" stroke-opacity="0.37" fill-opacity="0.20"/><circle cx="71.1" cy="283.9" r="2.17" stroke-opacity="0.31" fill-opacity="0.17"/><circle cx="85.1" cy="296.5" r="2.17" stroke-opacity="0.59" fill-opacity="0.33"/><circle cx="89.6" cy="273.4" r="2.17" stroke-opacity="0.54" fill-opacity="0.30"/><circle cx="52.2" cy="288.5" r="2.17" stroke-opacity="0.36" fill-opacity="0.20"/><circle cx="54.2" cy="265.4" r="2.17" stroke-opacity="0.54" fill-opacity="0.30"/><circle cx="85.0" cy="275.9" r="2.17" stroke-opacity="0.62" fill-opacity="0.34"/><circle cx="51.0" cy="276.3" r="2.17" stroke-opacity="0.33" fill-opacity="0.18"/><circle cx="99.4" cy="278.3" r="2.17" stroke-opacity="0.67" fill-opacity="0.37"/><circle cx="59.8" cy="262.0" r="2.17" stroke-opacity="0.52" fill-opacity="0.29"/><circle cx="94.2" cy="267.5" r="2.17" stroke-opacity="0.40" fill-opacity="0.22"/><circle cx="99.9" cy="278.3" r="2.17" stroke-opacity="0.38" fill-opacity="0.21"/><circle cx="46.0" cy="282.1" r="2.17" stroke-opacity="0.65" fill-opacity="0.36"/><circle cx="94.8" cy="267.0" r="2.17" stroke-opacity="0.36" fill-opacity="0.20"/><circle cx="66.6" cy="296.3" r="2.17" stroke-opacity="0.58" fill-opacity="0.32"/><circle cx="73.2" cy="282.7" r="2.17" stroke-opacity="0.43" fill-opacity="0.24"/><circle cx="94.6" cy="282.2" r="2.17" stroke-opacity="0.63" fill-opacity="0.35"/><circle cx="77.6" cy="292.2" r="2.17" stroke-opacity="0.64" fill-opacity="0.35"/><circle cx="80.9" cy="292.1" r="2.17" stroke-opacity="0.41" fill-opacity="0.23"/><circle cx="49.8" cy="272.4" r="2.17" stroke-opacity="0.58" fill-opacity="0.32"/><circle cx="86.4" cy="292.3" r="2.17" stroke-opacity="0.69" fill-opacity="0.38"/><circle cx="97.5" cy="284.5" r="2.17" stroke-opacity="0.48" fill-opacity="0.26"/><circle cx="87.0" cy="289.8" r="2.17" stroke-opacity="0.42" fill-opacity="0.23"/><circle cx="96.9" cy="269.1" r="2.17" stroke-opacity="0.18" fill-opacity="0.10"/><circle cx="67.0" cy="266.6" r="2.17" stroke-opacity="0.29" fill-opacity="0.16"/><circle cx="70.7" cy="268.1" r="2.17" stroke-opacity="0.29" fill-opacity="0.16"/><circle cx="59.3" cy="276.3" r="2.17" stroke-opacity="0.24" fill-opacity="0.13"/><circle cx="77.6" cy="269.2" r="2.17" stroke-opacity="0.21" fill-opacity="0.11"/><circle cx="65.6" cy="300.7" r="2.17" stroke-opacity="0.16" fill-opacity="0.09"/><circle cx="98.5" cy="290.1" r="2.17" stroke-opacity="0.18" fill-opacity="0.10"/><circle cx="81.5" cy="297.2" r="2.17" stroke-opacity="0.37" fill-opacity="0.21"/><circle cx="71.0" cy="285.3" r="2.17" stroke-opacity="0.34" fill-opacity="0.19"/><circle cx="94.3" cy="262.7" r="2.17" stroke-opacity="0.26" fill-opacity="0.14"/><circle cx="41.8" cy="274.4" r="2.17" stroke-opacity="0.26" fill-opacity="0.15"/><circle cx="50.4" cy="255.3" r="2.17" stroke-opacity="0.23" fill-opacity="0.13"/><circle cx="69.8" cy="278.7" r="2.17" stroke-opacity="0.34" fill-opacity="0.19"/><circle cx="87.1" cy="275.7" r="2.17" stroke-opacity="0.21" fill-opacity="0.12"/><circle cx="111.0" cy="262.6" r="2.17" stroke-opacity="0.32" fill-opacity="0.17"/><circle cx="52.9" cy="278.3" r="2.17" stroke-opacity="0.36" fill-opacity="0.20"/><circle cx="58.3" cy="298.3" r="2.17" stroke-opacity="0.39" fill-opacity="0.22"/><circle cx="43.4" cy="295.9" r="2.17" stroke-opacity="0.32" fill-opacity="0.18"/><circle cx="98.3" cy="290.2" r="2.17" stroke-opacity="0.14" fill-opacity="0.08"/><circle cx="62.9" cy="291.8" r="2.17" stroke-opacity="0.39" fill-opacity="0.21"/><circle cx="65.4" cy="302.3" r="2.17" stroke-opacity="0.22" fill-opacity="0.12"/><circle cx="46.8" cy="286.7" r="2.17" stroke-opacity="0.35" fill-opacity="0.19"/><circle cx="91.0" cy="286.5" r="2.17" stroke-opacity="0.35" fill-opacity="0.19"/><circle cx="54.6" cy="282.0" r="2.17" stroke-opacity="0.20" fill-opacity="0.11"/><circle cx="54.8" cy="291.7" r="2.17" stroke-opacity="0.18" fill-opacity="0.10"/><circle cx="54.2" cy="258.4" r="2.17" stroke-opacity="0.37" fill-opacity="0.20"/><circle cx="111.0" cy="275.5" r="2.17" stroke-opacity="0.27" fill-opacity="0.15"/><circle cx="63.5" cy="298.7" r="2.17" stroke-opacity="0.31" fill-opacity="0.17"/><circle cx="39.3" cy="286.7" r="2.17" stroke-opacity="0.36" fill-opacity="0.20"/><circle cx="58.9" cy="254.3" r="2.17" stroke-opacity="0.14" fill-opacity="0.08"/><circle cx="81.6" cy="293.1" r="2.17" stroke-opacity="0.39" fill-opacity="0.22"/><circle cx="90.8" cy="273.0" r="2.17" stroke-opacity="0.27" fill-opacity="0.15"/><circle cx="68.1" cy="303.4" r="2.17" stroke-opacity="0.35" fill-opacity="0.19"/><circle cx="87.4" cy="284.2" r="2.17" stroke-opacity="0.28" fill-opacity="0.15"/><circle cx="98.9" cy="269.0" r="2.17" stroke-opacity="0.30" fill-opacity="0.17"/><circle cx="64.1" cy="276.8" r="2.17" stroke-opacity="0.38" fill-opacity="0.21"/><circle cx="39.8" cy="296.2" r="2.17" stroke-opacity="0.15" fill-opacity="0.08"/><circle cx="49.3" cy="301.4" r="2.17" stroke-opacity="0.24" fill-opacity="0.13"/><circle cx="51.3" cy="277.8" r="2.17" stroke-opacity="0.40" fill-opacity="0.22"/><circle cx="87.3" cy="294.7" r="2.17" stroke-opacity="0.23" fill-opacity="0.12"/><circle cx="104.5" cy="259.0" r="2.17" stroke-opacity="0.37" fill-opacity="0.20"/><circle cx="80.9" cy="289.9" r="2.17" stroke-opacity="0.23" fill-opacity="0.13"/><circle cx="62.8" cy="286.8" r="2.17" stroke-opacity="0.21" fill-opacity="0.12"/><circle cx="69.4" cy="277.5" r="2.17" stroke-opacity="0.26" fill-opacity="0.14"/><circle cx="47.5" cy="297.4" r="2.17" stroke-opacity="0.17" fill-opacity="0.09"/><circle cx="82.6" cy="296.6" r="2.17" stroke-opacity="0.35" fill-opacity="0.19"/><circle cx="85.7" cy="265.2" r="2.17" stroke-opacity="0.14" fill-opacity="0.08"/><circle cx="40.7" cy="286.5" r="2.17" stroke-opacity="0.30" fill-opacity="0.17"/><circle cx="67.9" cy="257.4" r="2.17" stroke-opacity="0.37" fill-opacity="0.20"/><circle cx="105.5" cy="268.4" r="2.17" stroke-opacity="0.14" fill-opacity="0.08"/><circle cx="54.1" cy="281.9" r="2.17" stroke-opacity="0.28" fill-opacity="0.15"/><circle cx="94.0" cy="287.3" r="2.17" stroke-opacity="0.17" fill-opacity="0.09"/><circle cx="68.0" cy="272.7" r="2.17" stroke-opacity="0.29" fill-opacity="0.16"/><circle cx="73.1" cy="286.0" r="2.17" stroke-opacity="0.14" fill-opacity="0.08"/><circle cx="83.6" cy="304.2" r="2.17" stroke-opacity="0.33" fill-opacity="0.18"/><circle cx="53.1" cy="271.9" r="2.17" stroke-opacity="0.38" fill-opacity="0.21"/><circle cx="39.9" cy="285.4" r="2.17" stroke-opacity="0.24" fill-opacity="0.13"/><circle cx="53.4" cy="274.6" r="2.17" stroke-opacity="0.31" fill-opacity="0.17"/><circle cx="57.3" cy="285.9" r="2.17" stroke-opacity="0.37" fill-opacity="0.21"/><circle cx="61.0" cy="275.9" r="2.17" stroke-opacity="0.32" fill-opacity="0.17"/><circle cx="86.0" cy="289.9" r="2.17" stroke-opacity="0.85" fill-opacity="0.47"/><circle cx="104.4" cy="271.7" r="2.17" stroke-opacity="0.87" fill-opacity="0.48"/><circle cx="44.2" cy="287.8" r="2.17" stroke-opacity="0.97" fill-opacity="0.53"/><circle cx="71.7" cy="294.0" r="2.17" stroke-opacity="0.99" fill-opacity="0.55"/><circle cx="95.5" cy="273.0" r="2.17" stroke-opacity="0.98" fill-opacity="0.54"/><circle cx="64.6" cy="303.2" r="2.17" stroke-opacity="0.83" fill-opacity="0.46"/><circle cx="43.5" cy="281.3" r="2.17" stroke-opacity="0.98" fill-opacity="0.54"/><circle cx="58.4" cy="264.0" r="2.17" stroke-opacity="0.83" fill-opacity="0.46"/><circle cx="58.2" cy="283.9" r="2.17" stroke-opacity="0.76" fill-opacity="0.42"/><circle cx="105.5" cy="271.8" r="2.17" stroke-opacity="0.84" fill-opacity="0.46"/><circle cx="99.1" cy="260.9" r="2.17" stroke-opacity="0.83" fill-opacity="0.46"/><circle cx="68.5" cy="265.3" r="2.17" stroke-opacity="0.93" fill-opacity="0.51"/><circle cx="65.0" cy="275.0" r="2.17" stroke-opacity="0.78" fill-opacity="0.43"/><circle cx="74.1" cy="283.3" r="2.17" stroke-opacity="0.86" fill-opacity="0.47"/><circle cx="82.2" cy="289.9" r="2.17" stroke-opacity="1.00" fill-opacity="0.55"/><circle cx="75.9" cy="277.0" r="2.17" stroke-opacity="0.95" fill-opacity="0.52"/><circle cx="48.7" cy="282.0" r="2.17" stroke-opacity="0.84" fill-opacity="0.46"/><circle cx="73.8" cy="289.8" r="2.17" stroke-opacity="0.90" fill-opacity="0.49"/><circle cx="53.7" cy="283.6" r="2.17" stroke-opacity="0.90" fill-opacity="0.49"/><circle cx="52.5" cy="260.1" r="2.17" stroke-opacity="0.95" fill-opacity="0.52"/><circle cx="95.0" cy="278.4" r="2.17" stroke-opacity="0.84" fill-opacity="0.46"/><circle cx="79.9" cy="273.9" r="2.17" stroke-opacity="0.84" fill-opacity="0.46"/><circle cx="62.4" cy="283.5" r="2.17" stroke-opacity="0.86" fill-opacity="0.48"/><circle cx="79.3" cy="297.2" r="2.17" stroke-opacity="0.83" fill-opacity="0.45"/><circle cx="78.1" cy="282.9" r="2.17" stroke-opacity="0.79" fill-opacity="0.43"/><circle cx="87.5" cy="278.1" r="2.17" stroke-opacity="0.76" fill-opacity="0.42"/><circle cx="42.7" cy="292.1" r="2.17" stroke-opacity="0.86" fill-opacity="0.47"/><circle cx="73.9" cy="282.6" r="2.17" stroke-opacity="0.98" fill-opacity="0.54"/><circle cx="106.3" cy="284.6" r="2.17" stroke-opacity="0.86" fill-opacity="0.48"/><circle cx="106.0" cy="267.0" r="2.17" stroke-opacity="0.93" fill-opacity="0.51"/><circle cx="104.3" cy="274.9" r="2.17" stroke-opacity="0.91" fill-opacity="0.50"/><circle cx="76.2" cy="278.5" r="2.17" stroke-opacity="0.86" fill-opacity="0.48"/><circle cx="98.8" cy="272.4" r="2.17" stroke-opacity="0.96" fill-opacity="0.53"/><circle cx="57.4" cy="257.1" r="2.17" stroke-opacity="0.92" fill-opacity="0.50"/><circle cx="54.6" cy="287.2" r="2.17" stroke-opacity="0.82" fill-opacity="0.45"/><circle cx="56.5" cy="261.4" r="2.17" stroke-opacity="0.79" fill-opacity="0.44"/><circle cx="68.1" cy="287.2" r="2.17" stroke-opacity="0.86" fill-opacity="0.47"/><circle cx="48.0" cy="293.4" r="2.17" stroke-opacity="0.89" fill-opacity="0.49"/><circle cx="48.1" cy="282.8" r="2.17" stroke-opacity="0.90" fill-opacity="0.49"/><circle cx="43.7" cy="290.5" r="2.17" stroke-opacity="0.89" fill-opacity="0.49"/><circle cx="73.7" cy="274.0" r="2.17" stroke-opacity="0.82" fill-opacity="0.45"/><circle cx="81.7" cy="290.6" r="2.17" stroke-opacity="0.99" fill-opacity="0.55"/><circle cx="93.5" cy="264.0" r="2.17" stroke-opacity="0.89" fill-opacity="0.49"/><circle cx="44.7" cy="275.7" r="2.17" stroke-opacity="0.97" fill-opacity="0.54"/><circle cx="104.7" cy="277.4" r="2.17" stroke-opacity="1.00" fill-opacity="0.55"/><circle cx="42.8" cy="278.7" r="2.17" stroke-opacity="0.88" fill-opacity="0.48"/><circle cx="61.6" cy="258.2" r="2.17" stroke-opacity="0.79" fill-opacity="0.44"/><circle cx="48.0" cy="279.0" r="2.17" stroke-opacity="0.93" fill-opacity="0.51"/><circle cx="59.8" cy="286.6" r="2.17" stroke-opacity="0.95" fill-opacity="0.52"/><circle cx="42.6" cy="289.8" r="2.17" stroke-opacity="0.88" fill-opacity="0.48"/><circle cx="102.1" cy="287.2" r="2.17" stroke-opacity="0.89" fill-opacity="0.49"/><circle cx="55.8" cy="298.7" r="2.17" stroke-opacity="0.90" fill-opacity="0.49"/><circle cx="63.2" cy="283.2" r="2.17" stroke-opacity="0.78" fill-opacity="0.43"/><circle cx="98.5" cy="291.8" r="2.17" stroke-opacity="0.90" fill-opacity="0.50"/><circle cx="86.0" cy="280.9" r="2.17" stroke-opacity="0.85" fill-opacity="0.47"/><circle cx="92.6" cy="272.7" r="2.17" stroke-opacity="0.78" fill-opacity="0.43"/><circle cx="67.6" cy="269.8" r="2.17" stroke-opacity="0.97" fill-opacity="0.53"/><circle cx="71.3" cy="284.8" r="2.17" stroke-opacity="0.87" fill-opacity="0.48"/><circle cx="107.7" cy="268.1" r="2.17" stroke-opacity="0.80" fill-opacity="0.44"/><circle cx="48.9" cy="285.5" r="2.17" stroke-opacity="0.81" fill-opacity="0.45"/><circle cx="70.6" cy="264.1" r="2.17" stroke-opacity="0.79" fill-opacity="0.43"/><circle cx="66.8" cy="298.4" r="2.17" stroke-opacity="0.90" fill-opacity="0.50"/><circle cx="69.4" cy="282.0" r="2.17" stroke-opacity="0.79" fill-opacity="0.43"/><circle cx="88.0" cy="272.5" r="2.17" stroke-opacity="0.82" fill-opacity="0.45"/><circle cx="85.3" cy="268.1" r="2.17" stroke-opacity="0.84" fill-opacity="0.46"/><circle cx="66.7" cy="301.0" r="2.17" stroke-opacity="0.76" fill-opacity="0.42"/><circle cx="74.8" cy="277.3" r="2.17" stroke-opacity="0.97" fill-opacity="0.53"/><circle cx="52.4" cy="283.7" r="2.17" stroke-opacity="0.91" fill-opacity="0.50"/><circle cx="97.1" cy="285.2" r="2.17" stroke-opacity="0.98" fill-opacity="0.54"/><circle cx="59.0" cy="281.8" r="2.17" stroke-opacity="0.95" fill-opacity="0.52"/><circle cx="59.0" cy="272.6" r="2.17" stroke-opacity="0.89" fill-opacity="0.49"/><circle cx="68.0" cy="288.2" r="2.17" stroke-opacity="0.79" fill-opacity="0.43"/><circle cx="70.4" cy="280.1" r="2.17" stroke-opacity="0.83" fill-opacity="0.46"/><circle cx="83.3" cy="283.0" r="2.17" stroke-opacity="0.99" fill-opacity="0.54"/><circle cx="55.0" cy="283.0" r="2.17" stroke-opacity="0.99" fill-opacity="0.54"/><circle cx="88.1" cy="289.7" r="2.17" stroke-opacity="0.83" fill-opacity="0.46"/><circle cx="48.4" cy="292.9" r="2.17" stroke-opacity="0.86" fill-opacity="0.47"/><circle cx="94.6" cy="277.4" r="2.17" stroke-opacity="0.78" fill-opacity="0.43"/><circle cx="52.9" cy="258.9" r="2.17" stroke-opacity="0.94" fill-opacity="0.51"/><circle cx="80.9" cy="276.0" r="2.17" stroke-opacity="0.90" fill-opacity="0.50"/><circle cx="101.5" cy="270.7" r="2.17" stroke-opacity="0.78" fill-opacity="0.43"/><circle cx="72.8" cy="286.2" r="2.17" stroke-opacity="0.81" fill-opacity="0.45"/><circle cx="94.0" cy="261.8" r="2.17" stroke-opacity="0.99" fill-opacity="0.54"/><circle cx="50.3" cy="289.3" r="2.17" stroke-opacity="0.85" fill-opacity="0.47"/><circle cx="81.4" cy="278.9" r="2.17" stroke-opacity="0.98" fill-opacity="0.54"/><circle cx="84.4" cy="275.1" r="2.17" stroke-opacity="0.82" fill-opacity="0.45"/><circle cx="87.9" cy="299.3" r="2.17" stroke-opacity="0.83" fill-opacity="0.46"/><circle cx="67.2" cy="303.4" r="2.17" stroke-opacity="0.92" fill-opacity="0.51"/><circle cx="97.8" cy="281.0" r="2.17" stroke-opacity="0.92" fill-opacity="0.50"/><circle cx="90.4" cy="280.7" r="2.17" stroke-opacity="0.82" fill-opacity="0.45"/><circle cx="74.2" cy="280.1" r="2.17" stroke-opacity="0.83" fill-opacity="0.46"/><circle cx="81.2" cy="293.8" r="2.17" stroke-opacity="0.83" fill-opacity="0.46"/><circle cx="106.0" cy="270.6" r="2.17" stroke-opacity="0.82" fill-opacity="0.45"/><circle cx="42.6" cy="291.2" r="2.17" stroke-opacity="0.91" fill-opacity="0.50"/><circle cx="63.2" cy="268.6" r="2.17" stroke-opacity="0.87" fill-opacity="0.48"/><circle cx="81.5" cy="299.0" r="2.17" stroke-opacity="0.91" fill-opacity="0.50"/><circle cx="50.0" cy="270.8" r="2.17" stroke-opacity="0.89" fill-opacity="0.49"/><circle cx="46.4" cy="272.7" r="2.17" stroke-opacity="0.81" fill-opacity="0.45"/><circle cx="44.7" cy="274.9" r="2.17" stroke-opacity="0.78" fill-opacity="0.43"/><circle cx="62.3" cy="292.3" r="2.17" stroke-opacity="0.99" fill-opacity="0.54"/><circle cx="88.8" cy="264.2" r="2.17" stroke-opacity="0.76" fill-opacity="0.42"/><circle cx="102.9" cy="270.9" r="2.17" stroke-opacity="0.76" fill-opacity="0.42"/><circle cx="83.1" cy="276.8" r="2.17" stroke-opacity="0.81" fill-opacity="0.45"/><circle cx="62.2" cy="257.7" r="2.17" stroke-opacity="0.79" fill-opacity="0.43"/><circle cx="57.0" cy="281.7" r="2.17" stroke-opacity="0.82" fill-opacity="0.45"/><circle cx="67.2" cy="295.4" r="2.17" stroke-opacity="0.93" fill-opacity="0.51"/><circle cx="55.7" cy="276.6" r="2.17" stroke-opacity="0.91" fill-opacity="0.50"/><circle cx="63.4" cy="268.9" r="2.17" stroke-opacity="0.82" fill-opacity="0.45"/><circle cx="61.8" cy="258.3" r="2.17" stroke-opacity="0.90" fill-opacity="0.49"/><circle cx="67.8" cy="293.8" r="2.17" stroke-opacity="0.75" fill-opacity="0.41"/><circle cx="32.2" cy="45.1" r="2.17" stroke-opacity="0.31" fill-opacity="0.17"/><circle cx="65.0" cy="97.8" r="2.17" stroke-opacity="0.37" fill-opacity="0.20"/><circle cx="104.6" cy="61.5" r="2.17" stroke-opacity="0.41" fill-opacity="0.23"/><circle cx="93.7" cy="85.1" r="2.17" stroke-opacity="0.54" fill-opacity="0.30"/><circle cx="89.0" cy="95.8" r="2.17" stroke-opacity="0.50" fill-opacity="0.28"/><circle cx="59.5" cy="96.8" r="2.17" stroke-opacity="0.44" fill-opacity="0.24"/><circle cx="81.4" cy="89.6" r="2.17" stroke-opacity="0.61" fill-opacity="0.34"/><circle cx="41.4" cy="34.2" r="2.17" stroke-opacity="0.91" fill-opacity="0.50"/><circle cx="48.0" cy="37.3" r="2.17" stroke-opacity="0.74" fill-opacity="0.41"/><circle cx="109.5" cy="66.6" r="2.17" stroke-opacity="0.76" fill-opacity="0.42"/><circle cx="104.0" cy="92.7" r="2.17" stroke-opacity="0.85" fill-opacity="0.47"/><circle cx="121.5" cy="62.6" r="2.17" stroke-opacity="0.56" fill-opacity="0.31"/><circle cx="37.3" cy="258.9" r="2.17" stroke-opacity="0.20" fill-opacity="0.11"/><circle cx="67.1" cy="313.2" r="2.17" stroke-opacity="0.52" fill-opacity="0.28"/><circle cx="35.3" cy="291.3" r="2.17" stroke-opacity="0.69" fill-opacity="0.38"/><circle cx="50.0" cy="246.2" r="2.17" stroke-opacity="0.79" fill-opacity="0.44"/><circle cx="57.8" cy="248.2" r="2.17" stroke-opacity="0.99" fill-opacity="0.54"/><circle cx="113.6" cy="309.7" r="2.17" stroke-opacity="0.73" fill-opacity="0.40"/><circle cx="117.7" cy="272.9" r="2.17" stroke-opacity="0.37" fill-opacity="0.20"/><circle cx="236.7" cy="54.7" r="2.17" stroke-opacity="0.67" fill-opacity="0.37"/><circle cx="239.2" cy="43.1" r="2.17" stroke-opacity="0.63" fill-opacity="0.35"/><circle cx="235.6" cy="65.2" r="2.17" stroke-opacity="0.68" fill-opacity="0.38"/><circle cx="248.2" cy="71.8" r="2.17" stroke-opacity="0.72" fill-opacity="0.39"/><circle cx="247.6" cy="37.1" r="2.17" stroke-opacity="0.86" fill-opacity="0.48"/><circle cx="245.6" cy="43.1" r="2.17" stroke-opacity="0.93" fill-opacity="0.51"/><circle cx="225.1" cy="58.2" r="2.17" stroke-opacity="0.73" fill-opacity="0.40"/><circle cx="244.6" cy="43.9" r="2.17" stroke-opacity="0.62" fill-opacity="0.34"/><circle cx="236.3" cy="63.7" r="2.17" stroke-opacity="0.73" fill-opacity="0.40"/><circle cx="248.8" cy="71.3" r="2.17" stroke-opacity="0.69" fill-opacity="0.38"/><circle cx="229.9" cy="55.9" r="2.17" stroke-opacity="0.74" fill-opacity="0.41"/><circle cx="262.0" cy="63.4" r="2.17" stroke-opacity="0.68" fill-opacity="0.37"/><circle cx="237.1" cy="45.9" r="2.17" stroke-opacity="0.48" fill-opacity="0.26"/><circle cx="236.0" cy="56.6" r="2.17" stroke-opacity="0.60" fill-opacity="0.33"/><circle cx="259.2" cy="67.5" r="2.17" stroke-opacity="0.97" fill-opacity="0.53"/><circle cx="239.7" cy="42.1" r="2.17" stroke-opacity="0.41" fill-opacity="0.22"/><circle cx="246.7" cy="37.5" r="2.17" stroke-opacity="0.87" fill-opacity="0.48"/><circle cx="262.9" cy="52.7" r="2.17" stroke-opacity="0.59" fill-opacity="0.33"/><circle cx="252.1" cy="47.4" r="2.17" stroke-opacity="0.87" fill-opacity="0.48"/><circle cx="258.6" cy="52.0" r="2.17" stroke-opacity="0.92" fill-opacity="0.51"/><circle cx="259.0" cy="63.5" r="2.17" stroke-opacity="0.76" fill-opacity="0.42"/><circle cx="252.0" cy="59.3" r="2.17" stroke-opacity="0.58" fill-opacity="0.32"/><circle cx="233.7" cy="56.5" r="2.17" stroke-opacity="0.42" fill-opacity="0.23"/><circle cx="242.8" cy="43.3" r="2.17" stroke-opacity="0.75" fill-opacity="0.41"/><circle cx="248.0" cy="44.3" r="2.17" stroke-opacity="0.50" fill-opacity="0.27"/><circle cx="245.0" cy="47.8" r="2.17" stroke-opacity="0.45" fill-opacity="0.25"/><circle cx="257.7" cy="68.4" r="2.17" stroke-opacity="0.80" fill-opacity="0.44"/><circle cx="255.5" cy="40.5" r="2.17" stroke-opacity="0.76" fill-opacity="0.42"/><circle cx="232.8" cy="45.2" r="2.17" stroke-opacity="0.31" fill-opacity="0.17"/><circle cx="239.2" cy="68.4" r="2.17" stroke-opacity="0.99" fill-opacity="0.54"/><circle cx="238.1" cy="70.7" r="2.17" stroke-opacity="0.51" fill-opacity="0.28"/><circle cx="233.5" cy="47.7" r="2.17" stroke-opacity="0.84" fill-opacity="0.46"/><circle cx="237.4" cy="63.1" r="2.17" stroke-opacity="0.96" fill-opacity="0.53"/><circle cx="251.6" cy="65.0" r="2.17" stroke-opacity="0.46" fill-opacity="0.26"/><circle cx="235.3" cy="44.4" r="2.17" stroke-opacity="0.48" fill-opacity="0.26"/><circle cx="236.8" cy="52.7" r="2.17" stroke-opacity="0.85" fill-opacity="0.47"/><circle cx="262.4" cy="50.2" r="2.17" stroke-opacity="0.97" fill-opacity="0.53"/><circle cx="257.3" cy="42.2" r="2.17" stroke-opacity="0.74" fill-opacity="0.41"/><circle cx="247.2" cy="37.7" r="2.17" stroke-opacity="0.64" fill-opacity="0.35"/><circle cx="237.6" cy="70.6" r="2.17" stroke-opacity="0.30" fill-opacity="0.17"/><circle cx="238.6" cy="41.4" r="2.17" stroke-opacity="0.50" fill-opacity="0.28"/><circle cx="237.0" cy="51.2" r="2.17" stroke-opacity="0.88" fill-opacity="0.48"/><circle cx="263.7" cy="50.9" r="2.17" stroke-opacity="0.42" fill-opacity="0.23"/><circle cx="244.0" cy="60.7" r="2.17" stroke-opacity="0.48" fill-opacity="0.27"/><circle cx="258.9" cy="60.1" r="2.17" stroke-opacity="0.79" fill-opacity="0.44"/><circle cx="258.0" cy="69.8" r="2.17" stroke-opacity="0.48" fill-opacity="0.26"/><circle cx="246.9" cy="71.6" r="2.17" stroke-opacity="0.64" fill-opacity="0.35"/><circle cx="228.8" cy="44.3" r="2.17" stroke-opacity="0.70" fill-opacity="0.39"/><circle cx="240.4" cy="67.1" r="2.17" stroke-opacity="0.40" fill-opacity="0.22"/><circle cx="251.0" cy="53.1" r="2.17" stroke-opacity="0.66" fill-opacity="0.36"/><circle cx="244.8" cy="54.4" r="2.17" stroke-opacity="0.80" fill-opacity="0.44"/><circle cx="258.0" cy="41.7" r="2.17" stroke-opacity="0.87" fill-opacity="0.48"/><circle cx="254.9" cy="45.2" r="2.17" stroke-opacity="0.92" fill-opacity="0.51"/><circle cx="247.1" cy="59.1" r="2.17" stroke-opacity="0.53" fill-opacity="0.29"/><circle cx="253.8" cy="44.9" r="2.17" stroke-opacity="0.30" fill-opacity="0.17"/><circle cx="257.0" cy="63.1" r="2.17" stroke-opacity="0.59" fill-opacity="0.33"/><circle cx="232.2" cy="58.7" r="2.17" stroke-opacity="0.63" fill-opacity="0.35"/><circle cx="241.3" cy="68.1" r="2.17" stroke-opacity="0.83" fill-opacity="0.46"/><circle cx="244.8" cy="40.0" r="2.17" stroke-opacity="0.91" fill-opacity="0.50"/><circle cx="239.6" cy="63.2" r="2.17" stroke-opacity="0.34" fill-opacity="0.18"/><circle cx="248.6" cy="64.0" r="2.17" stroke-opacity="0.91" fill-opacity="0.50"/><circle cx="236.3" cy="55.7" r="2.17" stroke-opacity="0.58" fill-opacity="0.32"/><circle cx="234.8" cy="64.5" r="2.17" stroke-opacity="0.98" fill-opacity="0.54"/><circle cx="253.4" cy="70.6" r="2.17" stroke-opacity="0.89" fill-opacity="0.49"/><circle cx="236.2" cy="49.3" r="2.17" stroke-opacity="1.00" fill-opacity="0.55"/><circle cx="253.5" cy="37.9" r="2.17" stroke-opacity="0.83" fill-opacity="0.46"/><circle cx="244.4" cy="61.5" r="2.17" stroke-opacity="0.81" fill-opacity="0.45"/><circle cx="241.9" cy="52.6" r="2.17" stroke-opacity="0.50" fill-opacity="0.27"/><circle cx="252.2" cy="39.9" r="2.17" stroke-opacity="0.84" fill-opacity="0.46"/><circle cx="256.6" cy="67.8" r="2.17" stroke-opacity="0.41" fill-opacity="0.23"/><circle cx="249.2" cy="37.3" r="2.17" stroke-opacity="0.70" fill-opacity="0.38"/><circle cx="229.3" cy="50.2" r="2.17" stroke-opacity="0.70" fill-opacity="0.39"/><circle cx="243.2" cy="63.1" r="2.17" stroke-opacity="0.99" fill-opacity="0.54"/><circle cx="251.0" cy="64.5" r="2.17" stroke-opacity="0.77" fill-opacity="0.42"/><circle cx="252.8" cy="64.0" r="2.17" stroke-opacity="0.80" fill-opacity="0.44"/><circle cx="221.8" cy="49.7" r="2.17" stroke-opacity="0.62" fill-opacity="0.34"/><circle cx="260.7" cy="50.7" r="2.17" stroke-opacity="0.93" fill-opacity="0.51"/><circle cx="256.1" cy="48.0" r="2.17" stroke-opacity="0.76" fill-opacity="0.42"/><circle cx="234.8" cy="66.0" r="2.17" stroke-opacity="0.51" fill-opacity="0.28"/><circle cx="256.2" cy="51.4" r="2.17" stroke-opacity="0.95" fill-opacity="0.52"/><circle cx="252.3" cy="39.6" r="2.17" stroke-opacity="0.50" fill-opacity="0.27"/><circle cx="258.3" cy="66.6" r="2.17" stroke-opacity="0.77" fill-opacity="0.42"/><circle cx="256.1" cy="68.5" r="2.17" stroke-opacity="0.55" fill-opacity="0.30"/><circle cx="240.7" cy="71.1" r="2.17" stroke-opacity="0.88" fill-opacity="0.48"/><circle cx="239.1" cy="61.1" r="2.17" stroke-opacity="0.63" fill-opacity="0.35"/><circle cx="244.8" cy="69.2" r="2.17" stroke-opacity="0.68" fill-opacity="0.37"/><circle cx="245.6" cy="36.4" r="2.17" stroke-opacity="0.43" fill-opacity="0.24"/><circle cx="224.1" cy="50.1" r="2.17" stroke-opacity="0.69" fill-opacity="0.38"/><circle cx="258.0" cy="60.4" r="2.17" stroke-opacity="0.87" fill-opacity="0.48"/><circle cx="232.7" cy="58.9" r="2.17" stroke-opacity="0.35" fill-opacity="0.19"/><circle cx="242.9" cy="66.2" r="2.17" stroke-opacity="0.56" fill-opacity="0.31"/><circle cx="242.6" cy="48.0" r="2.17" stroke-opacity="0.93" fill-opacity="0.51"/><circle cx="255.7" cy="50.7" r="2.17" stroke-opacity="0.54" fill-opacity="0.30"/><circle cx="252.8" cy="52.5" r="2.17" stroke-opacity="0.48" fill-opacity="0.26"/><circle cx="240.2" cy="68.1" r="2.17" stroke-opacity="0.39" fill-opacity="0.21"/><circle cx="228.7" cy="51.5" r="2.17" stroke-opacity="0.72" fill-opacity="0.40"/><circle cx="243.4" cy="48.0" r="2.17" stroke-opacity="0.94" fill-opacity="0.52"/><circle cx="235.2" cy="46.1" r="2.17" stroke-opacity="0.45" fill-opacity="0.25"/><circle cx="238.9" cy="67.9" r="2.17" stroke-opacity="0.50" fill-opacity="0.28"/><circle cx="224.2" cy="46.7" r="2.17" stroke-opacity="0.68" fill-opacity="0.37"/><circle cx="223.5" cy="58.7" r="2.17" stroke-opacity="0.79" fill-opacity="0.44"/><circle cx="229.5" cy="48.7" r="2.17" stroke-opacity="0.39" fill-opacity="0.21"/><circle cx="240.8" cy="41.5" r="2.17" stroke-opacity="0.32" fill-opacity="0.18"/><circle cx="246.1" cy="67.0" r="2.17" stroke-opacity="0.39" fill-opacity="0.21"/><circle cx="252.0" cy="52.1" r="2.17" stroke-opacity="0.89" fill-opacity="0.49"/><circle cx="241.2" cy="53.0" r="2.17" stroke-opacity="0.74" fill-opacity="0.41"/><circle cx="232.3" cy="60.0" r="2.17" stroke-opacity="0.44" fill-opacity="0.24"/><circle cx="228.8" cy="46.5" r="2.17" stroke-opacity="0.62" fill-opacity="0.34"/><circle cx="240.5" cy="62.0" r="2.17" stroke-opacity="0.82" fill-opacity="0.45"/><circle cx="234.2" cy="70.6" r="2.17" stroke-opacity="0.52" fill-opacity="0.29"/><circle cx="237.4" cy="58.4" r="2.17" stroke-opacity="0.39" fill-opacity="0.21"/><circle cx="232.6" cy="70.0" r="2.17" stroke-opacity="0.99" fill-opacity="0.54"/><circle cx="237.2" cy="61.9" r="2.17" stroke-opacity="0.59" fill-opacity="0.33"/><circle cx="257.4" cy="48.8" r="2.17" stroke-opacity="0.98" fill-opacity="0.54"/><circle cx="245.2" cy="65.5" r="2.17" stroke-opacity="0.31" fill-opacity="0.17"/><circle cx="244.1" cy="64.0" r="2.17" stroke-opacity="0.55" fill-opacity="0.30"/><circle cx="243.8" cy="68.8" r="2.17" stroke-opacity="0.70" fill-opacity="0.39"/><circle cx="236.3" cy="65.0" r="2.17" stroke-opacity="0.35" fill-opacity="0.19"/><circle cx="253.2" cy="44.8" r="2.17" stroke-opacity="0.80" fill-opacity="0.44"/><circle cx="250.4" cy="55.6" r="2.17" stroke-opacity="0.30" fill-opacity="0.17"/><circle cx="261.9" cy="63.6" r="2.17" stroke-opacity="0.89" fill-opacity="0.49"/><circle cx="234.8" cy="41.3" r="2.17" stroke-opacity="0.60" fill-opacity="0.33"/><circle cx="252.8" cy="45.2" r="2.17" stroke-opacity="0.53" fill-opacity="0.29"/><circle cx="247.3" cy="52.3" r="2.17" stroke-opacity="0.74" fill-opacity="0.41"/><circle cx="255.4" cy="60.6" r="2.17" stroke-opacity="0.37" fill-opacity="0.21"/><circle cx="243.4" cy="59.6" r="2.17" stroke-opacity="0.52" fill-opacity="0.29"/><circle cx="255.1" cy="63.6" r="2.17" stroke-opacity="0.56" fill-opacity="0.31"/><circle cx="232.7" cy="70.4" r="2.17" stroke-opacity="0.69" fill-opacity="0.38"/><circle cx="261.9" cy="55.8" r="2.17" stroke-opacity="0.70" fill-opacity="0.39"/><circle cx="241.9" cy="37.6" r="2.17" stroke-opacity="0.66" fill-opacity="0.37"/><circle cx="264.1" cy="55.0" r="2.17" stroke-opacity="0.53" fill-opacity="0.29"/><circle cx="237.4" cy="42.8" r="2.17" stroke-opacity="0.75" fill-opacity="0.41"/><circle cx="240.5" cy="67.1" r="2.17" stroke-opacity="0.55" fill-opacity="0.30"/><circle cx="245.3" cy="43.3" r="2.17" stroke-opacity="0.91" fill-opacity="0.50"/><circle cx="258.0" cy="44.6" r="2.17" stroke-opacity="0.51" fill-opacity="0.28"/><circle cx="257.5" cy="56.6" r="2.17" stroke-opacity="0.32" fill-opacity="0.17"/><circle cx="241.5" cy="63.5" r="2.17" stroke-opacity="0.39" fill-opacity="0.21"/><circle cx="244.9" cy="52.7" r="2.17" stroke-opacity="0.92" fill-opacity="0.50"/><circle cx="237.1" cy="61.0" r="2.17" stroke-opacity="0.76" fill-opacity="0.42"/><circle cx="241.5" cy="62.2" r="2.17" stroke-opacity="0.37" fill-opacity="0.20"/><circle cx="235.4" cy="66.6" r="2.17" stroke-opacity="0.32" fill-opacity="0.18"/><circle cx="242.6" cy="43.1" r="2.17" stroke-opacity="0.86" fill-opacity="0.47"/><circle cx="242.8" cy="71.1" r="2.17" stroke-opacity="0.82" fill-opacity="0.45"/><circle cx="253.8" cy="67.3" r="2.17" stroke-opacity="0.65" fill-opacity="0.36"/><circle cx="230.6" cy="49.8" r="2.17" stroke-opacity="0.49" fill-opacity="0.27"/><circle cx="255.2" cy="50.4" r="2.17" stroke-opacity="0.79" fill-opacity="0.43"/><circle cx="253.4" cy="70.7" r="2.17" stroke-opacity="0.45" fill-opacity="0.25"/><circle cx="260.4" cy="49.6" r="2.17" stroke-opacity="0.66" fill-opacity="0.36"/><circle cx="262.1" cy="66.0" r="2.17" stroke-opacity="0.34" fill-opacity="0.19"/><circle cx="251.2" cy="60.9" r="2.17" stroke-opacity="0.69" fill-opacity="0.38"/><circle cx="256.7" cy="53.5" r="2.17" stroke-opacity="0.86" fill-opacity="0.47"/><circle cx="235.7" cy="45.9" r="2.17" stroke-opacity="0.63" fill-opacity="0.35"/><circle cx="236.4" cy="45.9" r="2.17" stroke-opacity="0.58" fill-opacity="0.32"/><circle cx="251.3" cy="63.6" r="2.17" stroke-opacity="0.56" fill-opacity="0.31"/><circle cx="251.1" cy="42.4" r="2.17" stroke-opacity="0.59" fill-opacity="0.32"/><circle cx="238.4" cy="54.1" r="2.17" stroke-opacity="0.69" fill-opacity="0.38"/><circle cx="223.5" cy="60.2" r="2.17" stroke-opacity="0.51" fill-opacity="0.28"/><circle cx="260.6" cy="55.7" r="2.17" stroke-opacity="0.93" fill-opacity="0.51"/><circle cx="229.4" cy="51.1" r="2.17" stroke-opacity="0.36" fill-opacity="0.20"/><circle cx="235.8" cy="47.3" r="2.17" stroke-opacity="0.58" fill-opacity="0.32"/><circle cx="244.8" cy="69.6" r="2.17" stroke-opacity="0.90" fill-opacity="0.49"/><circle cx="235.3" cy="58.8" r="2.17" stroke-opacity="0.45" fill-opacity="0.25"/><circle cx="255.6" cy="43.4" r="2.17" stroke-opacity="0.97" fill-opacity="0.53"/><circle cx="236.4" cy="51.6" r="2.17" stroke-opacity="0.85" fill-opacity="0.46"/><circle cx="256.7" cy="51.5" r="2.17" stroke-opacity="0.92" fill-opacity="0.51"/><circle cx="254.5" cy="48.9" r="2.17" stroke-opacity="0.76" fill-opacity="0.42"/><circle cx="238.9" cy="43.0" r="2.17" stroke-opacity="0.91" fill-opacity="0.50"/><circle cx="249.2" cy="66.4" r="2.17" stroke-opacity="0.36" fill-opacity="0.20"/><circle cx="227.2" cy="61.7" r="2.17" stroke-opacity="0.66" fill-opacity="0.36"/><circle cx="235.9" cy="58.6" r="2.17" stroke-opacity="0.91" fill-opacity="0.50"/><circle cx="244.6" cy="70.8" r="2.17" stroke-opacity="0.49" fill-opacity="0.27"/><circle cx="224.0" cy="53.7" r="2.17" stroke-opacity="0.57" fill-opacity="0.31"/><circle cx="250.5" cy="60.2" r="2.17" stroke-opacity="0.93" fill-opacity="0.51"/><circle cx="226.9" cy="58.0" r="2.17" stroke-opacity="0.77" fill-opacity="0.42"/><circle cx="258.6" cy="65.4" r="2.17" stroke-opacity="0.57" fill-opacity="0.31"/><circle cx="232.5" cy="47.9" r="2.17" stroke-opacity="0.57" fill-opacity="0.31"/><circle cx="256.0" cy="58.8" r="2.17" stroke-opacity="0.77" fill-opacity="0.42"/><circle cx="252.8" cy="69.0" r="2.17" stroke-opacity="0.46" fill-opacity="0.25"/><circle cx="222.5" cy="50.2" r="2.17" stroke-opacity="0.81" fill-opacity="0.45"/><circle cx="225.0" cy="56.5" r="2.17" stroke-opacity="0.54" fill-opacity="0.30"/><circle cx="227.2" cy="57.6" r="2.17" stroke-opacity="0.52" fill-opacity="0.28"/><circle cx="233.3" cy="63.2" r="2.17" stroke-opacity="0.55" fill-opacity="0.30"/><circle cx="238.8" cy="58.5" r="2.17" stroke-opacity="0.45" fill-opacity="0.25"/><circle cx="240.7" cy="45.7" r="2.17" stroke-opacity="0.42" fill-opacity="0.23"/><circle cx="249.5" cy="49.6" r="2.17" stroke-opacity="0.69" fill-opacity="0.38"/><circle cx="237.3" cy="53.7" r="2.17" stroke-opacity="0.94" fill-opacity="0.51"/><circle cx="245.6" cy="53.7" r="2.17" stroke-opacity="0.92" fill-opacity="0.51"/><circle cx="250.6" cy="69.9" r="2.17" stroke-opacity="0.52" fill-opacity="0.29"/><circle cx="223.5" cy="50.3" r="2.17" stroke-opacity="0.81" fill-opacity="0.44"/><circle cx="226.1" cy="46.4" r="2.17" stroke-opacity="0.67" fill-opacity="0.37"/><circle cx="227.6" cy="44.0" r="2.17" stroke-opacity="0.79" fill-opacity="0.44"/><circle cx="233.7" cy="64.8" r="2.17" stroke-opacity="0.53" fill-opacity="0.29"/><circle cx="226.7" cy="44.7" r="2.17" stroke-opacity="0.99" fill-opacity="0.54"/><circle cx="236.5" cy="48.3" r="2.17" stroke-opacity="0.51" fill-opacity="0.28"/><circle cx="238.2" cy="65.6" r="2.17" stroke-opacity="0.73" fill-opacity="0.40"/><circle cx="227.2" cy="44.5" r="2.17" stroke-opacity="0.30" fill-opacity="0.17"/><circle cx="238.1" cy="55.2" r="2.17" stroke-opacity="0.56" fill-opacity="0.31"/><circle cx="257.5" cy="58.6" r="2.17" stroke-opacity="0.45" fill-opacity="0.25"/><circle cx="229.1" cy="59.3" r="2.17" stroke-opacity="0.49" fill-opacity="0.27"/><circle cx="248.1" cy="37.6" r="2.17" stroke-opacity="0.53" fill-opacity="0.29"/><circle cx="224.3" cy="48.1" r="2.17" stroke-opacity="0.49" fill-opacity="0.27"/><circle cx="236.9" cy="66.1" r="2.17" stroke-opacity="0.52" fill-opacity="0.29"/><circle cx="249.9" cy="42.0" r="2.17" stroke-opacity="0.78" fill-opacity="0.43"/><circle cx="260.8" cy="62.6" r="2.17" stroke-opacity="0.42" fill-opacity="0.23"/><circle cx="258.9" cy="67.9" r="2.17" stroke-opacity="0.43" fill-opacity="0.24"/><circle cx="258.2" cy="65.4" r="2.17" stroke-opacity="0.53" fill-opacity="0.29"/><circle cx="250.9" cy="64.1" r="2.17" stroke-opacity="0.76" fill-opacity="0.42"/><circle cx="254.0" cy="64.9" r="2.17" stroke-opacity="0.59" fill-opacity="0.32"/><circle cx="242.4" cy="61.3" r="2.17" stroke-opacity="0.75" fill-opacity="0.41"/><circle cx="246.3" cy="49.8" r="2.17" stroke-opacity="0.59" fill-opacity="0.32"/><circle cx="241.7" cy="27.5" r="2.17" stroke-opacity="0.20" fill-opacity="0.11"/><circle cx="245.8" cy="27.5" r="2.17" stroke-opacity="0.25" fill-opacity="0.14"/><circle cx="249.9" cy="33.2" r="2.17" stroke-opacity="0.28" fill-opacity="0.15"/><circle cx="276.1" cy="37.7" r="2.17" stroke-opacity="0.16" fill-opacity="0.09"/><circle cx="271.4" cy="81.4" r="2.17" stroke-opacity="0.22" fill-opacity="0.12"/><circle cx="294.0" cy="86.1" r="2.17" stroke-opacity="0.22" fill-opacity="0.12"/><circle cx="278.2" cy="91.7" r="2.17" stroke-opacity="0.24" fill-opacity="0.13"/><circle cx="288.8" cy="91.1" r="2.17" stroke-opacity="0.30" fill-opacity="0.17"/><circle cx="243.7" cy="33.6" r="2.17" stroke-opacity="0.42" fill-opacity="0.23"/><circle cx="281.1" cy="44.9" r="2.17" stroke-opacity="0.66" fill-opacity="0.37"/><circle cx="268.7" cy="50.6" r="2.17" stroke-opacity="0.66" fill-opacity="0.36"/><circle cx="283.3" cy="94.3" r="2.17" stroke-opacity="0.60" fill-opacity="0.33"/><circle cx="299.1" cy="95.8" r="2.17" stroke-opacity="0.41" fill-opacity="0.23"/><circle cx="302.2" cy="95.8" r="2.17" stroke-opacity="0.47" fill-opacity="0.26"/><circle cx="304.2" cy="95.8" r="2.17" stroke-opacity="0.64" fill-opacity="0.35"/><circle cx="294.0" cy="101.9" r="2.17" stroke-opacity="0.46" fill-opacity="0.25"/><circle cx="297.1" cy="101.9" r="2.17" stroke-opacity="0.45" fill-opacity="0.24"/><circle cx="307.2" cy="81.3" r="2.17" stroke-opacity="0.69" fill-opacity="0.38"/><circle cx="247.4" cy="289.0" r="2.17" stroke-opacity="0.45" fill-opacity="0.25"/><circle cx="237.6" cy="268.5" r="2.17" stroke-opacity="0.51" fill-opacity="0.28"/><circle cx="274.0" cy="281.8" r="2.17" stroke-opacity="0.61" fill-opacity="0.33"/><circle cx="265.4" cy="279.8" r="2.17" stroke-opacity="0.86" fill-opacity="0.47"/><circle cx="281.9" cy="301.7" r="2.17" stroke-opacity="0.81" fill-opacity="0.44"/><circle cx="266.6" cy="287.9" r="2.17" stroke-opacity="0.25" fill-opacity="0.14"/><circle cx="264.3" cy="275.0" r="2.17" stroke-opacity="0.39" fill-opacity="0.22"/><circle cx="264.5" cy="303.6" r="2.17" stroke-opacity="0.86" fill-opacity="0.47"/><circle cx="273.5" cy="300.0" r="2.17" stroke-opacity="0.35" fill-opacity="0.19"/><circle cx="266.1" cy="291.0" r="2.17" stroke-opacity="0.56" fill-opacity="0.31"/><circle cx="253.1" cy="263.5" r="2.17" stroke-opacity="0.65" fill-opacity="0.36"/><circle cx="279.9" cy="282.4" r="2.17" stroke-opacity="0.43" fill-opacity="0.24"/><circle cx="245.9" cy="289.3" r="2.17" stroke-opacity="0.62" fill-opacity="0.34"/><circle cx="282.2" cy="288.2" r="2.17" stroke-opacity="0.90" fill-opacity="0.49"/><circle cx="258.6" cy="295.4" r="2.17" stroke-opacity="0.65" fill-opacity="0.36"/><circle cx="253.4" cy="263.3" r="2.17" stroke-opacity="0.52" fill-opacity="0.28"/><circle cx="256.8" cy="297.8" r="2.17" stroke-opacity="0.60" fill-opacity="0.33"/><circle cx="243.7" cy="289.6" r="2.17" stroke-opacity="0.55" fill-opacity="0.30"/><circle cx="267.5" cy="274.4" r="2.17" stroke-opacity="0.60" fill-opacity="0.33"/><circle cx="239.5" cy="264.8" r="2.17" stroke-opacity="0.62" fill-opacity="0.34"/><circle cx="249.9" cy="293.6" r="2.17" stroke-opacity="0.55" fill-opacity="0.31"/><circle cx="279.5" cy="280.2" r="2.17" stroke-opacity="0.34" fill-opacity="0.19"/><circle cx="283.6" cy="290.2" r="2.17" stroke-opacity="0.87" fill-opacity="0.48"/><circle cx="270.5" cy="264.3" r="2.17" stroke-opacity="0.32" fill-opacity="0.18"/><circle cx="256.5" cy="271.2" r="2.17" stroke-opacity="0.40" fill-opacity="0.22"/><circle cx="266.9" cy="284.7" r="2.17" stroke-opacity="0.74" fill-opacity="0.41"/><circle cx="254.6" cy="280.4" r="2.17" stroke-opacity="0.77" fill-opacity="0.42"/><circle cx="252.7" cy="286.2" r="2.17" stroke-opacity="0.34" fill-opacity="0.19"/><circle cx="266.6" cy="297.4" r="2.17" stroke-opacity="0.84" fill-opacity="0.46"/><circle cx="267.3" cy="283.4" r="2.17" stroke-opacity="0.87" fill-opacity="0.48"/><circle cx="269.0" cy="297.2" r="2.17" stroke-opacity="0.57" fill-opacity="0.32"/><circle cx="263.6" cy="300.9" r="2.17" stroke-opacity="0.34" fill-opacity="0.19"/><circle cx="248.2" cy="269.9" r="2.17" stroke-opacity="0.85" fill-opacity="0.47"/><circle cx="245.9" cy="264.6" r="2.17" stroke-opacity="0.32" fill-opacity="0.17"/><circle cx="248.4" cy="294.1" r="2.17" stroke-opacity="0.97" fill-opacity="0.53"/><circle cx="240.8" cy="274.3" r="2.17" stroke-opacity="0.31" fill-opacity="0.17"/><circle cx="269.7" cy="299.0" r="2.17" stroke-opacity="0.37" fill-opacity="0.21"/><circle cx="272.4" cy="272.3" r="2.17" stroke-opacity="0.54" fill-opacity="0.30"/><circle cx="240.2" cy="271.3" r="2.17" stroke-opacity="0.28" fill-opacity="0.15"/><circle cx="251.7" cy="273.7" r="2.17" stroke-opacity="0.76" fill-opacity="0.42"/><circle cx="281.8" cy="295.0" r="2.17" stroke-opacity="0.37" fill-opacity="0.20"/><circle cx="256.0" cy="278.3" r="2.17" stroke-opacity="0.59" fill-opacity="0.32"/><circle cx="241.3" cy="284.8" r="2.17" stroke-opacity="0.48" fill-opacity="0.26"/><circle cx="274.6" cy="284.8" r="2.17" stroke-opacity="0.77" fill-opacity="0.42"/><circle cx="237.0" cy="269.9" r="2.17" stroke-opacity="0.59" fill-opacity="0.32"/><circle cx="271.4" cy="288.4" r="2.17" stroke-opacity="0.55" fill-opacity="0.30"/><circle cx="271.3" cy="285.7" r="2.17" stroke-opacity="0.29" fill-opacity="0.16"/><circle cx="245.0" cy="269.8" r="2.17" stroke-opacity="0.56" fill-opacity="0.31"/><circle cx="269.4" cy="276.7" r="2.17" stroke-opacity="0.71" fill-opacity="0.39"/><circle cx="272.9" cy="270.4" r="2.17" stroke-opacity="0.28" fill-opacity="0.16"/><circle cx="240.8" cy="267.4" r="2.17" stroke-opacity="0.81" fill-opacity="0.44"/><circle cx="250.3" cy="292.9" r="2.17" stroke-opacity="0.27" fill-opacity="0.15"/><circle cx="233.6" cy="271.7" r="2.17" stroke-opacity="0.92" fill-opacity="0.51"/><circle cx="255.3" cy="289.2" r="2.17" stroke-opacity="0.49" fill-opacity="0.27"/><circle cx="260.8" cy="274.8" r="2.17" stroke-opacity="0.90" fill-opacity="0.49"/><circle cx="264.6" cy="286.2" r="2.17" stroke-opacity="0.69" fill-opacity="0.38"/><circle cx="242.6" cy="266.4" r="2.17" stroke-opacity="0.69" fill-opacity="0.38"/><circle cx="267.7" cy="274.3" r="2.17" stroke-opacity="0.79" fill-opacity="0.43"/><circle cx="277.5" cy="298.4" r="2.17" stroke-opacity="0.98" fill-opacity="0.54"/><circle cx="254.3" cy="295.6" r="2.17" stroke-opacity="0.45" fill-opacity="0.25"/><circle cx="252.5" cy="293.4" r="2.17" stroke-opacity="0.31" fill-opacity="0.17"/><circle cx="274.1" cy="274.4" r="2.17" stroke-opacity="0.54" fill-opacity="0.30"/><circle cx="246.6" cy="285.3" r="2.17" stroke-opacity="0.96" fill-opacity="0.53"/><circle cx="256.8" cy="279.1" r="2.17" stroke-opacity="0.38" fill-opacity="0.21"/><circle cx="268.7" cy="268.4" r="2.17" stroke-opacity="0.73" fill-opacity="0.40"/><circle cx="244.2" cy="277.6" r="2.17" stroke-opacity="0.37" fill-opacity="0.20"/><circle cx="238.2" cy="266.8" r="2.17" stroke-opacity="0.78" fill-opacity="0.43"/><circle cx="274.9" cy="298.1" r="2.17" stroke-opacity="0.85" fill-opacity="0.47"/><circle cx="276.1" cy="302.0" r="2.17" stroke-opacity="0.53" fill-opacity="0.29"/><circle cx="273.4" cy="284.6" r="2.17" stroke-opacity="0.80" fill-opacity="0.44"/><circle cx="283.8" cy="287.8" r="2.17" stroke-opacity="0.30" fill-opacity="0.16"/><circle cx="249.8" cy="285.0" r="2.17" stroke-opacity="0.52" fill-opacity="0.28"/><circle cx="255.8" cy="284.1" r="2.17" stroke-opacity="0.26" fill-opacity="0.14"/><circle cx="259.9" cy="297.7" r="2.17" stroke-opacity="0.33" fill-opacity="0.18"/><circle cx="244.4" cy="265.5" r="2.17" stroke-opacity="0.36" fill-opacity="0.20"/><circle cx="262.4" cy="292.3" r="2.17" stroke-opacity="0.89" fill-opacity="0.49"/><circle cx="280.9" cy="292.6" r="2.17" stroke-opacity="0.30" fill-opacity="0.16"/><circle cx="273.1" cy="278.9" r="2.17" stroke-opacity="0.90" fill-opacity="0.50"/><circle cx="242.4" cy="286.4" r="2.17" stroke-opacity="0.50" fill-opacity="0.27"/><circle cx="266.4" cy="274.9" r="2.17" stroke-opacity="0.85" fill-opacity="0.46"/><circle cx="243.3" cy="267.6" r="2.17" stroke-opacity="0.52" fill-opacity="0.29"/><circle cx="259.5" cy="297.6" r="2.17" stroke-opacity="0.69" fill-opacity="0.38"/><circle cx="276.7" cy="271.7" r="2.17" stroke-opacity="0.67" fill-opacity="0.37"/><circle cx="246.3" cy="275.9" r="2.17" stroke-opacity="0.34" fill-opacity="0.19"/><circle cx="271.8" cy="299.2" r="2.17" stroke-opacity="0.43" fill-opacity="0.23"/><circle cx="278.7" cy="281.6" r="2.17" stroke-opacity="0.27" fill-opacity="0.15"/><circle cx="260.8" cy="281.1" r="2.17" stroke-opacity="0.69" fill-opacity="0.38"/><circle cx="258.2" cy="294.1" r="2.17" stroke-opacity="1.00" fill-opacity="0.55"/><circle cx="281.4" cy="291.7" r="2.17" stroke-opacity="0.85" fill-opacity="0.47"/><circle cx="263.7" cy="269.4" r="2.17" stroke-opacity="0.54" fill-opacity="0.30"/><circle cx="236.6" cy="284.0" r="2.17" stroke-opacity="0.61" fill-opacity="0.34"/><circle cx="241.0" cy="280.3" r="2.17" stroke-opacity="0.56" fill-opacity="0.31"/><circle cx="272.4" cy="283.0" r="2.17" stroke-opacity="0.87" fill-opacity="0.48"/><circle cx="265.9" cy="303.3" r="2.17" stroke-opacity="0.90" fill-opacity="0.50"/><circle cx="255.8" cy="278.6" r="2.17" stroke-opacity="0.28" fill-opacity="0.15"/><circle cx="267.1" cy="288.9" r="2.17" stroke-opacity="0.74" fill-opacity="0.40"/><circle cx="273.2" cy="285.9" r="2.17" stroke-opacity="0.83" fill-opacity="0.46"/><circle cx="245.6" cy="267.5" r="2.17" stroke-opacity="0.27" fill-opacity="0.15"/><circle cx="244.7" cy="282.1" r="2.17" stroke-opacity="0.66" fill-opacity="0.36"/><circle cx="244.8" cy="276.0" r="2.17" stroke-opacity="0.42" fill-opacity="0.23"/><circle cx="266.6" cy="277.1" r="2.17" stroke-opacity="0.31" fill-opacity="0.17"/><circle cx="254.3" cy="266.6" r="2.17" stroke-opacity="0.35" fill-opacity="0.19"/><circle cx="257.7" cy="270.8" r="2.17" stroke-opacity="0.94" fill-opacity="0.52"/><circle cx="270.6" cy="296.6" r="2.17" stroke-opacity="0.66" fill-opacity="0.37"/><circle cx="250.5" cy="289.1" r="2.17" stroke-opacity="0.40" fill-opacity="0.22"/><circle cx="264.9" cy="264.2" r="2.17" stroke-opacity="0.92" fill-opacity="0.51"/><circle cx="255.0" cy="298.2" r="2.17" stroke-opacity="0.28" fill-opacity="0.15"/><circle cx="248.9" cy="297.0" r="2.17" stroke-opacity="0.46" fill-opacity="0.25"/><circle cx="280.8" cy="293.2" r="2.17" stroke-opacity="0.99" fill-opacity="0.55"/><circle cx="272.6" cy="269.3" r="2.17" stroke-opacity="0.63" fill-opacity="0.35"/><circle cx="235.9" cy="274.3" r="2.17" stroke-opacity="0.32" fill-opacity="0.18"/><circle cx="275.5" cy="295.2" r="2.17" stroke-opacity="0.31" fill-opacity="0.17"/><circle cx="250.4" cy="270.5" r="2.17" stroke-opacity="0.42" fill-opacity="0.23"/><circle cx="262.6" cy="292.9" r="2.17" stroke-opacity="0.53" fill-opacity="0.29"/><circle cx="264.6" cy="274.0" r="2.17" stroke-opacity="0.94" fill-opacity="0.52"/><circle cx="280.4" cy="288.9" r="2.17" stroke-opacity="0.88" fill-opacity="0.49"/><circle cx="245.7" cy="285.9" r="2.17" stroke-opacity="0.47" fill-opacity="0.26"/><circle cx="245.8" cy="270.7" r="2.17" stroke-opacity="0.34" fill-opacity="0.18"/><circle cx="275.3" cy="288.3" r="2.17" stroke-opacity="0.38" fill-opacity="0.21"/><circle cx="253.5" cy="293.3" r="2.17" stroke-opacity="0.89" fill-opacity="0.49"/><circle cx="277.5" cy="302.3" r="2.17" stroke-opacity="0.44" fill-opacity="0.24"/><circle cx="264.6" cy="302.0" r="2.17" stroke-opacity="0.45" fill-opacity="0.25"/><circle cx="235.6" cy="270.1" r="2.17" stroke-opacity="0.40" fill-opacity="0.22"/><circle cx="267.7" cy="293.6" r="2.17" stroke-opacity="0.39" fill-opacity="0.21"/><circle cx="252.3" cy="286.3" r="2.17" stroke-opacity="0.80" fill-opacity="0.44"/><circle cx="240.3" cy="272.2" r="2.17" stroke-opacity="0.39" fill-opacity="0.21"/><circle cx="248.9" cy="280.5" r="2.17" stroke-opacity="0.62" fill-opacity="0.34"/><circle cx="257.4" cy="289.1" r="2.17" stroke-opacity="0.53" fill-opacity="0.29"/><circle cx="236.7" cy="270.6" r="2.17" stroke-opacity="0.98" fill-opacity="0.54"/><circle cx="282.8" cy="281.3" r="2.17" stroke-opacity="0.72" fill-opacity="0.40"/><circle cx="256.3" cy="280.7" r="2.17" stroke-opacity="0.52" fill-opacity="0.29"/><circle cx="287.4" cy="296.8" r="2.17" stroke-opacity="0.75" fill-opacity="0.41"/><circle cx="244.3" cy="287.5" r="2.17" stroke-opacity="0.29" fill-opacity="0.16"/><circle cx="262.0" cy="273.4" r="2.17" stroke-opacity="0.49" fill-opacity="0.27"/><circle cx="242.6" cy="289.4" r="2.17" stroke-opacity="0.85" fill-opacity="0.47"/><circle cx="275.6" cy="302.0" r="2.17" stroke-opacity="0.62" fill-opacity="0.34"/><circle cx="233.0" cy="270.9" r="2.17" stroke-opacity="0.53" fill-opacity="0.29"/><circle cx="271.0" cy="290.1" r="2.17" stroke-opacity="0.52" fill-opacity="0.28"/><circle cx="254.9" cy="276.4" r="2.17" stroke-opacity="0.66" fill-opacity="0.36"/><circle cx="261.4" cy="274.2" r="2.17" stroke-opacity="0.97" fill-opacity="0.53"/><circle cx="260.6" cy="295.3" r="2.17" stroke-opacity="0.98" fill-opacity="0.54"/><circle cx="259.9" cy="290.0" r="2.17" stroke-opacity="0.81" fill-opacity="0.45"/><circle cx="251.0" cy="277.1" r="2.17" stroke-opacity="0.55" fill-opacity="0.30"/><circle cx="245.2" cy="279.2" r="2.17" stroke-opacity="0.81" fill-opacity="0.44"/><circle cx="239.3" cy="268.8" r="2.17" stroke-opacity="0.37" fill-opacity="0.20"/><circle cx="243.2" cy="274.7" r="2.17" stroke-opacity="0.79" fill-opacity="0.43"/><circle cx="237.4" cy="274.4" r="2.17" stroke-opacity="0.50" fill-opacity="0.28"/><circle cx="239.2" cy="297.0" r="2.17" stroke-opacity="0.96" fill-opacity="0.53"/><circle cx="253.5" cy="271.0" r="2.17" stroke-opacity="0.77" fill-opacity="0.42"/><circle cx="263.2" cy="293.4" r="2.17" stroke-opacity="0.63" fill-opacity="0.35"/><circle cx="243.4" cy="265.0" r="2.17" stroke-opacity="0.98" fill-opacity="0.54"/><circle cx="239.0" cy="284.7" r="2.17" stroke-opacity="0.90" fill-opacity="0.49"/><circle cx="237.8" cy="279.7" r="2.17" stroke-opacity="0.48" fill-opacity="0.26"/><circle cx="256.6" cy="286.2" r="2.17" stroke-opacity="0.62" fill-opacity="0.34"/><circle cx="245.4" cy="281.2" r="2.17" stroke-opacity="0.74" fill-opacity="0.41"/><circle cx="263.1" cy="278.3" r="2.17" stroke-opacity="0.53" fill-opacity="0.29"/><circle cx="261.8" cy="288.2" r="2.17" stroke-opacity="0.81" fill-opacity="0.45"/><circle cx="240.6" cy="293.7" r="2.17" stroke-opacity="0.72" fill-opacity="0.40"/><circle cx="244.1" cy="282.2" r="2.17" stroke-opacity="0.44" fill-opacity="0.24"/><circle cx="253.9" cy="268.7" r="2.17" stroke-opacity="0.55" fill-opacity="0.30"/><circle cx="257.6" cy="291.3" r="2.17" stroke-opacity="0.56" fill-opacity="0.31"/><circle cx="248.7" cy="290.6" r="2.17" stroke-opacity="0.70" fill-opacity="0.39"/><circle cx="262.4" cy="287.6" r="2.17" stroke-opacity="0.66" fill-opacity="0.36"/><circle cx="259.6" cy="274.0" r="2.17" stroke-opacity="0.76" fill-opacity="0.42"/><circle cx="245.0" cy="265.0" r="2.17" stroke-opacity="0.47" fill-opacity="0.26"/><circle cx="256.1" cy="299.1" r="2.17" stroke-opacity="0.96" fill-opacity="0.53"/><circle cx="253.6" cy="282.5" r="2.17" stroke-opacity="0.90" fill-opacity="0.50"/><circle cx="249.0" cy="282.6" r="2.17" stroke-opacity="0.71" fill-opacity="0.39"/><circle cx="248.5" cy="279.2" r="2.17" stroke-opacity="0.95" fill-opacity="0.52"/><circle cx="258.6" cy="269.7" r="2.17" stroke-opacity="0.75" fill-opacity="0.41"/><circle cx="257.9" cy="280.5" r="2.17" stroke-opacity="0.61" fill-opacity="0.33"/><circle cx="248.0" cy="273.4" r="2.17" stroke-opacity="0.64" fill-opacity="0.35"/><circle cx="256.6" cy="295.3" r="2.17" stroke-opacity="0.41" fill-opacity="0.23"/><circle cx="244.6" cy="268.7" r="2.17" stroke-opacity="0.52" fill-opacity="0.29"/><circle cx="247.0" cy="295.9" r="2.17" stroke-opacity="0.78" fill-opacity="0.43"/><circle cx="236.1" cy="281.2" r="2.17" stroke-opacity="0.57" fill-opacity="0.31"/><circle cx="259.1" cy="288.1" r="2.17" stroke-opacity="0.59" fill-opacity="0.32"/><circle cx="254.5" cy="287.3" r="2.17" stroke-opacity="0.75" fill-opacity="0.41"/><circle cx="259.4" cy="270.6" r="2.17" stroke-opacity="0.41" fill-opacity="0.23"/><circle cx="246.5" cy="288.6" r="2.17" stroke-opacity="0.75" fill-opacity="0.41"/><circle cx="245.7" cy="278.3" r="2.17" stroke-opacity="0.67" fill-opacity="0.37"/><circle cx="249.9" cy="271.5" r="2.17" stroke-opacity="0.89" fill-opacity="0.49"/><circle cx="254.0" cy="276.3" r="2.17" stroke-opacity="0.92" fill-opacity="0.50"/><circle cx="236.0" cy="279.0" r="2.17" stroke-opacity="0.44" fill-opacity="0.24"/><circle cx="250.0" cy="273.9" r="2.17" stroke-opacity="0.52" fill-opacity="0.29"/><circle cx="250.7" cy="281.7" r="2.17" stroke-opacity="0.97" fill-opacity="0.54"/><circle cx="248.6" cy="268.0" r="2.17" stroke-opacity="0.73" fill-opacity="0.40"/><circle cx="241.0" cy="268.1" r="2.17" stroke-opacity="0.80" fill-opacity="0.44"/><circle cx="238.6" cy="279.9" r="2.17" stroke-opacity="0.54" fill-opacity="0.30"/><circle cx="253.9" cy="269.0" r="2.17" stroke-opacity="0.57" fill-opacity="0.31"/><circle cx="248.4" cy="283.9" r="2.17" stroke-opacity="0.59" fill-opacity="0.33"/><circle cx="243.6" cy="280.6" r="2.17" stroke-opacity="0.48" fill-opacity="0.27"/><circle cx="241.2" cy="273.7" r="2.17" stroke-opacity="0.83" fill-opacity="0.46"/><circle cx="245.5" cy="289.0" r="2.17" stroke-opacity="0.77" fill-opacity="0.42"/><circle cx="248.6" cy="275.8" r="2.17" stroke-opacity="0.79" fill-opacity="0.43"/><circle cx="235.8" cy="272.8" r="2.17" stroke-opacity="0.86" fill-opacity="0.47"/><circle cx="257.7" cy="286.5" r="2.17" stroke-opacity="0.63" fill-opacity="0.35"/><circle cx="244.1" cy="285.1" r="2.17" stroke-opacity="0.79" fill-opacity="0.44"/><circle cx="249.4" cy="284.0" r="2.17" stroke-opacity="0.71" fill-opacity="0.39"/><circle cx="251.0" cy="282.9" r="2.17" stroke-opacity="0.79" fill-opacity="0.43"/><circle cx="248.8" cy="246.7" r="2.17" stroke-opacity="0.15" fill-opacity="0.08"/><circle cx="255.0" cy="248.1" r="2.17" stroke-opacity="0.21" fill-opacity="0.11"/><circle cx="235.5" cy="259.4" r="2.17" stroke-opacity="0.37" fill-opacity="0.21"/><circle cx="263.2" cy="256.3" r="2.17" stroke-opacity="0.31" fill-opacity="0.17"/><circle cx="280.6" cy="268.0" r="2.17" stroke-opacity="0.37" fill-opacity="0.20"/><circle cx="302.2" cy="266.6" r="2.17" stroke-opacity="0.39" fill-opacity="0.21"/><circle cx="285.8" cy="274.8" r="2.17" stroke-opacity="0.45" fill-opacity="0.25"/><circle cx="250.3" cy="255.7" r="2.17" stroke-opacity="0.81" fill-opacity="0.44"/><circle cx="226.3" cy="284.0" r="2.17" stroke-opacity="0.89" fill-opacity="0.49"/><circle cx="296.0" cy="281.6" r="2.17" stroke-opacity="0.95" fill-opacity="0.52"/><circle cx="310.8" cy="276.7" r="2.17" stroke-opacity="0.75" fill-opacity="0.41"/><circle cx="305.6" cy="320.8" r="2.17" stroke-opacity="0.24" fill-opacity="0.13"/><circle cx="420.1" cy="56.1" r="2.17" stroke-opacity="0.79" fill-opacity="0.44"/><circle cx="422.8" cy="67.5" r="2.17" stroke-opacity="0.54" fill-opacity="0.30"/><circle cx="427.4" cy="69.1" r="2.17" stroke-opacity="0.50" fill-opacity="0.27"/><circle cx="411.2" cy="44.2" r="2.17" stroke-opacity="0.76" fill-opacity="0.42"/><circle cx="421.9" cy="53.0" r="2.17" stroke-opacity="1.00" fill-opacity="0.55"/><circle cx="419.9" cy="48.8" r="2.17" stroke-opacity="0.68" fill-opacity="0.37"/><circle cx="420.0" cy="67.3" r="2.17" stroke-opacity="0.89" fill-opacity="0.49"/><circle cx="418.1" cy="44.9" r="2.17" stroke-opacity="0.75" fill-opacity="0.41"/><circle cx="421.3" cy="64.0" r="2.17" stroke-opacity="0.46" fill-opacity="0.25"/><circle cx="410.4" cy="44.6" r="2.17" stroke-opacity="0.61" fill-opacity="0.34"/><circle cx="429.0" cy="71.5" r="2.17" stroke-opacity="0.68" fill-opacity="0.37"/><circle cx="420.0" cy="64.4" r="2.17" stroke-opacity="0.74" fill-opacity="0.41"/><circle cx="411.7" cy="52.6" r="2.17" stroke-opacity="0.53" fill-opacity="0.29"/><circle cx="409.7" cy="54.9" r="2.17" stroke-opacity="0.99" fill-opacity="0.55"/><circle cx="427.7" cy="63.9" r="2.17" stroke-opacity="0.86" fill-opacity="0.47"/><circle cx="413.7" cy="53.0" r="2.17" stroke-opacity="0.59" fill-opacity="0.32"/><circle cx="414.2" cy="45.8" r="2.17" stroke-opacity="0.81" fill-opacity="0.45"/><circle cx="416.5" cy="66.6" r="2.17" stroke-opacity="0.70" fill-opacity="0.39"/><circle cx="430.1" cy="71.7" r="2.17" stroke-opacity="0.50" fill-opacity="0.27"/><circle cx="423.7" cy="67.4" r="2.17" stroke-opacity="0.88" fill-opacity="0.49"/><circle cx="419.2" cy="46.0" r="2.17" stroke-opacity="0.55" fill-opacity="0.30"/><circle cx="418.2" cy="45.1" r="2.17" stroke-opacity="0.60" fill-opacity="0.33"/><circle cx="410.5" cy="55.5" r="2.17" stroke-opacity="0.84" fill-opacity="0.46"/><circle cx="420.0" cy="70.7" r="2.17" stroke-opacity="0.81" fill-opacity="0.45"/><circle cx="430.8" cy="70.5" r="2.17" stroke-opacity="0.87" fill-opacity="0.48"/><circle cx="411.5" cy="45.0" r="2.17" stroke-opacity="0.57" fill-opacity="0.32"/><circle cx="415.6" cy="58.1" r="2.17" stroke-opacity="0.56" fill-opacity="0.31"/><circle cx="419.0" cy="71.3" r="2.17" stroke-opacity="0.74" fill-opacity="0.40"/><circle cx="417.9" cy="53.3" r="2.17" stroke-opacity="0.55" fill-opacity="0.30"/><circle cx="413.1" cy="66.2" r="2.17" stroke-opacity="0.55" fill-opacity="0.30"/><circle cx="415.4" cy="54.9" r="2.17" stroke-opacity="0.78" fill-opacity="0.43"/><circle cx="408.3" cy="55.4" r="2.17" stroke-opacity="0.56" fill-opacity="0.31"/><circle cx="412.7" cy="60.5" r="2.17" stroke-opacity="0.60" fill-opacity="0.33"/><circle cx="417.9" cy="48.8" r="2.17" stroke-opacity="0.49" fill-opacity="0.27"/><circle cx="414.7" cy="52.1" r="2.17" stroke-opacity="0.65" fill-opacity="0.36"/><circle cx="418.7" cy="49.0" r="2.17" stroke-opacity="0.79" fill-opacity="0.44"/><circle cx="410.9" cy="53.6" r="2.17" stroke-opacity="0.52" fill-opacity="0.28"/><circle cx="423.4" cy="53.2" r="2.17" stroke-opacity="0.78" fill-opacity="0.43"/><circle cx="430.4" cy="71.9" r="2.17" stroke-opacity="0.71" fill-opacity="0.39"/><circle cx="414.9" cy="53.7" r="2.17" stroke-opacity="0.64" fill-opacity="0.35"/><circle cx="416.2" cy="58.4" r="2.17" stroke-opacity="0.76" fill-opacity="0.42"/><circle cx="413.8" cy="62.3" r="2.17" stroke-opacity="0.72" fill-opacity="0.40"/><circle cx="425.4" cy="67.6" r="2.17" stroke-opacity="0.53" fill-opacity="0.29"/><circle cx="419.7" cy="47.2" r="2.17" stroke-opacity="0.66" fill-opacity="0.37"/><circle cx="427.6" cy="65.1" r="2.17" stroke-opacity="0.45" fill-opacity="0.25"/><circle cx="421.8" cy="68.9" r="2.17" stroke-opacity="0.98" fill-opacity="0.54"/><circle cx="411.8" cy="53.4" r="2.17" stroke-opacity="0.74" fill-opacity="0.41"/><circle cx="409.8" cy="51.6" r="2.17" stroke-opacity="0.63" fill-opacity="0.35"/><circle cx="412.2" cy="50.9" r="2.17" stroke-opacity="0.68" fill-opacity="0.38"/><circle cx="429.0" cy="67.1" r="2.17" stroke-opacity="0.50" fill-opacity="0.28"/><circle cx="415.8" cy="47.9" r="2.17" stroke-opacity="0.68" fill-opacity="0.37"/><circle cx="418.7" cy="63.4" r="2.17" stroke-opacity="0.98" fill-opacity="0.54"/><circle cx="421.3" cy="64.2" r="2.17" stroke-opacity="0.64" fill-opacity="0.35"/><circle cx="414.9" cy="59.3" r="2.17" stroke-opacity="0.91" fill-opacity="0.50"/><circle cx="423.6" cy="52.7" r="2.17" stroke-opacity="0.72" fill-opacity="0.40"/><circle cx="421.9" cy="67.6" r="2.17" stroke-opacity="0.47" fill-opacity="0.26"/><circle cx="420.0" cy="46.4" r="2.17" stroke-opacity="0.87" fill-opacity="0.48"/><circle cx="428.2" cy="72.3" r="2.17" stroke-opacity="0.85" fill-opacity="0.47"/><circle cx="422.8" cy="53.1" r="2.17" stroke-opacity="0.94" fill-opacity="0.52"/><circle cx="412.8" cy="62.1" r="2.17" stroke-opacity="0.63" fill-opacity="0.35"/><circle cx="428.0" cy="69.8" r="2.17" stroke-opacity="0.71" fill-opacity="0.39"/><circle cx="409.4" cy="61.2" r="2.17" stroke-opacity="0.74" fill-opacity="0.41"/><circle cx="423.1" cy="69.7" r="2.17" stroke-opacity="0.49" fill-opacity="0.27"/><circle cx="415.7" cy="52.6" r="2.17" stroke-opacity="0.89" fill-opacity="0.49"/><circle cx="422.1" cy="66.2" r="2.17" stroke-opacity="0.60" fill-opacity="0.33"/><circle cx="418.7" cy="48.0" r="2.17" stroke-opacity="0.51" fill-opacity="0.28"/><circle cx="414.5" cy="42.6" r="2.17" stroke-opacity="0.59" fill-opacity="0.33"/><circle cx="428.8" cy="70.0" r="2.17" stroke-opacity="0.52" fill-opacity="0.29"/><circle cx="410.2" cy="44.2" r="2.17" stroke-opacity="0.96" fill-opacity="0.53"/><circle cx="414.8" cy="65.6" r="2.17" stroke-opacity="0.85" fill-opacity="0.47"/><circle cx="409.7" cy="54.0" r="2.17" stroke-opacity="0.61" fill-opacity="0.33"/><circle cx="414.5" cy="65.2" r="2.17" stroke-opacity="0.54" fill-opacity="0.29"/><circle cx="422.9" cy="54.9" r="2.17" stroke-opacity="0.90" fill-opacity="0.49"/><circle cx="410.9" cy="57.0" r="2.17" stroke-opacity="0.65" fill-opacity="0.36"/><circle cx="416.4" cy="47.5" r="2.17" stroke-opacity="0.66" fill-opacity="0.36"/><circle cx="409.9" cy="48.5" r="2.17" stroke-opacity="0.54" fill-opacity="0.30"/><circle cx="427.2" cy="65.7" r="2.17" stroke-opacity="0.75" fill-opacity="0.41"/><circle cx="425.1" cy="73.0" r="2.17" stroke-opacity="0.65" fill-opacity="0.36"/><circle cx="416.1" cy="64.5" r="2.17" stroke-opacity="0.88" fill-opacity="0.48"/><circle cx="422.8" cy="62.4" r="2.17" stroke-opacity="0.94" fill-opacity="0.51"/><circle cx="413.1" cy="65.3" r="2.17" stroke-opacity="0.97" fill-opacity="0.53"/><circle cx="422.4" cy="63.0" r="2.17" stroke-opacity="0.48" fill-opacity="0.26"/><circle cx="418.0" cy="60.5" r="2.17" stroke-opacity="0.95" fill-opacity="0.52"/><circle cx="425.9" cy="70.2" r="2.17" stroke-opacity="0.58" fill-opacity="0.32"/><circle cx="413.0" cy="57.2" r="2.17" stroke-opacity="0.65" fill-opacity="0.36"/><circle cx="411.5" cy="46.5" r="2.17" stroke-opacity="0.97" fill-opacity="0.53"/><circle cx="412.5" cy="42.7" r="2.17" stroke-opacity="0.60" fill-opacity="0.33"/><circle cx="420.9" cy="63.0" r="2.17" stroke-opacity="0.48" fill-opacity="0.27"/><circle cx="421.3" cy="62.2" r="2.17" stroke-opacity="0.85" fill-opacity="0.47"/><circle cx="413.0" cy="44.3" r="2.17" stroke-opacity="0.46" fill-opacity="0.25"/><circle cx="422.5" cy="62.7" r="2.17" stroke-opacity="0.97" fill-opacity="0.54"/><circle cx="428.4" cy="71.1" r="2.17" stroke-opacity="0.76" fill-opacity="0.42"/><circle cx="424.3" cy="67.8" r="2.17" stroke-opacity="0.49" fill-opacity="0.27"/><circle cx="418.9" cy="61.6" r="2.17" stroke-opacity="0.68" fill-opacity="0.37"/><circle cx="422.6" cy="62.1" r="2.17" stroke-opacity="0.80" fill-opacity="0.44"/><circle cx="435.2" cy="73.2" r="2.17" stroke-opacity="0.41" fill-opacity="0.23"/><circle cx="431.9" cy="73.5" r="2.17" stroke-opacity="0.60" fill-opacity="0.33"/><circle cx="437.8" cy="77.5" r="2.17" stroke-opacity="0.53" fill-opacity="0.29"/><circle cx="444.2" cy="82.5" r="2.17" stroke-opacity="0.51" fill-opacity="0.28"/><circle cx="440.0" cy="79.2" r="2.17" stroke-opacity="0.60" fill-opacity="0.33"/><circle cx="437.4" cy="77.3" r="2.17" stroke-opacity="0.45" fill-opacity="0.25"/><circle cx="435.2" cy="71.1" r="2.17" stroke-opacity="0.64" fill-opacity="0.35"/><circle cx="429.7" cy="75.9" r="2.17" stroke-opacity="0.65" fill-opacity="0.36"/><circle cx="444.4" cy="75.9" r="2.17" stroke-opacity="0.70" fill-opacity="0.38"/><circle cx="434.1" cy="75.2" r="2.17" stroke-opacity="0.50" fill-opacity="0.27"/><circle cx="428.8" cy="71.4" r="2.17" stroke-opacity="0.62" fill-opacity="0.34"/><circle cx="430.7" cy="75.3" r="2.17" stroke-opacity="0.58" fill-opacity="0.32"/><circle cx="429.5" cy="69.4" r="2.17" stroke-opacity="0.36" fill-opacity="0.20"/><circle cx="438.9" cy="73.3" r="2.17" stroke-opacity="0.52" fill-opacity="0.29"/><circle cx="434.7" cy="80.2" r="2.17" stroke-opacity="0.47" fill-opacity="0.26"/><circle cx="435.7" cy="72.7" r="2.17" stroke-opacity="0.38" fill-opacity="0.21"/><circle cx="432.8" cy="70.9" r="2.17" stroke-opacity="0.42" fill-opacity="0.23"/><circle cx="443.0" cy="79.5" r="2.17" stroke-opacity="0.35" fill-opacity="0.19"/><circle cx="434.2" cy="79.3" r="2.17" stroke-opacity="0.49" fill-opacity="0.27"/><circle cx="436.2" cy="74.3" r="2.17" stroke-opacity="0.31" fill-opacity="0.17"/><circle cx="440.0" cy="82.7" r="2.17" stroke-opacity="0.53" fill-opacity="0.29"/><circle cx="435.7" cy="74.0" r="2.17" stroke-opacity="0.47" fill-opacity="0.26"/><circle cx="439.9" cy="73.1" r="2.17" stroke-opacity="0.56" fill-opacity="0.31"/><circle cx="434.0" cy="79.4" r="2.17" stroke-opacity="0.66" fill-opacity="0.36"/><circle cx="427.0" cy="70.5" r="2.17" stroke-opacity="0.36" fill-opacity="0.20"/><circle cx="437.2" cy="55.5" r="2.17" stroke-opacity="0.42" fill-opacity="0.23"/><circle cx="460.5" cy="79.5" r="2.17" stroke-opacity="0.43" fill-opacity="0.23"/><circle cx="444.9" cy="50.9" r="2.17" stroke-opacity="0.19" fill-opacity="0.10"/><circle cx="455.6" cy="70.7" r="2.17" stroke-opacity="0.30" fill-opacity="0.16"/><circle cx="438.9" cy="65.4" r="2.17" stroke-opacity="0.33" fill-opacity="0.18"/><circle cx="461.5" cy="76.9" r="2.17" stroke-opacity="0.15" fill-opacity="0.08"/><circle cx="460.8" cy="71.9" r="2.17" stroke-opacity="0.22" fill-opacity="0.12"/><circle cx="441.0" cy="68.8" r="2.17" stroke-opacity="0.23" fill-opacity="0.12"/><circle cx="439.6" cy="49.2" r="2.17" stroke-opacity="0.40" fill-opacity="0.22"/><circle cx="447.3" cy="61.7" r="2.17" stroke-opacity="0.17" fill-opacity="0.09"/><circle cx="456.1" cy="69.6" r="2.17" stroke-opacity="0.17" fill-opacity="0.10"/><circle cx="447.1" cy="70.7" r="2.17" stroke-opacity="0.23" fill-opacity="0.13"/><circle cx="438.1" cy="63.3" r="2.17" stroke-opacity="0.32" fill-opacity="0.18"/><circle cx="445.3" cy="50.2" r="2.17" stroke-opacity="0.26" fill-opacity="0.14"/><circle cx="440.8" cy="52.3" r="2.17" stroke-opacity="0.27" fill-opacity="0.15"/><circle cx="460.9" cy="80.8" r="2.17" stroke-opacity="0.17" fill-opacity="0.10"/><circle cx="440.1" cy="60.8" r="2.17" stroke-opacity="0.34" fill-opacity="0.19"/><circle cx="442.1" cy="49.9" r="2.17" stroke-opacity="0.30" fill-opacity="0.17"/><circle cx="458.9" cy="61.3" r="2.17" stroke-opacity="0.35" fill-opacity="0.19"/><circle cx="461.9" cy="79.9" r="2.17" stroke-opacity="0.29" fill-opacity="0.16"/><circle cx="436.7" cy="52.0" r="2.17" stroke-opacity="0.43" fill-opacity="0.24"/><circle cx="450.9" cy="74.7" r="2.17" stroke-opacity="0.36" fill-opacity="0.20"/><circle cx="446.0" cy="68.7" r="2.17" stroke-opacity="0.25" fill-opacity="0.14"/><circle cx="437.4" cy="60.1" r="2.17" stroke-opacity="0.22" fill-opacity="0.12"/><circle cx="436.2" cy="52.7" r="2.17" stroke-opacity="0.25" fill-opacity="0.14"/><circle cx="447.6" cy="62.3" r="2.17" stroke-opacity="0.24" fill-opacity="0.13"/><circle cx="445.1" cy="38.2" r="2.17" stroke-opacity="0.26" fill-opacity="0.14"/><circle cx="441.0" cy="43.3" r="2.17" stroke-opacity="0.15" fill-opacity="0.08"/><circle cx="467.7" cy="78.8" r="2.17" stroke-opacity="0.22" fill-opacity="0.12"/><circle cx="476.3" cy="78.2" r="2.17" stroke-opacity="0.16" fill-opacity="0.09"/><circle cx="438.6" cy="105.5" r="2.17" stroke-opacity="0.21" fill-opacity="0.11"/><circle cx="435.9" cy="48.9" r="2.17" stroke-opacity="0.59" fill-opacity="0.32"/><circle cx="442.1" cy="50.5" r="2.17" stroke-opacity="0.42" fill-opacity="0.23"/><circle cx="445.5" cy="51.5" r="2.17" stroke-opacity="0.44" fill-opacity="0.24"/><circle cx="449.2" cy="51.5" r="2.17" stroke-opacity="0.55" fill-opacity="0.30"/><circle cx="464.6" cy="57.1" r="2.17" stroke-opacity="0.47" fill-opacity="0.26"/><circle cx="452.3" cy="59.7" r="2.17" stroke-opacity="0.44" fill-opacity="0.24"/><circle cx="455.4" cy="60.8" r="2.17" stroke-opacity="0.66" fill-opacity="0.36"/><circle cx="459.5" cy="65.9" r="2.17" stroke-opacity="0.65" fill-opacity="0.36"/><circle cx="455.4" cy="74.1" r="2.17" stroke-opacity="0.60" fill-opacity="0.33"/><circle cx="461.5" cy="77.2" r="2.17" stroke-opacity="0.64" fill-opacity="0.35"/><circle cx="479.0" cy="82.9" r="2.17" stroke-opacity="0.57" fill-opacity="0.31"/><circle cx="458.5" cy="89.5" r="2.17" stroke-opacity="0.45" fill-opacity="0.25"/><circle cx="450.3" cy="94.6" r="2.17" stroke-opacity="0.45" fill-opacity="0.25"/><circle cx="452.3" cy="92.6" r="2.17" stroke-opacity="0.49" fill-opacity="0.27"/><circle cx="432.8" cy="56.7" r="2.17" stroke-opacity="0.94" fill-opacity="0.52"/><circle cx="456.4" cy="69.0" r="2.17" stroke-opacity="0.91" fill-opacity="0.50"/><circle cx="444.1" cy="89.5" r="2.17" stroke-opacity="0.77" fill-opacity="0.42"/><circle cx="447.2" cy="88.5" r="2.17" stroke-opacity="0.93" fill-opacity="0.51"/><circle cx="455.4" cy="97.7" r="2.17" stroke-opacity="0.76" fill-opacity="0.42"/><circle cx="457.4" cy="99.7" r="2.17" stroke-opacity="0.72" fill-opacity="0.40"/><circle cx="458.5" cy="101.8" r="2.17" stroke-opacity="0.80" fill-opacity="0.44"/><circle cx="416.8" cy="282.6" r="2.17" stroke-opacity="0.49" fill-opacity="0.27"/><circle cx="405.7" cy="286.7" r="2.17" stroke-opacity="0.93" fill-opacity="0.51"/><circle cx="412.9" cy="264.6" r="2.17" stroke-opacity="0.95" fill-opacity="0.52"/><circle cx="415.5" cy="271.1" r="2.17" stroke-opacity="0.88" fill-opacity="0.48"/><circle cx="405.1" cy="279.5" r="2.17" stroke-opacity="0.74" fill-opacity="0.41"/><circle cx="411.6" cy="285.0" r="2.17" stroke-opacity="0.63" fill-opacity="0.34"/><circle cx="418.4" cy="276.5" r="2.17" stroke-opacity="0.57" fill-opacity="0.31"/><circle cx="409.8" cy="273.8" r="2.17" stroke-opacity="0.93" fill-opacity="0.51"/><circle cx="423.9" cy="291.2" r="2.17" stroke-opacity="0.63" fill-opacity="0.35"/><circle cx="417.6" cy="296.1" r="2.17" stroke-opacity="0.91" fill-opacity="0.50"/><circle cx="429.7" cy="291.5" r="2.17" stroke-opacity="0.74" fill-opacity="0.40"/><circle cx="407.2" cy="270.1" r="2.17" stroke-opacity="0.59" fill-opacity="0.32"/><circle cx="415.3" cy="286.5" r="2.17" stroke-opacity="0.61" fill-opacity="0.33"/><circle cx="414.4" cy="282.7" r="2.17" stroke-opacity="0.50" fill-opacity="0.28"/><circle cx="415.4" cy="288.3" r="2.17" stroke-opacity="0.99" fill-opacity="0.54"/><circle cx="410.6" cy="284.2" r="2.17" stroke-opacity="0.49" fill-opacity="0.27"/><circle cx="423.0" cy="280.3" r="2.17" stroke-opacity="0.90" fill-opacity="0.50"/><circle cx="423.6" cy="289.0" r="2.17" stroke-opacity="0.57" fill-opacity="0.32"/><circle cx="418.2" cy="275.7" r="2.17" stroke-opacity="0.87" fill-opacity="0.48"/><circle cx="424.4" cy="283.9" r="2.17" stroke-opacity="0.71" fill-opacity="0.39"/><circle cx="421.8" cy="285.3" r="2.17" stroke-opacity="0.93" fill-opacity="0.51"/><circle cx="415.8" cy="291.4" r="2.17" stroke-opacity="0.56" fill-opacity="0.31"/><circle cx="410.3" cy="282.7" r="2.17" stroke-opacity="0.56" fill-opacity="0.31"/><circle cx="419.0" cy="281.3" r="2.17" stroke-opacity="0.67" fill-opacity="0.37"/><circle cx="420.6" cy="281.2" r="2.17" stroke-opacity="0.78" fill-opacity="0.43"/><circle cx="419.7" cy="278.0" r="2.17" stroke-opacity="0.93" fill-opacity="0.51"/><circle cx="410.5" cy="269.4" r="2.17" stroke-opacity="0.92" fill-opacity="0.51"/><circle cx="422.6" cy="299.0" r="2.17" stroke-opacity="0.84" fill-opacity="0.46"/><circle cx="419.5" cy="285.8" r="2.17" stroke-opacity="0.58" fill-opacity="0.32"/><circle cx="404.2" cy="279.2" r="2.17" stroke-opacity="0.60" fill-opacity="0.33"/><circle cx="431.3" cy="292.7" r="2.17" stroke-opacity="0.83" fill-opacity="0.46"/><circle cx="407.5" cy="275.5" r="2.17" stroke-opacity="0.57" fill-opacity="0.32"/><circle cx="407.3" cy="280.4" r="2.17" stroke-opacity="0.77" fill-opacity="0.42"/><circle cx="421.2" cy="288.9" r="2.17" stroke-opacity="0.88" fill-opacity="0.48"/><circle cx="409.1" cy="267.2" r="2.17" stroke-opacity="0.50" fill-opacity="0.28"/><circle cx="429.8" cy="290.3" r="2.17" stroke-opacity="0.78" fill-opacity="0.43"/><circle cx="407.5" cy="267.0" r="2.17" stroke-opacity="0.47" fill-opacity="0.26"/><circle cx="431.7" cy="293.6" r="2.17" stroke-opacity="0.56" fill-opacity="0.31"/><circle cx="423.7" cy="283.1" r="2.17" stroke-opacity="0.56" fill-opacity="0.31"/><circle cx="409.4" cy="283.7" r="2.17" stroke-opacity="0.89" fill-opacity="0.49"/><circle cx="419.6" cy="295.7" r="2.17" stroke-opacity="0.99" fill-opacity="0.55"/><circle cx="416.6" cy="297.2" r="2.17" stroke-opacity="0.69" fill-opacity="0.38"/><circle cx="420.6" cy="295.0" r="2.17" stroke-opacity="0.97" fill-opacity="0.53"/><circle cx="424.4" cy="289.0" r="2.17" stroke-opacity="0.84" fill-opacity="0.46"/><circle cx="420.1" cy="276.8" r="2.17" stroke-opacity="0.85" fill-opacity="0.47"/><circle cx="412.2" cy="279.9" r="2.17" stroke-opacity="0.75" fill-opacity="0.41"/><circle cx="418.3" cy="293.5" r="2.17" stroke-opacity="0.80" fill-opacity="0.44"/><circle cx="417.4" cy="294.0" r="2.17" stroke-opacity="0.64" fill-opacity="0.35"/><circle cx="409.6" cy="278.3" r="2.17" stroke-opacity="0.92" fill-opacity="0.51"/><circle cx="416.5" cy="293.3" r="2.17" stroke-opacity="0.70" fill-opacity="0.38"/><circle cx="406.4" cy="275.7" r="2.17" stroke-opacity="0.62" fill-opacity="0.34"/><circle cx="424.0" cy="286.2" r="2.17" stroke-opacity="0.82" fill-opacity="0.45"/><circle cx="406.7" cy="287.6" r="2.17" stroke-opacity="0.97" fill-opacity="0.54"/><circle cx="416.8" cy="284.0" r="2.17" stroke-opacity="0.59" fill-opacity="0.33"/><circle cx="413.7" cy="276.6" r="2.17" stroke-opacity="0.77" fill-opacity="0.42"/><circle cx="409.6" cy="270.6" r="2.17" stroke-opacity="0.66" fill-opacity="0.36"/><circle cx="416.2" cy="285.1" r="2.17" stroke-opacity="0.78" fill-opacity="0.43"/><circle cx="427.8" cy="286.5" r="2.17" stroke-opacity="0.49" fill-opacity="0.27"/><circle cx="417.4" cy="272.6" r="2.17" stroke-opacity="0.78" fill-opacity="0.43"/><circle cx="405.6" cy="282.0" r="2.17" stroke-opacity="1.00" fill-opacity="0.55"/><circle cx="421.0" cy="289.8" r="2.17" stroke-opacity="0.92" fill-opacity="0.50"/><circle cx="414.2" cy="295.6" r="2.17" stroke-opacity="0.67" fill-opacity="0.37"/><circle cx="432.3" cy="292.4" r="2.17" stroke-opacity="0.49" fill-opacity="0.27"/><circle cx="423.9" cy="297.4" r="2.17" stroke-opacity="0.54" fill-opacity="0.30"/><circle cx="410.7" cy="275.1" r="2.17" stroke-opacity="0.55" fill-opacity="0.30"/><circle cx="414.4" cy="277.3" r="2.17" stroke-opacity="0.69" fill-opacity="0.38"/><circle cx="414.9" cy="280.4" r="2.17" stroke-opacity="0.65" fill-opacity="0.36"/><circle cx="419.4" cy="291.6" r="2.17" stroke-opacity="0.78" fill-opacity="0.43"/><circle cx="410.4" cy="281.4" r="2.17" stroke-opacity="0.98" fill-opacity="0.54"/><circle cx="412.1" cy="276.6" r="2.17" stroke-opacity="0.54" fill-opacity="0.30"/><circle cx="415.8" cy="293.1" r="2.17" stroke-opacity="0.62" fill-opacity="0.34"/><circle cx="410.3" cy="286.6" r="2.17" stroke-opacity="0.53" fill-opacity="0.29"/><circle cx="406.7" cy="282.8" r="2.17" stroke-opacity="0.74" fill-opacity="0.41"/><circle cx="424.8" cy="287.8" r="2.17" stroke-opacity="0.71" fill-opacity="0.39"/><circle cx="428.6" cy="290.3" r="2.17" stroke-opacity="0.56" fill-opacity="0.31"/><circle cx="426.5" cy="296.8" r="2.17" stroke-opacity="0.50" fill-opacity="0.27"/><circle cx="419.9" cy="286.9" r="2.17" stroke-opacity="0.73" fill-opacity="0.40"/><circle cx="428.6" cy="285.4" r="2.17" stroke-opacity="0.46" fill-opacity="0.26"/><circle cx="407.0" cy="270.2" r="2.17" stroke-opacity="0.79" fill-opacity="0.44"/><circle cx="420.2" cy="275.8" r="2.17" stroke-opacity="0.56" fill-opacity="0.31"/><circle cx="414.2" cy="283.7" r="2.17" stroke-opacity="0.84" fill-opacity="0.46"/><circle cx="429.2" cy="288.7" r="2.17" stroke-opacity="0.82" fill-opacity="0.45"/><circle cx="410.0" cy="278.4" r="2.17" stroke-opacity="0.69" fill-opacity="0.38"/><circle cx="413.6" cy="278.2" r="2.17" stroke-opacity="0.96" fill-opacity="0.53"/><circle cx="420.2" cy="293.4" r="2.17" stroke-opacity="0.67" fill-opacity="0.37"/><circle cx="415.1" cy="287.0" r="2.17" stroke-opacity="0.48" fill-opacity="0.27"/><circle cx="422.6" cy="280.4" r="2.17" stroke-opacity="0.93" fill-opacity="0.51"/><circle cx="416.8" cy="293.7" r="2.17" stroke-opacity="0.72" fill-opacity="0.39"/><circle cx="422.2" cy="285.7" r="2.17" stroke-opacity="0.51" fill-opacity="0.28"/><circle cx="414.4" cy="265.3" r="2.17" stroke-opacity="0.96" fill-opacity="0.53"/><circle cx="417.4" cy="270.6" r="2.17" stroke-opacity="0.62" fill-opacity="0.34"/><circle cx="412.2" cy="277.2" r="2.17" stroke-opacity="0.74" fill-opacity="0.40"/><circle cx="422.2" cy="293.5" r="2.17" stroke-opacity="0.98" fill-opacity="0.54"/><circle cx="421.4" cy="280.5" r="2.17" stroke-opacity="0.73" fill-opacity="0.40"/><circle cx="417.0" cy="276.6" r="2.17" stroke-opacity="0.74" fill-opacity="0.41"/><circle cx="410.3" cy="266.1" r="2.17" stroke-opacity="0.86" fill-opacity="0.47"/><circle cx="417.3" cy="292.0" r="2.17" stroke-opacity="0.86" fill-opacity="0.47"/><circle cx="415.6" cy="283.8" r="2.17" stroke-opacity="0.80" fill-opacity="0.44"/><circle cx="409.9" cy="281.2" r="2.17" stroke-opacity="0.90" fill-opacity="0.49"/><circle cx="430.8" cy="296.6" r="2.17" stroke-opacity="0.69" fill-opacity="0.38"/><circle cx="433.3" cy="304.4" r="2.17" stroke-opacity="0.38" fill-opacity="0.21"/><circle cx="443.4" cy="304.5" r="2.17" stroke-opacity="0.67" fill-opacity="0.37"/><circle cx="432.6" cy="304.4" r="2.17" stroke-opacity="0.39" fill-opacity="0.21"/><circle cx="433.3" cy="293.3" r="2.17" stroke-opacity="0.38" fill-opacity="0.21"/><circle cx="430.9" cy="293.9" r="2.17" stroke-opacity="0.66" fill-opacity="0.36"/><circle cx="439.2" cy="297.9" r="2.17" stroke-opacity="0.66" fill-opacity="0.36"/><circle cx="434.4" cy="295.5" r="2.17" stroke-opacity="0.61" fill-opacity="0.34"/><circle cx="425.7" cy="296.4" r="2.17" stroke-opacity="0.33" fill-opacity="0.18"/><circle cx="435.5" cy="295.4" r="2.17" stroke-opacity="0.63" fill-opacity="0.35"/><circle cx="431.2" cy="298.6" r="2.17" stroke-opacity="0.35" fill-opacity="0.19"/><circle cx="440.2" cy="297.7" r="2.17" stroke-opacity="0.63" fill-opacity="0.34"/><circle cx="439.9" cy="302.9" r="2.17" stroke-opacity="0.66" fill-opacity="0.36"/><circle cx="439.2" cy="297.9" r="2.17" stroke-opacity="0.51" fill-opacity="0.28"/><circle cx="437.1" cy="300.5" r="2.17" stroke-opacity="0.55" fill-opacity="0.30"/><circle cx="445.6" cy="308.1" r="2.17" stroke-opacity="0.61" fill-opacity="0.34"/><circle cx="425.7" cy="296.5" r="2.17" stroke-opacity="0.56" fill-opacity="0.31"/><circle cx="431.1" cy="301.6" r="2.17" stroke-opacity="0.35" fill-opacity="0.19"/><circle cx="439.0" cy="305.3" r="2.17" stroke-opacity="0.43" fill-opacity="0.24"/><circle cx="437.8" cy="302.3" r="2.17" stroke-opacity="0.42" fill-opacity="0.23"/><circle cx="432.7" cy="303.5" r="2.17" stroke-opacity="0.66" fill-opacity="0.36"/><circle cx="440.7" cy="304.4" r="2.17" stroke-opacity="0.52" fill-opacity="0.29"/><circle cx="437.2" cy="305.7" r="2.17" stroke-opacity="0.48" fill-opacity="0.26"/><circle cx="436.5" cy="305.4" r="2.17" stroke-opacity="0.49" fill-opacity="0.27"/><circle cx="435.9" cy="300.4" r="2.17" stroke-opacity="0.42" fill-opacity="0.23"/><circle cx="438.1" cy="300.7" r="2.17" stroke-opacity="0.45" fill-opacity="0.25"/><circle cx="443.1" cy="261.9" r="2.17" stroke-opacity="0.32" fill-opacity="0.17"/><circle cx="441.0" cy="265.4" r="2.17" stroke-opacity="0.35" fill-opacity="0.19"/><circle cx="450.3" cy="274.7" r="2.17" stroke-opacity="0.17" fill-opacity="0.10"/><circle cx="444.1" cy="280.8" r="2.17" stroke-opacity="0.21" fill-opacity="0.12"/><circle cx="454.4" cy="280.8" r="2.17" stroke-opacity="0.30" fill-opacity="0.16"/><circle cx="458.5" cy="284.9" r="2.17" stroke-opacity="0.19" fill-opacity="0.11"/><circle cx="457.4" cy="291.1" r="2.17" stroke-opacity="0.36" fill-opacity="0.20"/><circle cx="461.5" cy="290.1" r="2.17" stroke-opacity="0.16" fill-opacity="0.09"/><circle cx="450.3" cy="298.3" r="2.17" stroke-opacity="0.36" fill-opacity="0.20"/><circle cx="454.4" cy="298.3" r="2.17" stroke-opacity="0.18" fill-opacity="0.10"/><circle cx="461.5" cy="300.3" r="2.17" stroke-opacity="0.25" fill-opacity="0.14"/><circle cx="470.8" cy="303.8" r="2.17" stroke-opacity="0.20" fill-opacity="0.11"/><circle cx="481.6" cy="302.4" r="2.17" stroke-opacity="0.16" fill-opacity="0.09"/><circle cx="444.1" cy="316.7" r="2.17" stroke-opacity="0.32" fill-opacity="0.18"/><circle cx="461.5" cy="313.6" r="2.17" stroke-opacity="0.25" fill-opacity="0.14"/><circle cx="457.4" cy="315.7" r="2.17" stroke-opacity="0.23" fill-opacity="0.13"/><circle cx="435.9" cy="268.5" r="2.17" stroke-opacity="0.68" fill-opacity="0.37"/><circle cx="442.1" cy="270.6" r="2.17" stroke-opacity="0.50" fill-opacity="0.27"/><circle cx="446.2" cy="271.0" r="2.17" stroke-opacity="0.67" fill-opacity="0.37"/><circle cx="450.3" cy="271.6" r="2.17" stroke-opacity="0.62" fill-opacity="0.34"/><circle cx="444.1" cy="285.9" r="2.17" stroke-opacity="0.67" fill-opacity="0.37"/><circle cx="465.2" cy="302.4" r="2.17" stroke-opacity="0.53" fill-opacity="0.29"/><circle cx="453.3" cy="319.8" r="2.17" stroke-opacity="0.56" fill-opacity="0.31"/><circle cx="458.5" cy="320.8" r="2.17" stroke-opacity="0.53" fill-opacity="0.29"/><circle cx="459.5" cy="323.9" r="2.17" stroke-opacity="0.58" fill-opacity="0.32"/><circle cx="432.8" cy="278.8" r="2.17" stroke-opacity="0.82" fill-opacity="0.45"/><circle cx="458.5" cy="294.8" r="2.17" stroke-opacity="0.95" fill-opacity="0.52"/><circle cx="446.8" cy="314.7" r="2.17" stroke-opacity="0.76" fill-opacity="0.42"/></g></svg> </body></html>
